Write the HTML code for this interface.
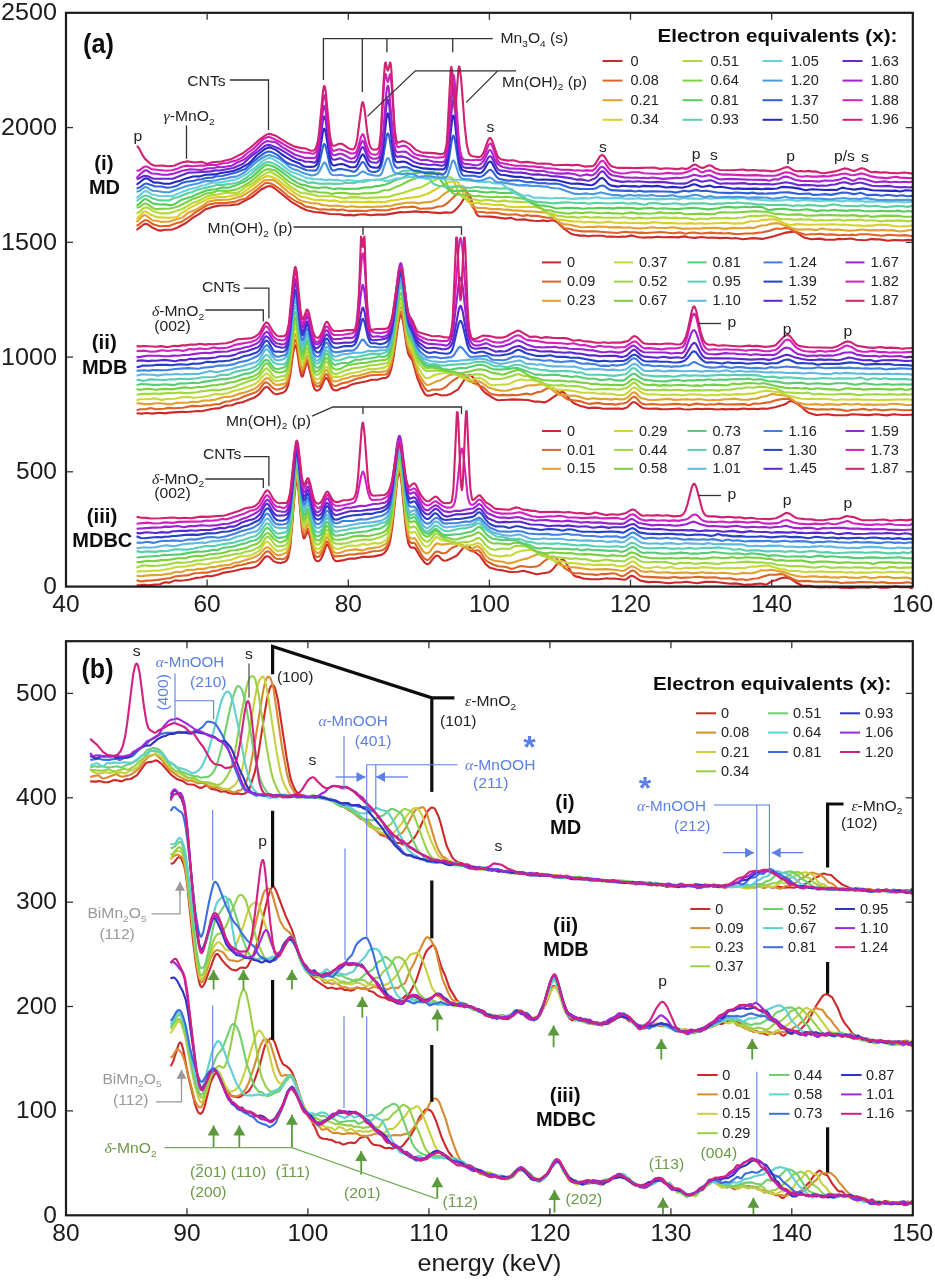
<!DOCTYPE html>
<html><head><meta charset="utf-8"><style>
html,body{margin:0;padding:0;background:#fff;}
svg{display:block;}
text{font-family:"Liberation Sans", sans-serif;}
</style></head><body>
<svg width="935" height="1280" viewBox="0 0 935 1280">
<defs><filter id="soft" x="0" y="0" width="100%" height="100%"><feGaussianBlur stdDeviation="0.45"/></filter></defs>
<rect width="935" height="1280" fill="#fff"/>
<g filter="url(#soft)">
<path d="M136.6 230.0l7 -5.5 2.1 -0.8 2.2 0.7 4.2 3.1 6.3 2.9 2.2 0.2 4.2 -0.8 5.6 0 2.9 -0.6 4.2 -1.7 8.5 -4.5 7 -5.3 6.4 -3.9 5.6 -4.3 7.8 -2.6 7 -1.4 10.6 -0.3 7.8 -1 14.1 -7.3 8.5 -7.1 6.3 -3.3 2.1 -0.4 2.9 0.7 2.1 1.2 18.3 14.7 7.8 4.5 6.3 3 7.8 1.8 7.8 0.6 7.7 1.4 9.9 0.3 4.9 0.8 5 -0.2 4.2 0.5 5.7 -0.9 5.6 -0.1 5.6 0.8 5.7 -0.6 9.2 0 14.8 -2.5 4.2 0.2 11.3 -0.9 6.4 0.7 4.9 -0.4 3.5 0.7 9.2 0.7 5.6 -0.7 5 0.4 2.8 -1 4.2 -4.1 2.9 -3.5 4.9 -8.1 1.4 -1.3 1.4 -0.5 0.7 0.1 1.4 2.2 3.6 11.1 2.1 5.3 1.4 2.2 1.4 1 12 0.4 14.8 2 5 -0.8 5.6 1.9 9.2 -0.3 4.2 1 4.3 0.4 5.6 0.2 3.5 -0.6 4.3 0.8 4.2 -0.9 2.1 0.2 2.1 0.8 2.1 1.4 6.4 6.3 7.1 4.8 2.1 0.7 6.3 1.1 4.3 -0.1 4.2 0.8 4.2 -0.6 9.9 0 4.9 1 3.6 -0.2 8.4 0.5 2.9 -0.4 3.5 0.2 6.3 -1.4 6.4 1.9 6.3 0.3 3.6 -0.4 4.2 0.2 5.7 -0.7 4.2 0.6 9.9 -0.2 5.6 0.3 6.4 -1 4.2 0.9 6.3 0.6 7.1 -0.9 5.7 0.8 5.6 -0.3 7.1 0.6 7 -0.3 4.9 0.7 3.6 -0.5 7 1.3 10.6 -1.2 9.2 0.8 11.3 -2.6 10.6 -3.4 9.1 -1.3 2.9 0.8 7.7 5.2 7.1 1.6 8.5 -0.6 5.6 1 9.2 0.1 4.2 -0.8 4.2 0.4 8.5 -0.8 4.9 1.3 7.8 0.4 2.8 -0.2 4.3 -1.1 3.5 0.5 4.9 0 8.5 1.3 5.6 -0.7 9.2 0.4 5 -0.5 4.9 0.1" stroke="#cc2a2a" stroke-width="2.1" fill="none" stroke-linejoin="round"/>
<path d="M136.6 225.8l2.1 -1.1 4.9 -3.8 2.1 -0.8 2.2 0.6 5.6 3.9 6.4 1.6 9.1 -0.3 7.8 -2.8 4.2 -1 9.9 -6.2 4.2 -3.3 10.6 -6.6 2.8 -1.4 6.4 -1.4 12 -0.3 7.8 -1 6.3 -2.4 4.9 -1.1 18.4 -14.6 1.4 -0.8 1.4 -0.2 3.5 0.7 3.6 1.7 6.3 4.3 7.1 6.3 8.4 5.7 5 1.9 4.2 3 7.1 1.2 7 1.9 4.3 -0.1 4.9 0.4 4.2 -0.4 5 0.7 4.9 -0.6 5.7 1.4 7.7 -0.3 9.9 0.4 7.8 -1.3 4.9 0.7 9.2 -0.1 4.2 -1.3 4.3 -0.5 4.9 -1.3 6.3 0.1 5 -0.7 2.8 0.4 4.2 1.8 12 -0.4 5.7 -1.7 4.9 -0.5 2.1 -0.9 3.6 -2.6 12 -11.5 2.1 -1.4 2.8 -0.7 0.7 0.3 1.4 2.2 3.5 10.6 2.2 4.9 2.1 2.9 2.8 1.8 4.9 0.2 4.3 0.8 5.6 -0.3 5.7 0.4 4.2 1 6.4 0.8 7.7 -0.5 6.4 1.7 4.9 -0.8 3.5 0.8 5.7 0 10.6 1.9 4.9 -0.3 2.1 0.7 2.8 1.9 5.7 7 1.4 1.1 4.9 0.5 5 1.6 8.4 1.1 11.3 -0.1 23.3 1.7 7.8 -1.2 4.2 0.5 5 -0.1 4.2 0.7 3.5 -0.3 4.3 0.4 14.8 -1 12 1.3 7.7 -0.9 5 1.4 4.2 -1 3.5 -0.3 7.8 1 9.9 -0.9 5.6 0.7 3.6 -0.2 4.2 0.4 4.2 -0.5 5 0.9 6.3 0.1 5.7 -0.5 7.7 -0.1 9.2 -1.1 7.8 -1.7 5.6 -2 5.6 0.2 5 -0.9 2.1 0.3 5.6 3 11.3 3.6 5 -0.6 4.9 0.1 5 -0.6 5.6 0.9 4.9 -0.2 9.2 0.9 4.3 -0.6 4.2 0.5 3.5 -0.6 3.5 0.7 4.3 -1 2.1 -0.1 6.3 0.1 13.5 1.4 7 -0.9 9.9 0.7 6.3 -0.4 7.8 1.1" stroke="#dd6428" stroke-width="2.1" fill="none" stroke-linejoin="round"/>
<path d="M136.6 222.0l5.6 -5.8 2.1 -1.1 2.1 0.7 6.4 4.7 4.2 0.3 4.3 1.1 8.4 -0.4 11.3 -3.4 2.1 -1 5 -4.3 8.4 -3.3 5.7 -3.5 5.6 -4.2 8.5 -1.7 13.4 -0.6 12 -3.2 11.3 -6.9 9.9 -8.2 2.8 -1.2 3.5 -0.3 3.6 0.4 2.1 0.8 5.6 4.2 9.2 8.1 4.2 2.4 5 4.1 2.8 1.2 9.2 2.2 7 0.4 5 1.8 2.8 0 4.2 0.7 6.4 -0.5 10.6 1.5 4.9 -0.8 7.8 1.1 5.6 -0.5 7.8 0.2 4.2 -0.5 4.2 0.2 5 -0.8 3.5 0.3 5.6 -1.6 10.6 -1.8 7.8 -0.3 4.2 0.9 4.3 -0.8 8.4 -0.7 7.1 -2.7 5.6 -4.8 6.4 -4.2 4.2 -3.6 2.8 -0.8 4.3 -0.1 1.4 0.5 1.4 2.1 6.3 15 2.2 2.4 3.5 1.8 2.1 0.5 6.4 0 7 1.1 8.5 -0.1 4.2 0.7 3.5 -0.1 5.7 1 6.3 -0.1 5.7 0.9 4.9 -0.2 16.3 1.4 2.1 0.7 3.5 1.8 5.6 6.1 2.9 2.1 2.8 0.8 6.3 0.6 11.3 2.5 3.6 0 4.2 -0.5 4.2 0.4 4.3 -0.5 7.7 0.1 5 0.7 9.1 -0.3 5 0.6 4.9 -0.5 5 1 6.3 0.2 4.2 -0.1 7.8 -1.1 4.2 0.6 9.9 0.2 5.7 -0.7 10.6 1.6 3.5 -0.4 4.2 0.2 3.5 -0.5 5 0.5 4.2 -0.6 13.4 -0.4 8.5 1.2 7.8 -1 9.1 0.4 7.1 -0.7 4.9 0.4 7.1 -2.5 4.9 -0.3 4.3 -1.3 6.3 -0.8 3.5 0.6 13.4 5.1 4.3 0.8 12.7 -0.3 5.6 0.8 6.4 -1.5 2.8 0.6 7.8 0.7 4.9 -0.4 10.6 1.2 6.3 -0.3 7.1 -0.9 7 0.9 5.7 -0.3 4.2 0.3 3.6 -0.5 4.9 0.6 4.2 -0.4 8.5 1.4 12.7 -1.7" stroke="#e0a030" stroke-width="2.1" fill="none" stroke-linejoin="round"/>
<path d="M136.6 218.9l5.6 -5.7 1.4 -1.1 1.4 -0.5 1.4 0.3 4.3 2.9 7.7 2.6 9.9 0.4 7.8 -0.6 2.1 -1.1 4.2 -3.6 4.3 -2.3 4.2 -3 19.1 -9.1 9.8 -1.2 5 0.1 12.7 -2.2 4.2 -1.4 11.3 -7.7 5.6 -5 7.1 -4.2 2.8 -0.6 2.1 0.6 7.1 3.3 17.6 13.5 5.7 3.2 14.1 3.6 5.6 -0.4 9.2 1.2 5 -0.5 5.6 1.5 4.9 -0.4 5 0.5 7 -0.2 5.7 0.4 6.3 -0.6 4.3 0.5 3.5 -0.2 7.1 0.4 6.3 -1.7 3.5 -0.3 13.4 -2.3 12 -1.4 8.5 -3.1 8.5 -4.5 3.5 -2.4 7.8 -4 4.9 -1.1 3.5 0 1.4 0.5 1.5 1.6 6.3 14.7 2.1 3.3 2.1 1.4 8.5 0 3.5 0.6 4.3 0.1 5.6 1.1 5.7 0.3 4.9 -0.3 4.2 1.5 8.5 0.9 13.4 -0.5 8.5 0.4 7.7 2.6 5.7 5.2 7 4.5 15.6 2 7.7 0.1 3.6 0.9 7.7 -0.6 5.7 0.8 5.6 -0.1 5.7 -1.1 5.6 1.3 7.8 0.2 3.5 -0.4 4.2 0.7 4.3 -0.5 12 0.7 6.3 -1 4.2 -0.2 5.7 0.9 11.3 0 4.2 0.4 7.1 0 5.6 -0.4 4.2 0.6 6.4 -0.4 4.2 0.4 20.5 -1 7.8 0.9 10.5 -0.5 5.7 -1.8 7.8 0 4.2 -1.2 10.6 -0.9 2.1 0.2 5.6 1.8 5.7 2.8 4.9 1 6.4 -0.9 11.3 0.7 25.4 -0.5 4.9 0.5 4.2 -0.3 12 1 4.3 -0.3 4.2 0.9 4.2 -0.6 5 0.1 4.2 -0.7 9.9 -0.1 10.6 1.7 11.3 -0.4 4.2 -0.9" stroke="#d8d02c" stroke-width="2.1" fill="none" stroke-linejoin="round"/>
<path d="M136.6 213.7l2.8 -1.8 4.2 -3.8 2.1 -0.9 2.2 0.6 6.3 3.8 4.9 1.5 2.2 0.3 7.7 -0.2 4.3 -1.1 3.5 -1.5 5.6 -1.6 9.2 -5.7 5.7 -1.8 9.1 -4.7 3.6 -1.4 6.3 -0.6 9.2 -2.1 6.3 0.6 5.7 -0.7 2.1 -1.1 6.3 -4.7 6.4 -3 7.8 -6.9 7 -4.2 2.8 -0.8 2.2 0.6 8.4 5.5 10.6 9.1 9.9 5.9 4.9 0.3 12.7 2.8 14.1 0.2 11.3 2 5.7 -0.9 6.3 -0.3 9.2 1 24 -1.2 4.2 -1.7 9.9 -2.4 12.7 -4.4 5.7 -1.2 8.4 -4.9 9.2 -3.9 6.3 -1.2 5 0.1 1.4 0.7 1.4 2.1 4.2 10.1 2.2 3.8 2.8 3.1 3.5 1.9 2.8 0.5 5 -0.3 6.3 1.6 7.1 -1.1 4.9 0.7 5 1.2 7 -1 4.3 0.8 24.7 1.1 2.1 0.7 2.1 1.4 7 6.8 2.9 2 4.9 0.4 4.9 1.9 3.6 0.2 7 1.3 5 -0.3 5.6 0.9 7.1 -1.1 5.6 1 6.4 -0.6 6.3 0.6 16.2 0 3.6 -0.5 9.9 1.4 5.6 -1 9.2 0.9 4.9 -0.8 3.5 0.2 8.5 -0.5 5 0.9 4.9 -0.7 4.9 0.7 5.7 -0.4 9.1 1.6 5.7 -1 7.1 0.5 4.2 -0.9 11.3 0.2 4.2 -0.6 7.1 0.8 3.5 -0.7 4.9 -0.3 5.7 -1.3 3.5 -0.3 7.1 0.2 7 -0.9 7.1 1.3 5.6 2.1 4.3 0.7 4.9 -0.2 7.1 0.6 5.6 -0.6 4.2 0.7 4.3 -0.6 7 1.6 5 -0.8 4.9 0.5 12.7 -0.9 4.9 1.1 4.3 -0.6 7.7 0.1 4.3 -0.7 4.9 1 11.3 0 4.9 0.9 5.7 -0.9 4.9 0.4 7.8 -0.5 9.9 1 3.5 -1.1" stroke="#b0d838" stroke-width="2.1" fill="none" stroke-linejoin="round"/>
<path d="M136.6 207.8l2.8 -0.7 4.2 -3.1 1.4 -0.5 2.2 0.6 5.6 3.8 2.8 1.2 14.1 -0.6 5 -1 4.9 -1.7 12.7 -6.5 6.4 -2.2 7 -3.5 7.1 -1 5.6 -2.1 7.1 0.4 4.9 -0.3 7.1 -1.4 12 -6.9 4.9 -3.8 7.8 -6.9 3.5 -1.9 2.8 -0.6 6.4 1.3 7 5.3 4.3 4 2.8 2 8.5 4.7 5.6 1.8 5.6 3 2.2 0.4 3.5 -0.4 4.2 1.1 8.5 0.4 4.9 1.2 5 -0.9 7 -0.2 5 0.8 9.1 0.4 5.7 -0.8 7 -0.1 7.1 -0.6 5.7 -2.2 4.2 0 1.4 -0.3 6.3 -2.9 4.3 -1.5 9.2 -4.9 9.1 -3.3 7.8 -1.5 4.2 -1.5 6.4 -1.5 2.1 -0.1 2.1 0.6 1.4 1.2 2.1 3.7 5.7 11.9 2.1 2.4 2.8 1.5 3.6 0.6 6.3 0.1 5.6 0.5 4.3 0.9 4.2 -0.5 4.2 1 4.3 0 3.5 0.5 5.7 -0.5 5.6 0.6 4.9 -0.5 16.3 1.8 6.3 1.5 7.1 6.4 7 3.3 2.2 0.4 4.2 0 4.9 1.8 13.4 1.6 6.4 -1.1 6.3 0.6 7.8 -0.9 12.7 1 6.4 -0.4 4.9 0.6 4.2 -0.2 5 0.6 9.1 -1.4 7.1 1.2 5.6 -0.3 4.3 0.5 7 -0.6 4.3 -0.8 7 0.8 4.3 -0.2 3.5 0.4 4.9 -0.7 6.4 1.5 15.5 -0.6 4.9 0.5 7.1 -0.1 1.4 -0.1 4.9 -1.6 15.6 0.2 20.4 -1.4 6.4 0.6 4.2 -0.1 9.2 2.3 4.2 0 7.8 0.9 13.4 -0.4 4.2 1 3.6 0.3 9.1 -0.3 4.3 -0.5 4.2 0.4 3.5 -0.2 18.4 0.5 4.9 -0.5 8.5 1.3 5.6 -0.9 5 1.4 12.7 -1.3 14.1 0.3 4.2 0.7 9.9 0.2" stroke="#80d040" stroke-width="2.1" fill="none" stroke-linejoin="round"/>
<path d="M136.6 205.6l2.8 -1.8 4.2 -4.1 1.4 -0.6 2.2 0.6 4.9 3.2 2.8 1 5 0.6 4.9 -0.3 4.2 0.9 2.9 0 3.5 -1.4 6.3 -4 10.6 -3.2 4.2 -2.1 10.6 -4.1 8.5 -1 6.4 -1.9 6.3 0.3 5.6 -1.6 9.2 -3.8 8.5 -4.9 11.3 -10.3 2.1 -1.5 2.1 -0.6 4.2 0.7 2.9 1.1 6.3 4.1 11.3 8.6 8.5 4.9 4.9 0.9 5.7 1.8 7 0.9 7.8 -0.8 7.7 1.9 5.7 -0.8 4.2 0.6 14.8 -0.3 7.8 -1.3 4.9 0.1 3.6 -1 4.9 -0.5 5.7 -1.2 5.6 -2.1 4.2 -2.3 5.7 -1.5 3.5 -1.6 3.5 -2.3 2.2 -0.8 12.7 -1.8 7.7 -0.5 2.8 0.2 1.5 0.3 1.4 1 9.1 12.8 2.9 2.8 2.8 1.6 2.1 0.4 5.7 -0.2 9.8 0.6 6.4 -0.6 6.3 1.2 6.4 0.6 5.6 -0.8 7.1 1.3 7.7 -0.2 3.6 0.3 4.9 -0.6 5.7 2.7 7.7 6.8 5 2.8 2.1 0.5 8.4 0.4 6.4 1.3 4.9 1.5 9.9 -0.8 11.3 0.4 5.7 0.6 4.9 -0.4 6.3 0 5 -0.6 6.3 0.6 3.6 -0.2 3.5 0.5 5.6 -1 4.3 0.4 4.2 -0.3 5.7 0.3 4.9 0.9 13.4 -1.1 4.9 0.9 6.4 -0.5 14.1 0.9 16.2 -1.3 15.6 1.6 10.5 -1.2 3.6 -0.9 7 -0.4 5.7 0.7 9.1 -0.9 5.7 0.6 8.5 -0.7 4.9 0.8 4.2 2.2 2.1 0.5 6.4 -1 7.8 -0.3 9.8 1.5 7.1 -0.3 6.4 -0.8 9.8 1.9 5 -0.8 6.3 0.5 6.4 -1.1 4.2 0.9 3.5 -0.2 3.6 0.5 4.2 -0.5 9.2 0 5.6 0.9 10.6 0 4.9 -0.6 6.4 0.6 3.5 -0.3 3.5 0.2 4.3 -0.6 5.6 1.2 5 -0.8 4.2 0.6" stroke="#58cc58" stroke-width="2.1" fill="none" stroke-linejoin="round"/>
<path d="M136.6 201.0l7 -5 2.1 -0.6 3.6 1.1 4.2 2.3 6.4 1.6 9.1 0.1 5 -2.5 4.2 -0.7 7.8 -3.6 5.6 -1.4 5.7 -2.4 4.9 -1.4 9.9 -2.1 4.9 -1.6 6.4 0.3 4.9 -1.1 4.2 -0.2 5 -1.2 2.8 -1.2 7.1 -4.4 14.8 -12.5 2.8 -1.7 2.8 -0.8 3.5 0.6 4.3 1.8 16.2 11.3 7.1 3.6 4.2 1.1 4.9 2.5 4.3 -0.5 7 1.4 9.9 -0.3 4.2 0.4 8.5 -0.2 4.2 -0.9 7.1 0.5 6.4 -1.8 5.6 0.1 6.4 -1.6 8.4 -0.4 5.7 -1.5 4.9 -2.2 4.9 -1.4 7.1 -3.5 8.5 -0.8 5.6 0.4 2.8 0.5 4.3 1.5 2.8 2.7 6.3 8 2.2 1.3 4.2 1.4 6.3 0.7 14.9 0 9.8 1.3 6.4 -1.2 4.9 0.8 5 0 4.2 0.8 4.2 -0.3 5 0.7 4.2 -0.5 2.1 0.1 4.3 0.7 2.1 0.7 9.9 8.2 3.5 1.9 9.2 1.7 18.3 1.8 10.6 -1 7.1 0.1 4.9 0.7 7.1 -0.5 5.6 1.1 6.4 -1 12.7 0.7 14.8 -0.8 4.9 1.1 7.1 -0.7 9.8 1.6 5 -1.4 6.3 -0.2 8.5 1.2 10.6 -1 9.2 1.3 6.3 -1.2 14.1 0 7.1 0.9 4.9 -0.7 7.1 0 4.9 -0.8 4.3 0.4 4.2 -0.7 4.2 0.2 3.6 0.8 4.2 -0.3 8.5 1.3 4.9 0 5.6 0.5 17 -0.3 7.7 1.3 5 -0.7 4.9 0.4 5.7 -0.8 15.5 1.3 9.2 -2 8.4 1.5 16.3 0.5 4.9 -0.9 5.6 1.2 8.5 -0.7 7.1 1.4 12.7 -1.1 6.3 0.1 4.3 0.7 5.6 -1.1" stroke="#58d0a0" stroke-width="2.1" fill="none" stroke-linejoin="round"/>
<path d="M136.6 198.1l7 -6.2 1.4 -0.8 2.2 0.3 4.2 2.8 7.7 1.8 3.6 0.3 4.9 -0.6 4.3 0.6 11.2 -4.7 7.1 -2.5 7.1 -1.6 3.5 -1.7 4.2 -0.6 5.7 -2.1 4.2 -0.6 4.9 0.1 16.3 -3.1 6.3 -3.1 5 -3.1 4.2 -3.3 3.5 -2 5 -5.1 2.1 -1.6 5.6 -3.1 2.1 -0.4 1.4 0.4 9.2 5.4 6.4 5.3 3.5 2.5 9.2 3.4 5.6 2.8 8.5 1.5 7.8 0.3 4.2 0.7 4.2 -0.6 3.5 0.6 3.6 -0.2 4.2 0.8 3.5 -0.1 3.6 -0.6 4.9 0.8 6.4 0.2 7 -1.1 3.5 0.3 8.5 -0.7 8.5 1.6 4.9 -1.1 4.3 -1.6 4.9 0.2 7.8 -1.8 5.6 0.2 3.5 0.8 3.6 -0.1 4.9 1.2 8.5 -1 10.5 1.4 17.7 0.7 4.9 0.7 4.3 -0.2 5.6 1.4 3.5 -0.5 3.6 0.5 3.5 -0.1 5.6 1.6 5 -0.1 2.1 0.5 2.8 1.7 9.9 7.6 3.5 1.6 6.4 1.1 4.2 -0.5 5.7 2.4 6.3 -0.1 10.6 0.9 4.9 -0.5 7.1 0 9.9 0.9 11.3 -0.8 4.9 0.4 7.8 -1.3 7.7 1.3 16.3 -0.6 4.9 0.8 4.2 -0.2 4.3 0.3 4.9 -0.7 5.6 1.2 5 -0.7 7.7 0.8 14.2 -0.8 6.3 0.9 6.4 -1.5 4.2 0.8 4.2 -0.4 8.5 0.6 4.2 -1 4.3 0.6 12 -0.7 13.4 0.8 7.7 -0.9 7.8 1.7 5.6 -0.3 4.3 0.8 14.1 0.6 7 -0.1 7.1 -1 9.2 1.5 6.3 -1.1 15.6 1.4 9.1 -0.7 8.5 0.2 4.9 0.6 6.4 -1 4.2 0.7 8.5 -0.1 4.2 0.9 3.5 -0.5 5.7 0.4 4.9 -0.5 5 0.4 3.5 0.7 4.2 -0.7 6.4 0 5.6 0.8 8.5 -1" stroke="#68d0d8" stroke-width="2.1" fill="none" stroke-linejoin="round"/>
<path d="M136.6 191.7l2.8 -0.7 4.9 -3.5 1.4 -0.4 1.5 0.4 3.5 2.4 2.1 0.8 4.2 0.3 7.1 1.3 5.6 -0.2 17.7 -6.4 11.3 -2.5 6.3 -2.2 5 0.1 6.3 -0.8 4.2 -1 5 -0.7 4.2 -1.2 6.4 -0.8 3.5 -1.5 5.6 -3.3 9.2 -8.2 4.2 -3.2 7.1 -4.4 3.5 -0.9 3.6 0.8 7.7 3.7 4.3 3.2 4.9 4.4 2.8 1.7 5.7 1.7 4.9 2.5 8.5 2.4 4.2 -0.9 2.1 -1.3 2.1 -3 2.9 -6.2 1.4 -1.6 0.7 0.2 0.7 0.8 4.2 9.3 1.4 1.6 1.4 0.6 3.6 0.2 4.9 -0.4 5.7 1.4 8.4 -0.5 2.1 -0.5 3.6 -3 2.1 -0.8 4.9 2.7 6.4 1.4 4.9 0.2 1.4 -1 1.4 -2.2 4.3 -12.8 1.4 -1.8 0.7 0.4 0.7 1.2 4.2 11.6 2.1 2.2 6.4 1 4.9 -0.9 2.2 0.1 4.9 1 4.2 2 2.1 0.4 9.9 -0.6 5.7 0.9 8.4 0.5 2.2 -0.7 1.4 -2 4.2 -13 0.7 -1.3 0.7 -0.4 1.4 1.9 3.6 11.1 1.4 3.2 1.4 1.7 2.1 0.9 6.3 0.2 4.3 1.4 4.2 0.1 4.2 -0.6 6.4 -2.5 1.4 -0.2 1.4 0.6 3.5 3.2 2.2 0.9 4.9 0.2 16.9 3 7.1 -0.3 6.3 1 4.3 -0.4 4.9 0.7 5 0.2 3.5 1.1 4.2 0.6 5 0.2 15.5 5.4 5.6 0.1 5.7 -0.6 3.5 0.6 4.2 0.1 7.1 -1.7 11.3 2.7 5.6 0 5 0.9 7 -1.1 4.3 0.9 3.5 -0.5 9.2 0.4 4.9 -0.7 4.2 0.7 7.1 0.4 4.2 -0.1 5 -0.9 5.6 1.6 7.1 -0.1 3.5 -0.2 4.2 -1.3 2.9 -0.3 3.5 0.6 5.6 1.8 5.7 -1.3 5.6 1.6 12 -0.8 4.2 0.4 7.1 -0.3 9.9 1 4.9 -0.4 13.4 0.3 5 1 7.7 -0.8 5 -1.2 4.2 1 7.1 0.6 9.8 -0.2 8.5 0.7 4.2 -0.2 10.6 0.7 2.9 0 4.2 -0.8 3.5 0 3.5 -0.5 5.7 0.8 6.3 -0.1 4.3 0.3 6.3 -0.9 12.7 2.2 5 -0.4 9.1 0.3 4.3 -0.5 4.2 0.4 7.1 -0.3 2.1 0.3 2.1 0.8" stroke="#4898e0" stroke-width="2.1" fill="none" stroke-linejoin="round"/>
<path d="M136.6 188.6l3.5 -1.4 4.2 -3.1 2.1 -0.6 9.2 3 5.7 0 5.6 1.2 5 -0.5 4.9 -1.4 4.9 -2.7 5 -1.4 7 -0.8 4.3 -1.3 3.5 -0.3 4.9 -1.4 5.7 -0.1 4.2 -1.6 5.7 -0.2 14.1 -3.5 9.1 -3.4 7.1 -6.6 5.6 -4.6 7.1 -5.2 3.5 -1.2 2.8 0.4 5.7 2.7 9.2 7.6 3.5 1.8 4.9 1.4 12 4.8 9.2 0.4 1.4 -1.3 1.4 -3.1 4.3 -19.3 0.7 -2.1 0.7 -0.8 0.7 0.6 0.7 1.8 4.2 19.3 1.4 3.3 1.4 1.4 1.5 0.1 4.2 -1.4 2.8 -0.1 7.1 1.3 4.2 1.3 2.1 0 1.4 -0.8 1.4 -1.6 4.3 -6.7 1.4 -0.5 1.4 1.3 3.5 6.2 1.4 1.6 2.9 0.9 3.5 -0.1 2.1 -0.9 1.4 -1.1 2.1 -4.2 1.4 -5.9 3.6 -22.7 0.7 -2.7 0.7 -1 0.7 0.9 0.7 2.5 4.2 25 0.7 2.4 1.4 2.7 2.2 1.1 4.9 -1.1 4.2 0.3 2.2 0.7 4.9 2.9 3.5 0.3 7.8 1.9 4.2 0 12.7 1.4 1.4 -0.2 1.4 -1 1.5 -2.4 1.4 -4.8 4.2 -26.8 0.7 -2.6 0.7 -0.9 0.7 1 0.7 2.7 3.6 23.3 1.4 6.5 2.1 5 1.4 1.3 1.4 0.3 9.2 -0.1 4.9 1.2 2.1 -0.1 2.9 -1.6 4.9 -4.9 2.1 -0.5 1.4 1 4.3 6 2.1 1.9 9.1 1.9 10.6 -0.4 8.5 2 5.6 -0.2 7.1 1.2 4.9 -0.2 4.3 0.8 7 -0.3 4.3 0.7 9.8 3.5 9.9 1.2 13.4 0.1 2.9 -0.7 4.2 -2.4 2.1 -0.5 2.1 0.6 4.3 3.2 2.1 0.9 14.1 0.8 4.9 -0.3 5.7 0.9 4.2 -0.7 4.9 0.8 9.9 -0.4 17 0.6 4.2 0.8 8.5 -1.8 4.9 0.6 7.8 -1.3 4.2 0.9 5.6 -0.2 10.6 1.7 14.1 0.6 4.3 -0.6 12 0.9 4.9 -0.8 5 1 4.2 -0.2 3.5 0.4 3.5 -0.5 5.7 0.1 5.6 -0.9 8.5 -0.1 10.6 1.6 9.9 -0.5 4.2 1.4 6.4 -0.2 4.9 -0.6 6.3 0.8 12 -2.4 4.3 0.3 6.3 1.3 2.1 -0.2 5 -1.2 6.3 2.4 9.2 -0.4 5.7 1.1 5.6 -1 9.2 1.2 5.6 -0.8 5 1.1 5.6 -0.4" stroke="#3060d8" stroke-width="2.1" fill="none" stroke-linejoin="round"/>
<path d="M136.6 184.8l7 -5.6 2.1 -0.9 2.2 0.5 5.6 3.6 5.6 0.4 5 1 5.6 0 6.4 -2 4.2 -1 5.7 -2.4 7 -1.9 6.4 -0.1 6.3 -1.6 9.2 -0.4 4.9 -1.2 13.4 -2.2 6.4 -2.4 8.5 -4.7 2.8 -2.4 5.6 -6 7.8 -6 4.2 -2.1 2.1 0.2 5.7 2.5 4.9 3.9 5.7 3.7 5.6 3.1 6.4 2.4 4.9 3.1 2.1 0.5 5.7 0.1 2.8 -0.4 2.1 -1.6 1.4 -3.2 0.7 -2.6 4.3 -26.9 0.7 -2.7 0.7 -0.9 0.7 1 0.7 2.7 4.2 26.4 1.4 4.5 1.4 2 1.5 0.4 4.9 -1.4 2.8 -0.2 2.1 0.5 6.4 2.8 4.2 -0.1 1.4 -0.7 1.4 -1.8 3.6 -8.3 1.4 -1.9 0.7 -0.1 1.4 1.9 3.5 7.6 2.1 2.6 2.2 0.9 4.2 0.4 1.4 -0.2 1.4 -1.2 0.7 -1.2 1.4 -4.8 1.4 -9 3.6 -32.7 0.7 -3.9 0.7 -1.4 0.7 1.2 0.7 3.7 4.2 35.7 0.7 3.4 1.4 3.7 0.8 0.7 1.4 0.5 4.9 -0.7 2.1 0.2 2.1 0.7 6.4 3.6 9.9 2.3 13.4 1 6.3 0 1.4 -0.4 1.4 -1.6 1.5 -4.5 0.7 -3.8 4.2 -38.5 0.7 -3.8 0.7 -1.3 0.7 1.4 0.7 4 3.6 34 1.4 8.9 0.7 2.7 1.4 3 1.4 1.1 4.2 1.1 11.3 1.4 2.1 -0.3 1.4 -0.9 1.5 -1.7 4.2 -7.2 1.4 -1.3 0.7 -0.2 0.7 0.2 1.4 1.6 3.6 7.1 1.4 2.1 1.4 1.3 2.1 1 3.5 0.2 10.6 1.9 5.6 -0.1 5 1 4.9 0 4.3 1.4 3.5 0.6 4.9 -0.3 12.7 0.6 15.6 3.7 7.7 -0.2 11.3 1.6 2.1 -0.2 1.4 -0.6 2.2 -1.6 4.2 -4.2 2.1 -0.7 2.1 1.4 3.6 4.3 1.4 1.1 2.1 0.9 6.3 1 5 -0.9 7.7 0.7 4.3 -0.3 4.2 0.7 4.9 -0.9 8.5 0.5 4.9 -0.5 9.2 1.6 5.7 -0.6 9.8 0.8 6.4 -1.5 4.2 -1.7 1.4 -0.2 1.5 0.2 5.6 2.3 2.1 0 6.4 -1.2 4.9 1.6 6.4 -0.4 12 2 4.9 -0.4 5.6 0.5 13.4 -0.3 5 0.6 4.2 -0.6 5.7 0.3 5.6 -0.4 3.5 -1.3 2.2 -0.3 9.8 0.7 7.8 1.3 4.9 1.3 6.4 -1 13.4 0.8 7.1 -0.3 4.2 0.3 5.6 -2.4 4.3 0.9 7.7 1.1 8.5 -1.2 9.9 1.8 18.3 0.7 4.3 -0.3 4.9 0.9 5.6 -1.2 7.1 0.5" stroke="#2828c0" stroke-width="2.1" fill="none" stroke-linejoin="round"/>
<path d="M136.6 179.2l2.8 -1 4.2 -2.2 2.1 -0.3 2.2 0.5 4.2 2.1 2.1 0.5 18.4 0 16.2 -6.2 6.3 -0.1 15.6 -1.1 4.9 -1 4.2 0.1 13.4 -2.5 9.9 -4.2 9.9 -9 5.6 -3.8 6.4 -5.1 2.8 -1.1 2.1 0.2 9.2 3.6 11.3 7.1 7.1 3.7 4.2 0.9 3.5 1.5 4.3 -0.1 4.9 0.9 1.4 -0.9 0.7 -1.1 1.4 -4.2 1.4 -7.8 3.6 -28.2 0.7 -3.1 0.7 -1 0.7 1.3 0.7 3.3 4.2 31.9 1.4 4.9 1.4 1.8 2.2 0.3 4.2 -1.4 1.4 0 7.1 3.1 4.9 0.8 2.1 -0.1 1.4 -1 1.4 -2.4 3.6 -9.7 1.4 -2 0.7 0.1 0.7 0.8 3.5 9.2 2.1 3.8 2.2 1.3 4.2 0.5 1.4 -0.2 2.1 -2 1.4 -3.7 0.7 -3.1 1.4 -10.1 3.6 -38.2 0.7 -4.4 0.7 -1.7 0.7 1.4 0.7 4.1 4.2 41.9 0.7 4.1 1.4 4.6 1.5 1.4 4.2 -0.5 4.2 0.9 3.6 1.6 5.6 3.4 4.2 1.3 11.3 1.4 4.3 -0.5 7 1.2 2.1 -0.3 1.4 -1.3 1.5 -3.7 1.4 -8.1 4.2 -45.9 0.7 -4.5 0.7 -1.6 0.7 1.7 0.7 4.7 3.6 40.9 1.4 10.9 0.7 3.4 1.4 3.6 1.4 1.4 2.8 1 7.1 0 5.6 0.9 2.1 -0.4 1.4 -1 1.5 -1.6 4.2 -7.8 1.4 -1.6 0.7 -0.2 0.7 0.2 1.4 1.8 5 10.2 1.4 1.5 1.4 0.7 4.2 0.2 8.5 1.6 8.5 0.2 5.6 0.8 4.9 1.2 7.1 -0.2 4.9 0.8 3.6 0.1 4.2 1 5.6 0.1 14.9 2 4.2 1.2 4.9 -0.2 6.4 1.4 2.1 -0.3 5.7 -2.3 1.4 -1.2 3.5 -4.6 2.1 -1.2 1.4 0.6 4.3 5.3 2.8 2.1 2.8 1.2 8.5 1.5 7 -0.7 4.3 0.5 4.9 -0.5 10.6 1.1 12.7 -0.4 12.7 1.5 10.6 0.2 2.1 -0.5 6.3 -3.1 2.2 -0.5 6.3 2.2 7.8 -1.4 2.1 0.1 5.6 2.6 2.9 0.7 5.6 -0.4 7.1 0.3 11.2 -0.5 5.7 1.1 4.2 -0.4 5 0.5 8.4 -0.2 5.7 0.4 12.7 -2.2 7 1.2 5.7 1.8 6.3 -0.4 8.5 0.3 4.2 0.7 5 -0.4 4.2 0.2 4.2 -0.9 4.3 -0.3 5.6 -1.8 2.8 -0.4 2.9 0.3 4.9 1.7 7.1 -1.5 2.8 -0.1 10.6 3.1 7.7 0.4 9.2 -0.3 4.9 0.9 7.1 0.6 4.2 -0.4 5 0.5 2.8 -0.7" stroke="#6a28d0" stroke-width="2.1" fill="none" stroke-linejoin="round"/>
<path d="M136.6 177.9l4.2 -4.4 3.5 -2.7 1.4 -0.5 1.5 0.3 2.8 2.1 2.1 0.8 4.9 0.3 5 1 6.3 -0.2 5.7 -1.1 8.4 -2.7 7.8 -1.6 11.3 0.8 6.3 -1.8 5 0.1 4.9 -1.3 4.3 0.2 9.8 -1.5 5 -2.9 7.7 -3.4 11.3 -9.1 6.4 -6.4 2.8 -2 2.1 -0.8 7.1 0.9 2.1 0.6 5.6 4.2 12.7 7.7 10.6 3.4 9.2 0.2 1.4 -0.9 0.7 -1.1 1.4 -4.5 1.4 -8.6 3.6 -32.2 0.7 -3.7 0.7 -1.2 0.7 1.3 0.7 3.7 4.2 35.5 1.4 5.8 1.4 2.5 0.7 0.4 1.5 0.1 4.2 -1.4 2.1 -0.1 2.1 0.8 6.4 3.7 2.1 0.4 2.1 -0.5 1.4 -1.2 1.4 -2 4.3 -11.6 1.4 -2.3 0.7 0 0.7 1 3.5 10.7 2.1 4 1.4 1.1 2.2 0.9 2.1 0.1 2.1 -0.4 1.4 -0.8 1.4 -2.6 1.4 -6.4 1.4 -12.1 3.6 -44.1 0.7 -5 0.7 -1.9 0.7 1.6 0.7 4.8 4.2 48 0.7 4.8 1.4 5.4 0.8 1.3 1.4 0.9 5.6 -0.8 2.8 0.4 6.4 4.6 8.5 3.6 5.6 -0.3 6.3 1.8 9.2 0.7 2.1 -0.8 1.4 -2.5 1.5 -6.3 0.7 -5.4 4.2 -53.1 0.7 -5.1 0.7 -1.6 0.7 2 0.7 5.4 3.6 45.6 1.4 12.3 0.7 4 1.4 4.5 1.4 1.9 1.4 0.7 4.9 0.3 5.7 1.2 2.8 -0.4 2.8 -1.1 2.9 -3.1 4.9 -10.1 1.4 -0.8 1.4 1.5 3.5 8.3 2.2 3.7 2.1 1.9 3.5 1.7 6.4 1.4 14.8 0.6 13.4 2.1 5.6 -0.4 5 1.6 4.2 0.3 3.5 0.8 7.1 0.2 4.9 -0.5 7.1 1.2 4.9 1.5 2.1 -0.2 4.3 -1.2 4.9 1 2.1 -0.4 2.9 -2.2 4.2 -5.3 2.1 -0.8 2.1 1.3 5 5.8 2.8 1.5 12 2.1 7.7 0.4 4.3 -0.3 4.2 0.5 3.5 -0.2 3.6 0.4 4.9 -0.7 10.6 1.4 13.4 -1 4.2 0.1 7.1 -1 6.3 -2.3 7.8 1.8 2.1 -0.2 4.3 -1.1 1.4 0 8.4 3.5 2.9 0.7 9.8 -0.5 19.8 0.9 14.1 0.1 4.9 0.9 4.3 -1.5 4.9 0.2 4.3 -2.4 2.8 -0.5 2.8 0.5 7.1 2.9 5.6 0.9 9.2 0.1 9.2 0.6 4.9 -1.1 7.8 0.2 5.6 -0.8 6.4 -2.1 2.1 0.4 6.3 2.6 2.1 -0.4 3.6 -1.8 4.9 0.1 12 3.6 9.2 -0.9 6.3 0.8 5 -0.5 4.2 0.5 4.9 -0.4 4.3 0.5 3.5 -0.9" stroke="#a820d0" stroke-width="2.1" fill="none" stroke-linejoin="round"/>
<path d="M136.6 170.6l2.8 -0.2 4.2 -3.3 2.1 -0.6 2.2 0.5 4.2 2.3 14.1 1.4 5.7 -0.5 6.3 -1.8 3.5 -1.7 5 -1.1 5.6 0.6 8.5 -0.7 3.5 0.1 5 -1 7 0.4 6.4 -1.7 4.9 -0.3 3.5 -1.4 4.3 -0.7 7 -3.5 5.7 -4.9 5.6 -3.9 9.2 -9.3 4.9 -2.3 1.4 0 2.1 0.8 7.8 3.7 10.6 6.3 8.5 3.4 6.3 1.5 3.5 0 4.3 1 2.1 -0.5 1.4 -1.2 0.7 -1.3 2.1 -9 4.3 -40.7 0.7 -4.1 0.7 -1.5 0.7 1.4 0.7 3.9 4.2 40 1.4 6.9 1.4 2.8 1.5 0.5 3.5 -1.4 2.1 -0.2 6.3 1.9 4.3 2.2 2.8 0.1 2.1 -0.7 1.4 -1.7 0.7 -1.6 3.6 -12.6 1.4 -2.7 0.7 0.1 0.7 1.1 3.5 11.7 2.1 4.9 1.4 1.6 1.5 0.7 2.8 0.4 2.1 -0.3 1.4 -1.6 0.7 -2.3 1.4 -10.7 3.6 -59.7 0.7 -5.5 0.7 -0.5 1.4 6.3 0.7 1.6 0.7 -1.4 1.4 -6.3 0.7 0.4 1.4 14.9 2.8 46.2 0.7 5.8 1.5 4.9 1.4 0.7 4.2 -1.5 2.8 0.2 2.8 1.9 5.7 5.7 2.8 1.4 12 2.1 4.2 0.2 2.9 0.5 7.7 -0.6 1.4 -1.3 0.7 -1.7 1.5 -6.9 0.7 -5.8 4.2 -58.5 0.7 -6 0.7 -2.3 0.7 1.9 0.7 5.8 3.6 52.1 1.4 13.9 0.7 4.3 1.4 4.8 1.4 1.8 1.4 0.5 7.1 0.5 4.9 -0.5 3.5 0.3 1.4 -0.5 1.4 -1.6 1.5 -2.6 4.2 -10.6 1.4 -1.3 0.7 0.3 1.4 2.3 5 13.6 1.4 2.1 1.4 1.1 15.5 3 8.5 0 4.9 0.7 4.3 -0.2 4.2 0.8 3.5 0 4.2 1 9.9 0.7 5.7 1 9.9 0.1 3.5 0.6 4.2 -0.3 4.2 0.5 3.6 -0.3 6.3 0.2 2.9 -1.9 4.9 -6.7 2.1 -1.3 0.7 0.1 1.4 1.2 4.3 6.3 2.1 2.1 2.8 1.5 7.1 1.6 4.9 -0.2 6.3 -1 7.1 0 4.9 0.9 11.3 0.6 6.4 0 6.3 -0.9 7.1 0.7 7 -0.2 7.1 -2.1 4.2 -2.3 1.4 -0.3 2.2 0.6 4.2 2.8 1.4 0.1 4.2 -1.5 3.6 -0.3 5.6 2.9 6.4 1.3 3.5 -0.2 19.8 1 10.5 -0.3 5.7 0.5 12.7 0.2 3.5 -0.8 6.4 -2.5 2.1 -0.2 4.2 0.7 7.8 3.2 3.5 0.6 5 -0.8 4.2 0.6 5.6 0 6.4 -0.5 4.9 0.4 5 -1.1 3.5 -0.1 4.2 -1.3 4.3 -0.5 5.6 1.5 2.8 0.2 8.5 -1.8 2.1 0.5 5.7 2.2 7 1.3 9.9 0.7 9.2 -1.3 4.2 0.8 12.7 0.6" stroke="#d020b8" stroke-width="2.1" fill="none" stroke-linejoin="round"/>
<path d="M136.6 146.3l0.7 0.1 1.4 1.4 4.2 7.9 2.1 3.2 6.4 5.6 3.5 1.2 8.5 -0.1 4.2 0.7 6.4 -0.5 7.7 -3.3 5.7 -1.1 7.7 1.1 7.1 -0.6 4.9 2.1 5 -1.8 9.1 -0.7 10.6 -2.6 10.6 -5.4 9.9 -7.4 7.1 -6.5 6.3 -4.5 2.8 -1.2 2.1 0.2 5.7 2 10.6 6.6 7.7 3.9 7.1 1.5 3.5 0.3 5.7 2.3 2.1 0.1 1.4 -0.7 1.4 -1.8 2.1 -7.3 1.4 -10.3 3.6 -38.6 0.7 -4.5 0.7 -1.7 0.7 1.4 0.7 4.3 4.2 43.9 1.4 7.1 1.4 2.9 1.5 0.4 4.9 -2.1 2.1 0 2.1 0.8 5 3.5 2.8 1.2 2.1 0.1 1.4 -1.3 1.4 -3.5 1.4 -6.9 4.3 -33 0.7 -2.3 0.7 0 1.4 6.4 2.8 24.1 2.1 11.5 1.4 3.4 1.5 1.4 1.4 0.4 3.5 -0.2 1.4 -1.5 0.7 -2.3 1.4 -11.3 2.9 -53.5 1.4 -17.6 0.7 -0.8 1.4 6.6 0.7 1.6 0.7 -1.5 1.4 -6.5 0.7 0.5 0.7 5.7 2.8 51.8 0.7 9.6 1.5 10 0.7 1.8 0.7 0.7 4.9 -1.6 3.5 1 3.6 2 6.3 5.8 6.4 2.7 12 0.5 5.6 1 3.5 -0.5 1.4 -1.6 1.5 -6.7 0.7 -7.3 3.5 -66.9 0.7 -4.2 0.7 3.3 2.1 33 0.7 6.5 0.7 -0.1 2.9 -40.2 0.7 -3.1 0.7 1.9 1.4 11.5 3.5 46.2 2.1 18.9 2.1 8.4 1.4 2.1 2.2 0.9 6.3 0.9 1.4 -0.3 1.4 -1 2.2 -3.7 4.2 -11.7 1.4 -2.2 0.7 -0.3 0.7 0.4 1.4 2.5 5 14.6 1.4 2.2 2.1 1.6 7 1.4 5.7 -0.3 7.8 2.1 6.3 -0.5 5.7 0.8 4.2 1 4.2 -0.2 7.8 0.3 4.9 1.5 13.4 -0.6 4.3 0.7 5.6 -0.7 7.1 1.9 7.7 -0.5 2.1 -1 5 -8.1 1.4 -1.6 1.4 -0.5 2.1 1.5 4.3 7.1 2.1 2.3 2.1 0.9 4.9 1.2 11.3 -0.2 5 0.4 19.7 -0.6 6.4 1.4 6.3 -0.6 11.3 0.8 4.2 -0.9 4.3 0.9 2.1 -0.8 4.2 -3 2.1 -0.7 1.5 0.2 3.5 2.3 2.1 0.8 2.1 -0.3 4.3 -2.1 2.1 -0.1 1.4 0.5 4.2 2.9 4.3 1.2 12.7 0.3 9.8 -0.8 5 0.9 6.3 -0.4 5.7 0.6 4.9 -0.1 7.8 0.9 7 -1.6 5 -2.2 2.8 -0.5 2.1 0.5 4.2 2.7 2.9 1 4.9 -0.2 3.5 0.4 3.6 -0.6 4.2 0.7 3.5 -0.2 5 1.6 2.8 0.3 12.7 -2.2 7.8 -2.7 2.8 0.3 6.3 2.2 1.4 -0.2 5 -2.1 2.1 -0.3 2.1 0.4 4.9 2.6 2.9 0.9 3.5 -0.3 4.9 0.7 5 -0.4 4.2 0.7 8.5 0.4 6.3 -0.8 8.5 1.1" stroke="#d02070" stroke-width="2.1" fill="none" stroke-linejoin="round"/>
<path d="M136.6 413.3l4.9 0.3 5.7 -0.6 4.9 0.6 7.8 -0.8 4.9 0.6 4.9 -0.8 12 -0.7 5.7 0.1 9.9 -1 4.2 0.3 11.3 -2.6 7 -0.6 6.4 -2.5 5.6 -0.4 5.7 -2.1 4.9 -0.8 12 -4.7 4.2 -2.9 5.7 -6.7 2.1 -1.1 2.1 0.9 4.3 4.8 2.1 1.4 2.1 0.2 5.6 -1.4 2.2 -1.2 1.4 -1.4 2.1 -5.2 2.1 -11.4 2.8 -20.9 1.4 -6.4 0.7 -0.9 0.7 0.9 0.8 2.6 3.5 23 1.4 4.5 0.7 0.2 0.7 -1.2 2.8 -10.2 0.7 -1.5 0.7 -0.5 0.7 0.8 0.7 1.9 4.3 19.2 1.4 3.6 0.7 1 1.4 0.9 2.1 -0.3 1.4 -1.3 1.5 -2.4 2.8 -6.6 1.4 -1.9 0.7 -0.2 1.4 1.3 4.2 9 1.4 1.6 2.2 0.7 2.1 -0.4 3.5 -1.8 4.9 -0.9 5 -2.7 2.1 -0.7 13.4 -2.7 5 -1.6 6.3 -0.1 4.2 -1.3 4.3 -0.6 1.4 -1 1.4 -2 2.1 -5.7 2.1 -10.9 5 -35.4 1.4 -6 0.7 -1.4 0.7 -0.1 0.7 1.3 1.4 6.5 3.5 24.2 1.4 6.4 0.8 1.8 3.5 5.4 4.9 17.4 3.6 9 3.5 6.4 1.4 1.4 1.4 0.6 3.5 -0.2 5 -1.6 6.3 1.7 5 -0.4 2.8 -0.8 7 -4.1 1.5 -1.2 7.7 -12 2.1 -1.8 1.4 -0.3 1.5 0.5 2.1 2.1 9.1 12.2 2.9 3.2 7.7 5 3.6 1.9 2.1 0.5 14.1 -0.9 15.5 0.6 5.7 1.6 4.2 -0.1 6.3 0.9 2.9 -1.1 12.7 -8.6 2.1 -0.8 1.4 0.4 1.4 1.2 5.7 6.8 2.8 2.7 6.3 2.8 8.5 2.3 4.9 -0.5 5.7 0.3 4.2 0.8 14.8 -0.2 4.3 0.4 4.9 -1.5 4.9 -4.7 2.2 -0.6 2.1 0.9 5.6 4.6 2.1 0.7 4.3 0.5 8.4 -0.2 4.3 0.5 6.3 0.1 12 -0.7 4.3 0.8 6.3 0.2 7.1 -0.8 4.9 0.4 6.4 -0.3 9.8 0.7 4.3 -0.5 3.5 0.4 7.1 -0.4 4.2 0.4 6.3 -0.9 5.7 0.6 4.2 -0.4 4.3 0.4 4.9 -0.6 4.9 0.3 8.5 -1.8 7.8 -2.3 2.1 -0.9 3.5 -2.4 1.4 -0.4 2.1 0.6 5.7 2.6 2.1 1.6 4.9 4.9 2.9 2 7.7 2.3 12 -0.7 5.7 0.9 13.4 -0.1 4.9 -0.8 16.9 0.8 7.1 -0.8 10.6 1.1 7 -1.1 8.5 0.7 10.6 -0.3" stroke="#cc2a2a" stroke-width="2.1" fill="none" stroke-linejoin="round"/>
<path d="M136.6 410.3l3.5 -1.1 5.6 0 5 -1.2 4.9 1.2 8.5 -0.5 3.5 -0.8 6.4 0.4 9.1 -0.5 9.2 -1.9 8.5 0.4 4.9 -0.9 5 -0.2 4.2 -1 4.2 0 5.7 -2.4 4.9 -0.6 4.2 -1.5 4.3 -0.6 6.3 -2.9 11.3 -3.9 3.6 -2.9 4.2 -5.7 2.1 -1.4 2.1 0.7 5 4.8 2.1 1.4 2.8 0.4 4.2 -1.1 2.9 -1.7 1.4 -1.4 2.1 -4.5 2.1 -10.8 3.5 -26.1 0.7 -2.9 0.7 -1.2 0.7 0.5 0.8 2.4 3.5 23.2 1.4 5.5 0.7 0.6 0.7 -0.8 2.8 -9.2 0.7 -1.6 0.7 -0.5 0.7 0.8 0.7 1.9 4.3 19.1 1.4 2.9 2.1 1.5 2.1 0.2 1.4 -0.9 1.5 -2.1 3.5 -7.9 1.4 -1.4 1.4 1.1 4.2 9.2 1.4 1.3 1.5 0.3 2.1 -0.5 4.9 -2.2 5 -0.9 9.1 -3.3 14.8 -3.8 14.9 -0.8 1.4 -0.8 1.4 -1.7 1.4 -2.9 1.4 -4.6 2.1 -10.9 5 -34.1 1.4 -6.1 0.7 -1.4 0.7 -0.2 0.7 1.3 1.4 6.4 3.5 24.3 1.4 6.6 1.5 3.4 2.1 2.5 1.4 3 4.2 14.9 2.1 5.4 5 8.2 2.1 2.5 1.4 0.8 1.4 -0.2 3.5 -1.4 7.1 0.1 2.8 -0.9 2.8 -1.7 6.4 -5.7 9.2 -6.1 2.1 -0.8 2.1 1.1 7.1 7 9.8 4.2 2.2 1.5 4.2 4.3 1.4 1 2.1 0.7 7.1 1.2 3.5 -0.5 4.2 0.5 5 -0.5 4.9 0.3 9.2 -1.6 4.9 0.9 5.7 -2.1 4.9 -0.9 5.7 -3.3 3.5 -0.3 2.8 0.6 2.1 1.2 9.9 8.5 2.1 1.3 13.4 1.9 4.3 1.5 4.2 1 8.5 -1 5.6 1.1 8.5 0.1 3.5 0.5 4.2 -0.9 4.3 -0.4 2.8 -1.1 4.9 -4.5 2.2 -0.9 2.1 1 4.2 4.8 2.1 1.3 3.6 0.6 5.6 -0.5 9.9 0.8 15.5 -0.9 4.9 0.6 3.6 -0.1 3.5 0.7 7.1 -1.5 9.8 1.1 4.3 -0.4 4.2 0.2 4.2 -0.9 6.4 0.9 19 -0.4 5 1.1 4.9 -1.7 5 0.2 11.3 -1.6 6.3 -2 7.1 -1.4 5.6 0.3 2.1 0.6 2.1 1.2 5.7 4.7 2.8 1.5 7.1 1.7 8.4 0.9 4.3 -0.3 7 0.2 4.3 -0.5 3.5 0.6 3.5 0 6.4 1.3 2.1 -0.2 3.5 -1 5 0.1 6.3 -0.9 6.4 1.3 4.9 -1 7.8 1.2 8.4 -0.9 4.3 0 8.4 0.7 9.2 -0.2" stroke="#dd6428" stroke-width="2.1" fill="none" stroke-linejoin="round"/>
<path d="M136.6 403.5l2.8 -0.2 4.9 0.8 6.4 0 4.9 -0.8 5 -0.1 9.8 1.2 5.7 -1.5 12 -0.4 4.9 -0.8 5 0.3 4.9 -1.4 7.1 -0.2 4.9 -0.7 9.2 -2.7 4.9 -0.1 4.9 -1.1 5.7 -2.2 4.9 -1 9.9 -3.7 2.8 -2 7.8 -7.9 2.1 -1.1 2.1 0.9 3.6 4.1 2.8 1.9 2.8 0.1 5.7 -1 1.4 -0.9 1.4 -2 2.1 -7.2 4.2 -31.4 1.4 -7.2 0.7 -1.1 0.7 0.9 0.8 2.8 3.5 25.3 1.4 5.7 0.7 0.6 0.7 -0.9 3.5 -12 0.7 -0.6 0.7 0.7 1.5 4.7 3.5 16.2 1.4 3.6 2.1 2.3 2.1 0.1 2.1 -2 4.3 -10.3 1.4 -1.4 1.4 1.1 4.2 8.8 1.4 1.3 1.5 0.4 2.8 -0.4 4.9 -1.9 5.7 -1.3 4.2 -1.7 5.6 -0.3 14.2 -4 6.3 0.3 7.1 -0.9 1.4 -0.7 1.4 -1.5 1.4 -2.8 1.4 -4.8 2.1 -11.1 5 -35.2 1.4 -6.3 0.7 -1.5 0.7 -0.2 0.7 1.3 1.4 6.5 3.5 25.1 1.4 6.5 0.8 1.9 3.5 5.8 3.5 12.6 2.1 5.9 5.7 9.3 2.1 2.3 1.4 0.7 2.1 -0.2 6.4 -3.2 4.9 -1.4 8.5 -5 7.7 -1.6 2.9 1 7 5.4 2.8 1.7 2.2 0.3 7.7 -0.6 2.1 1 6.4 4.8 7.8 2.6 4.9 0.8 5.6 0.1 2.9 -0.4 4.9 -1.7 5.6 -0.5 7.8 -2.6 7.8 -0.4 4.9 -0.8 3.5 0.3 2.2 0.6 3.5 2.1 5.6 4.8 5 2.9 1.4 0.3 3.5 -0.5 4.2 0.9 4.3 -0.2 4.9 0.9 9.2 2.8 5.6 -1 7.8 0.9 4.9 -0.3 5 0.8 4.9 -0.9 4.2 0.7 4.3 -0.3 2.8 -1.1 4.9 -4.7 2.2 -1 2.1 0.9 2.8 3.2 2.1 1.6 7.1 1.8 3.5 0.4 16.9 -1.3 6.4 1 12 -0.6 5.6 0.5 7.1 -0.8 7.8 1.2 12.7 -0.3 4.9 -0.6 4.2 0 4.3 -0.7 7.7 1.2 7.1 -0.2 4.2 -0.8 4.2 0 5 -2.1 4.9 -0.6 4.3 -1.8 1.4 -0.3 6.3 0.9 4.3 0.2 2.8 0.6 4.2 1.8 5.7 4.5 8.4 2.1 3.6 0.4 9.1 -0.4 5.7 0.8 4.9 -0.8 12 0.8 5.7 -1.1 5.6 1 7.1 -1.1 4.2 1 6.3 -0.3 5.7 0.5 4.9 -0.4 7.1 0.3 5.6 -1 6.4 0.2 10.6 1.3 4.2 -0.8" stroke="#e0a030" stroke-width="2.1" fill="none" stroke-linejoin="round"/>
<path d="M136.6 400.3l3.5 -1.1 9.9 -0.2 4.2 -0.6 7.8 1.5 4.9 -0.9 7.8 -0.3 7 -1.5 7.1 -0.1 4.9 0.7 8.5 -0.8 9.2 -1.7 4.2 -1.3 5.6 0.4 6.4 -1.1 4.9 -2 9.9 -2.6 12 -4.4 4.2 -3.2 5.7 -6.3 2.1 -1.3 2.1 0.9 5 5.5 2.1 1.2 2.1 -0.1 6.4 -1.4 2.1 -1.9 2.1 -5.5 2.1 -12.4 3.5 -28.2 0.7 -2.8 0.7 -0.9 0.7 1.1 0.8 3 3.5 25.8 1.4 5.8 0.7 0.6 0.7 -0.8 2.8 -9.4 0.7 -1.6 0.7 -0.4 0.7 0.8 0.7 2.1 4.3 19.4 1.4 3.4 1.4 1.5 2.1 0.1 2.1 -1.6 1.5 -2.1 3.5 -8 1.4 -1.1 1.4 1.3 3.5 7.4 1.4 1.5 1.5 0.4 7 -0.5 7.1 -2.8 11.3 -2 4.2 -1.6 4.9 -1.1 7.1 0 9.2 -1.7 2.1 -1.2 1.4 -1.7 1.4 -2.7 1.4 -4.6 2.1 -11 5 -35.2 1.4 -6.2 0.7 -1.5 0.7 -0.4 0.7 1.1 1.4 6.3 3.5 25.5 2.2 9.2 3.5 5.7 4.9 14.4 2.1 4.6 4.3 6.6 1.4 1.3 1.4 0.7 2.8 -0.5 5.7 -3 9.1 -1.8 7.8 -0.4 2.8 0.8 6.4 4.2 3.5 0.7 4.2 1.4 3.6 -0.1 4.9 -1.9 2.8 0.2 3.6 2 5.6 4.4 2.8 0.9 15.5 -1 2.2 -0.6 5.6 -2.9 4.9 -1.1 2.2 0 4.2 0.9 5.6 -0.6 5.7 1.2 2.1 1 4.2 3.1 3.6 1.8 7.7 2.5 13.4 0.9 6.4 0.9 6.3 1.5 8.5 0 9.2 0.9 3.5 -0.3 3.5 0.4 4.3 -0.1 7 1.4 5 -0.1 2.1 -0.5 2.8 -1.8 4.2 -4.2 2.2 -0.9 2.1 0.7 5.6 4.5 5.7 1.8 4.9 -0.4 9.9 0.8 14.1 -0.5 5.6 0.7 8.5 -0.9 10.6 0.4 4.9 0.8 5.7 -0.7 5.6 0.6 5.7 -1.1 5.6 0.6 7.8 -0.8 4.9 0.3 12.7 -1 5 -1.5 7.7 -1.3 5 0.9 7 0.5 10.6 3.9 12 2.9 6.4 0.2 4.2 -0.3 4.9 0.5 5.7 -0.5 14.1 1.3 4.9 -0.7 6.4 0.4 9.2 -0.4 4.9 0.5 11.3 0 4.9 0.3 28.2 -0.9 3.6 0.3 2.8 0.8" stroke="#c8d83a" stroke-width="2.1" fill="none" stroke-linejoin="round"/>
<path d="M136.6 394.8l6.3 -1.1 6.4 0.2 5.6 -0.4 4.2 0.4 8.5 -0.8 5.7 0.1 6.3 -0.7 5.7 0.6 4.9 -0.2 6.3 -0.6 3.6 -0.9 3.5 -0.2 8.5 -1.3 7 0.2 9.2 -1.7 6.4 -1.7 4.9 -2.2 16.9 -6 2.9 -2.4 4.9 -6.3 2.1 -1.4 0.7 0.1 1.4 1 4.3 5.8 2.1 2 2.1 0.3 4.2 -1.3 3.6 -0.4 1.4 -1.4 0.7 -1.3 2.1 -8.1 4.2 -33.7 1.4 -7.9 0.7 -1.2 0.7 0.9 0.8 3 3.5 26.5 1.4 6 0.7 0.8 0.7 -0.7 2.8 -9.2 0.7 -1.5 0.7 -0.3 1.4 3.1 4.3 19.5 1.4 3.1 1.4 1.2 2.1 0.1 2.1 -1.4 1.5 -2.3 3.5 -8.2 1.4 -1.3 1.4 1.1 4.2 9.3 1.4 1.6 1.5 0.5 2.1 -0.3 7.7 -3 8.5 -2.5 7.8 -0.9 9.1 -2.2 6.4 -0.2 5.6 -1.3 4.3 -0.4 1.4 -0.9 1.4 -2.1 2.1 -6.5 2.1 -11.2 5 -36.2 1.4 -6.4 0.7 -1.6 0.7 -0.3 1.4 4 4.2 30.1 2.2 9.2 3.5 5.1 4.2 12 2.1 4.4 5 6.2 2.1 1.6 1.4 0.5 7.8 -0.8 4.9 0.6 4.9 -0.3 11.3 4.1 7.1 1.1 4.9 -0.2 6.4 -1.3 5.6 -0.2 3.6 1.1 6.3 3.3 5.7 0.7 6.3 -0.5 8.5 -2.2 5.6 -2.1 2.8 -0.2 5 1.6 4.9 0.4 6.4 4.3 5.6 1.3 5 2.5 7.7 1.1 8.5 -0.4 6.3 1.1 5.7 -0.2 4.2 0.2 13.4 3.3 16.3 -0.6 11.2 0.9 7.8 -2.1 2.1 -1.4 3.6 -3.2 1.4 -0.6 1.4 0.5 3.5 3.8 2.1 1.6 2.8 1.2 2.9 0.4 11.3 0.1 7 -0.5 5 0.7 9.8 -0.5 5.7 1 9.1 -0.7 7.8 0.3 8.5 -0.4 7 0.6 5.7 -0.9 7.7 -0.1 5 -1.1 5.6 0 5 -1.2 5.6 0.4 5.7 -0.8 4.9 -0.1 12.7 1.9 8.5 3.6 18.3 1 5 -0.7 6.3 1.9 5.7 -0.8 3.5 0.5 10.6 0.3 11.3 -0.8 5.6 0.2 8.5 1.3 7.7 -0.9 5 0.2 3.5 -0.4 9.2 0.7 4.9 -0.7 9.9 0.7 4.9 -0.7 5 0.6 3.5 -0.7" stroke="#a0d840" stroke-width="2.1" fill="none" stroke-linejoin="round"/>
<path d="M136.6 388.9l2.8 0.9 9.2 -1 7 0.9 8.5 -0.8 7 0.5 13.5 -2 7 0.6 6.4 -1 4.9 0 9.2 -1.8 4.2 0 4.2 -1 3.6 -0.1 4.2 -1.3 7.1 -1.1 7 -2.6 5.7 -1 5.6 -1.9 3.5 -1.9 2.2 -1.7 4.9 -7.8 2.1 -1.8 1.4 0.6 4.3 5.7 2.8 2.2 4.9 1.2 4.3 -1.2 1.4 -0.9 1.4 -1.9 2.1 -7.6 4.2 -34.6 1.4 -8 0.7 -1.2 0.7 1 0.8 3 3.5 27.5 1.4 6.3 0.7 0.8 0.7 -0.7 2.8 -9.9 0.7 -1.7 0.7 -0.4 0.7 0.9 0.7 2.1 4.3 20.9 1.4 3.4 1.4 1.3 2.1 -0.4 2.1 -2.1 5 -10 1.4 -1.3 1.4 0.9 3.5 7 1.4 1.9 2.2 1.4 2.1 0.3 3.5 -0.6 5.6 -3.2 2.2 -0.7 13.4 -2 4.2 -0.1 3.5 -1 7.8 -1.2 8.5 -0.8 1.4 -0.8 1.4 -1.6 1.4 -3 1.4 -4.7 2.1 -11.3 5 -37.1 1.4 -6.7 0.7 -1.6 0.7 -0.3 1.4 4.1 4.2 30.8 2.2 9.3 3.5 5.8 4.2 11.4 2.8 5.7 4.3 5.7 2.1 2 1.4 0.5 3.5 -0.6 2.1 0.1 5 0.8 8.5 2.6 8.4 0.9 5 1.3 7.7 -1.2 9.9 -2.5 3.5 -0.1 5 0.9 6.3 2.6 5.7 0.7 4.2 1.1 2.1 -0.4 12.7 -4.3 2.1 -0.2 2.2 0.9 9.8 6.2 5.7 1.2 5.6 1.9 11.3 0.8 6.4 -0.3 8.4 1 5.7 -0.1 7.7 1.3 5 0.2 4.9 1.1 4.3 -0.2 4.9 0.9 5.6 -0.2 4.3 0.6 4.2 -0.3 8.5 0.3 3.5 -1.7 4.2 -3.6 2.2 -0.7 3.5 1.1 4.9 3.2 2.8 1.2 4.3 0.4 4.9 -0.4 5.7 1 4.9 -0.5 4.9 0.4 12.7 -0.8 4.3 0.6 6.3 0.4 4.3 -0.3 3.5 0.5 4.9 -1.1 3.6 0.5 4.2 -0.7 12.7 0.8 2.8 -0.4 4.3 -1.4 6.3 0.6 4.9 -0.8 7.1 -0.4 8.5 0.8 3.5 -0.8 14.8 3.6 6.4 1 7 0.7 5 -0.5 4.9 0.7 4.2 -0.4 5.7 1.1 6.3 -0.9 11.3 1.1 5 -0.1 4.9 0.9 6.4 -1.7 2.8 -0.2 6.3 0.7 4.3 -0.2 4.9 0.8 14.1 -0.9 13.4 0.9 9.9 -0.7 5.6 1.1 6.4 -1.3" stroke="#78d040" stroke-width="2.1" fill="none" stroke-linejoin="round"/>
<path d="M136.6 385.0l5.6 -1 11.3 0.9 7.1 -0.1 4.2 -0.6 9.2 0.9 6.3 -1.8 5.7 0.2 7 -0.7 5 0.4 4.2 -1.1 18.3 -2.9 5 -0.1 4.9 -0.8 5 -1.2 9.1 -3.2 5.7 -0.8 2.1 -0.8 6.3 -4 5.7 -7.6 2.1 -1 2.1 1.1 5 6.5 2.1 1.5 2.8 0.2 5.7 -1.5 2.1 -1.8 2.1 -6.1 2.1 -13.7 2.8 -25.3 1.4 -7.7 0.7 -1.1 0.7 1.2 0.8 3.1 3.5 28.1 1.4 6.8 0.7 1.1 0.7 -0.4 3.5 -10.9 0.7 -0.5 0.7 0.7 1.5 4.8 3.5 16.3 1.4 3.5 2.1 2.1 2.1 -0.1 1.4 -1.3 1.5 -2.4 3.5 -8.8 1.4 -1.6 1.4 0.9 4.2 8.4 1.4 1.5 1.5 0.6 5.6 -1.7 8.5 -0.4 7 -3 4.3 0 4.2 -1.1 6.3 -0.5 5 -1 2.8 -1 4.2 0.7 2.2 -0.3 2.1 -1.3 1.4 -1.9 1.4 -3.2 1.4 -4.9 2.1 -11.7 5 -38.5 1.4 -6.8 0.7 -1.6 0.7 -0.2 0.7 1.5 1.4 7.5 2.8 23.5 2.1 12.6 1.5 3.8 2.1 3.4 1.4 3.1 4.2 12 1.4 2.6 4.3 5.8 2.8 2.9 2.1 0.7 9.2 0.4 5.6 2.7 7.1 0.7 10.6 -1.8 4.9 0.4 10.6 -3.1 4.2 -0.4 5.7 1 4.9 2.7 2.1 0.6 7.1 0.5 9.2 -0.7 4.9 -0.9 3.5 0.1 8.5 2.8 9.2 3.7 4.2 -0.1 4.2 0.8 4.3 -0.4 10.6 0 4.2 1.1 4.2 0.1 4.3 0.9 4.9 -0.8 7.8 1.8 4.9 0.7 6.4 0.1 5.6 1.4 9.2 -1.2 5.6 1.4 7.1 0.2 2.1 -0.9 7 -5.5 1.5 -0.6 2.1 0.6 5.6 4.1 2.8 1.3 11.3 1.4 9.2 0.4 2.1 0 5 -1.1 7 -0.3 5 1 5.6 -0.8 3.5 0.4 6.4 -0.7 4.9 0.3 5 -0.9 5.6 0.9 4.9 -0.7 4.3 0.4 12.7 -0.9 7.7 0.3 4.3 -0.7 4.9 1.1 7.1 -0.4 3.5 0.6 5.6 1.6 5.7 -0.3 9.2 1.9 4.9 0.3 4.2 -0.5 8.5 0 5.7 1.1 9.8 -0.7 11.3 1 6.4 -1.1 11.3 0 9.1 1.6 8.5 -1.6 12 1.6 11.3 -0.8 4.9 0.8 9.9 -0.6 5 0.4 5.6 -0.2" stroke="#58cc70" stroke-width="2.1" fill="none" stroke-linejoin="round"/>
<path d="M136.6 379.8l2.1 0.1 4.9 1 5.7 -1.5 14.8 0.6 7 -0.8 4.3 0.2 3.5 -0.6 9.2 0.3 9.2 -0.9 4.9 -1 12 -0.2 6.3 -2.1 7.1 0 8.5 -3.3 7 -1.5 4.3 -0.5 7 -2.3 5 -3.9 4.9 -7.1 2.1 -1.4 2.1 1 4.3 5.7 2.1 1.7 2.8 0.7 4.9 0.3 1.5 -0.2 2.1 -1.8 1.4 -3.1 0.7 -2.7 2.1 -14 3.5 -31.9 0.7 -3.4 0.7 -1.2 0.7 1.1 0.8 3.2 3.5 29.1 1.4 7 0.7 1.2 0.7 -0.3 3.5 -10.3 0.7 -0.5 0.7 0.7 1.5 5 3.5 16.6 1.4 3.2 1.4 1.4 2.1 0.2 2.1 -1.7 2.2 -3.5 2.8 -6.4 1.4 -1.7 1.4 0.6 4.9 8 1.5 1.1 2.1 0.5 2.8 -0.3 10.6 -3.2 5.6 0.3 16.3 -3.4 8.4 0 4.3 -1 2.8 -1.4 1.4 -1.6 1.4 -2.9 1.4 -4.8 2.1 -11.6 5 -37.7 1.4 -6.4 0.7 -1.6 0.7 -0.2 0.7 1.5 1.4 7.1 3.5 28 2.2 10.3 3.5 6.3 4.2 11.7 2.8 5.9 5 6.2 2.1 1.6 2.1 0.7 2.1 0.3 4.3 -0.3 4.9 1.5 4.2 0.1 5 -0.7 20.4 -1.4 5.7 -1.6 7.7 -0.1 3.6 0.7 5.6 2.8 3.6 1 4.9 -0.1 6.3 1 2.9 -0.6 4.9 -1.8 2.8 -0.1 4.3 0.8 7.7 3 5 0.3 4.9 1 5.6 0.3 6.4 1.3 14.8 -0.5 6.4 0.6 4.2 1.1 4.2 -0.2 4.3 1.8 2.1 0.5 13.4 0 12.7 1.2 12 -1.7 2.1 -1.3 3.5 -3.9 2.2 -1 2.1 0.9 4.9 4.4 2.8 1.7 12 1.4 12 -0.3 7.1 0.6 9.2 -1.6 6.3 0.8 4.9 -0.7 4.3 0.6 3.5 -0.2 4.2 0.3 15.6 -1.2 5.6 0.7 6.4 -0.6 5.6 0.3 4.2 -0.2 14.2 0.5 4.9 1.4 2.8 0.3 7.1 -0.5 6.3 1.3 8.5 -0.7 16.9 1.4 11.3 0.2 7.1 -0.8 9.9 0.8 5.6 -0.6 4.9 0.4 4.3 -0.4 4.2 0.6 8.5 -1.2 6.3 2.1 7.1 -1.4 6.3 0.8 5 -0.8 4.2 0.8 16.2 0 5 0.4 2.1 0.6" stroke="#58d0b0" stroke-width="2.1" fill="none" stroke-linejoin="round"/>
<path d="M136.6 375.7l5.6 -1.5 5.7 0.6 4.9 0 4.9 0.8 7.8 -1.3 5.6 0.2 6.4 -0.5 3.5 0.5 5 -0.5 3.5 0.3 4.2 -0.6 4.3 0.4 12.7 -3 4.2 0.9 2.8 0 14.1 -3 4.3 -1.6 4.2 -0.6 15.5 -4.5 3.6 -2.8 4.9 -8.5 1.4 -1.4 0.7 -0.2 0.7 0.1 1.4 1.3 4.3 6.5 2.8 2.7 2.8 0.5 4.9 -1.3 1.5 -0.9 1.4 -1.6 2.1 -5.9 2.1 -13.9 3.5 -32.3 0.7 -3.3 0.7 -1 0.7 1.3 0.8 3.6 3.5 31.1 1.4 7.1 0.7 1.2 0.7 -0.4 3.5 -10.4 0.7 -0.5 0.7 0.7 1.5 4.6 3.5 15.8 1.4 3.8 0.7 1.2 1.4 1.3 1.4 -0.1 2.1 -1.9 5 -10 1.4 -1.7 0.7 -0.1 1.4 1.2 3.5 6.5 1.4 1.4 1.5 0.6 2.1 -0.3 5.6 -2.1 5.7 -0.3 6.3 -1.2 7.8 0 5.6 -1.8 6.4 0.2 7 -0.9 4.3 -0.1 2.1 -1.6 1.4 -2.4 1.4 -4 1.4 -6 2.1 -13.3 4.3 -33.7 1.4 -6.6 0.7 -1.4 0.7 0.1 1.4 5.2 4.2 34 2.2 10.6 3.5 6.9 4.2 11.3 3.5 5.6 2.2 2.3 3.5 2.2 2.1 1 3.5 1 12 0.9 5.7 -1.2 7.7 0 5 -0.7 3.5 -0.1 2.8 -0.6 4.3 0 6.3 -1.2 7.8 1.2 6.3 2.7 7.1 1.6 2.1 -0.1 16.9 -3.3 2.2 0.4 4.2 2.5 2.1 0.6 4.2 -0.1 5 0.9 4.2 -0.5 5 1.3 7 0.8 6.4 -0.1 9.8 0.5 5 -0.2 11.3 3 5.6 -0.7 10.6 0.3 5.6 0.9 6.4 -0.5 5.6 0.9 7.1 -1.3 5.6 -4.5 2.2 -0.8 1.4 0.2 1.4 0.7 5.6 5 2.1 0.9 2.2 0.3 5.6 -0.1 5.7 -0.5 6.3 1.1 5.7 -0.9 14.1 0.7 10.5 -0.5 7.1 0.8 5.7 -0.9 11.2 0.8 7.1 -1.2 7.1 1.4 6.3 -0.9 7.1 1 7 -0.6 13.4 1.3 4.3 -0.4 4.9 0.4 4.9 -0.3 6.4 0.8 9.9 -0.1 6.3 0.6 7.8 -0.7 12.7 1.2 7.7 -0.3 3.6 -0.8 4.9 0.6 5.7 -0.6 12.7 0.9 4.9 -0.2 5.6 0.6 4.3 -0.4 11.3 0.2 3.5 -0.4 4.2 0.6 4.3 -0.4 7 0.5 4.3 -0.3 4.9 0.9" stroke="#60b8e0" stroke-width="2.1" fill="none" stroke-linejoin="round"/>
<path d="M136.6 370.7l7.7 -0.4 4.3 0.4 3.5 -0.6 14.1 0.2 9.2 -1.3 12.7 -0.9 10.6 0.6 4.2 -0.9 11.3 -1.2 4.2 -1 7.8 -0.1 7 -1.1 5.7 -2.2 8.5 -1.6 10.5 -4.8 2.2 -2 4.2 -6.9 2.1 -1.7 0.7 0 1.4 1.1 5 8.2 2.1 1.9 2.8 0.3 6.4 -1.6 1.4 -1.1 0.7 -1.2 2.1 -8.6 4.2 -39.5 1.4 -8.9 0.7 -1.2 0.7 1.2 0.8 3.5 3.5 31.8 1.4 7.8 0.7 1.4 0.7 -0.3 2.8 -9.1 0.7 -1.5 0.7 -0.4 0.7 0.8 0.7 2.1 4.3 19.1 1.4 3.5 2.1 2.2 2.1 -0.2 1.4 -1.5 5 -11.2 1.4 -1.3 1.4 1 4.2 7.3 1.4 1 2.9 0.6 10.6 -1.8 5.6 0 1.4 -0.4 3.5 -3.2 3.6 -6 1.4 -1.4 1.4 0.5 3.5 4.8 2.8 1.8 10.6 0.8 5.7 -0.5 1.4 -1.3 1.4 -2.7 2.8 -10.5 2.1 -13.4 4.3 -33.4 1.4 -6.8 0.7 -1.7 0.7 -0.3 0.7 1.5 1.4 7.5 3.5 29.7 2.2 11.1 3.5 7.9 3.5 10.3 1.4 3 2.1 2.9 2.2 2.2 4.2 3.5 2.1 0.9 7.8 -0.4 4.9 1.3 10.6 -1.2 1.4 -0.9 1.4 -1.5 4.3 -6.6 1.4 -1.2 0.7 -0.1 2.1 1.5 5.6 7.1 1.4 1.1 1.5 0.5 14.8 -1.2 2.1 0.7 3.5 2.6 1.4 0.6 9.9 0.6 4.2 -0.8 5.7 -2.6 5.6 -0.7 5 0.9 6.3 2.2 9.2 0.5 4.9 0.9 6.4 -0.4 4.2 1.3 3.5 0 2.9 0.4 12.7 -1.1 7 2.5 2.9 0.3 4.2 -0.3 3.5 0.6 3.5 0.1 6.4 1.8 3.5 -0.3 4.3 0.3 3.5 -0.9 4.2 0.6 6.4 -0.8 4.2 -1.5 4.2 -3.9 1.5 -0.8 1.4 -0.3 2.1 0.8 4.9 4.9 2.1 1.2 5 -0.1 6.3 1.2 5.7 -0.6 4.2 0.7 3.5 -0.1 3.6 0.6 4.2 -0.7 4.2 0.3 4.3 -1 4.2 -0.2 4.2 -2.8 1.4 -0.4 1.5 0.3 3.5 2 5.6 2.4 6.4 0.8 5.6 -0.1 5.7 -1.1 9.1 1.6 4.3 -0.9 4.9 0 9.9 1.1 4.9 -0.3 9.9 0.6 5.7 -1.4 4.9 0.6 10.6 -1.2 4.2 0.5 5 0.1 7 1.2 9.9 -0.1 6.3 -0.9 6.4 1 15.5 -0.7 3.6 0.5 5.6 -0.5 4.2 0.7 3.6 -0.3 4.2 0.5 4.9 -0.1 4.3 0.4 8.4 -0.6 6.4 1.3 4.9 -0.6 4.3 0 4.2 -0.6 13.4 0.7" stroke="#4080e0" stroke-width="2.1" fill="none" stroke-linejoin="round"/>
<path d="M136.6 367.1l2.1 -0.2 4.2 -1.3 9.9 -0.2 4.9 -0.6 9.2 0.1 4.2 0.4 8.5 -1.1 7.8 0.5 5.6 -1.1 4.3 0.2 3.5 -0.4 6.3 -1.6 6.4 0.3 5.6 -0.9 3.6 0 7 -0.7 4.2 -1.3 4.3 -0.7 5.6 -2.4 5 -0.9 7.7 -2.6 2.9 -2.3 4.9 -8 1.4 -1.5 0.7 -0.2 0.7 0.2 1.4 1.3 4.3 7.5 1.4 1.7 1.4 0.5 2.8 -0.2 2.8 0.4 2.9 -0.5 2.1 -1.7 1.4 -3.4 0.7 -2.9 2.1 -15.2 2.8 -28.5 1.4 -8.7 0.7 -1.2 0.7 1.3 0.8 3.6 3.5 31.7 1.4 7.5 0.7 1.2 0.7 -0.3 3.5 -10.1 0.7 -0.5 0.7 0.9 5 21.3 1.4 3.4 2.1 2.2 2.1 0.3 1.4 -1.1 1.5 -2.4 3.5 -8.7 1.4 -1.7 0.7 0.1 0.7 0.6 4.2 7.1 2.2 1.4 3.5 0 7 -1.6 7.1 0 2.1 -0.8 1.4 -1.5 1.4 -2.8 1.4 -4.6 3.6 -15.8 0.7 -1.5 0.7 -0.2 1.4 3.2 3.5 15.5 2.1 4.7 1.5 1 4.2 0 4.2 1 3.6 -0.8 2.8 -1.2 2.1 -2.2 1.4 -2.9 1.4 -4.8 2.1 -11.7 5 -39.3 1.4 -6.8 0.7 -1.5 0.7 -0.1 1.4 5.1 4.2 35.6 2.2 11.2 3.5 7 3.5 9.4 2.1 3.7 2.1 2.3 4.3 3.4 2.1 1.4 2.1 0.7 1.4 0.1 4.3 -1 4.9 1.1 7.1 0.7 2.8 -0.4 1.4 -0.9 1.4 -2.1 1.4 -4 5 -21.9 1.4 -3.2 0.7 -0.4 0.7 0.5 1.4 3.4 4.9 21 1.4 3.5 1.4 2 2.2 1.4 2.1 0.5 6.3 -1.3 2.1 -0.1 9.9 3.6 7.1 0.2 7.7 -1.3 4.3 -1.2 4.2 -2.7 2.1 -0.6 2.1 0.6 5.7 3 10.6 2.6 7 0.2 6.4 -0.9 7 1.7 8.5 0 5 0.9 7.7 -0.1 19.8 3.7 6.3 -0.6 6.4 0.7 6.3 -0.5 6.4 0 3.5 -1.5 4.9 -4.1 2.9 -0.8 2.1 1 5.6 4.7 2.9 0.9 2.8 0.3 7.7 -0.3 4.3 0.6 7.7 0 3.6 0.5 5.6 0.2 4.2 -0.6 3.6 -1.3 2.1 -2 4.9 -6.2 2.1 -1.2 2.2 1.3 3.5 4.8 2.8 3 2.8 1.9 2.2 0.4 4.2 -0.3 10.6 1.2 5.6 -1.3 5 0.9 7.7 -0.4 6.4 1.1 12 -1.1 7.7 1.2 4.3 -0.6 6.3 -0.1 6.4 -2.9 3.5 -0.8 2.1 0.3 7.8 3.5 4.9 -0.3 6.4 0.5 4.2 -0.1 4.9 1.4 6.4 -1.1 14.8 0.2 11.3 -1.5 7.8 0.6 7 1.6 12 -0.7 5 0.3 7 -0.3 4.9 0.8 13.5 0.4 5.6 0.7" stroke="#2840c8" stroke-width="2.1" fill="none" stroke-linejoin="round"/>
<path d="M136.6 360.9l4.9 -0.5 7.1 0.7 3.5 -0.5 3.5 0.2 9.2 -0.9 10.6 1.3 4.9 -1.2 5.7 0.1 4.2 -1.3 4.2 0.3 5.7 -0.8 7.7 0.1 7.8 -0.9 4.2 -1.2 8.5 0 6.4 -1.4 4.9 -2.3 7.1 -1.3 11.2 -4 2.2 -2.1 4.2 -7.3 1.4 -1.4 0.7 -0.1 2.1 1.2 4.3 6 2.8 2.7 6.3 1.5 2.9 -0.3 1.4 -1.4 0.7 -1.5 2.1 -9.3 4.2 -41.3 1.4 -9.3 0.7 -1.2 0.7 1.2 0.8 3.7 3.5 33.3 1.4 8.3 0.7 1.6 0.7 0 3.5 -9.6 0.7 -0.5 0.7 0.8 1.5 4.9 2.8 14.1 1.4 4.4 1.4 2.1 0.7 0.4 1.4 0 2.1 -1.5 2.2 -3.1 3.5 -7.5 1.4 -1.5 0.7 0 1.4 1.2 4.2 6.5 2.2 1 3.5 0.1 7 -0.9 4.3 0.3 3.5 -0.9 1.4 -0.9 1.4 -2.4 1.4 -4.8 3.6 -20.8 1.4 -5 0.7 -0.3 1.4 4.2 3.5 20.3 1.4 4.8 1.4 2.3 1.5 0.9 1.4 0.1 7.7 -0.8 5 -1.1 1.4 -0.9 1.4 -2.2 1.4 -4 1.4 -6.3 2.1 -14.1 4.3 -34.3 1.4 -6.7 0.7 -1.4 0.7 0 1.4 5.3 4.2 36.6 2.2 11.6 0.7 2 2.8 5.2 4.9 11.7 2.1 2.3 5.7 4.1 2.1 0.9 6.4 -0.5 8.4 1.4 2.8 0.2 3.6 -1 2.1 -2 1.4 -2.7 1.4 -4.7 5 -27.5 1.4 -4.8 0.7 -0.7 0.7 0.5 1.4 4.6 4.9 27.6 1.4 4.8 1.4 2.8 2.2 1.9 2.8 0.7 9.9 -0.9 2.1 0.2 8.5 3.6 4.2 -0.6 3.5 0.4 2.1 -0.2 2.1 -0.8 5 -2.9 5.6 -1.5 1.4 -0.1 7.1 3.5 7.1 0.5 6.3 1.5 11.3 -0.1 4.2 0.9 3.6 -0.1 4.9 0.6 5.6 -0.5 5.7 1.1 5.6 0.4 7.8 1.6 5.6 0 5.7 0.9 7.8 -0.5 7.7 0.1 5.7 1.2 2.8 -0.6 2.8 -1.1 4.9 -4.7 2.2 -1 1.4 0.6 4.9 4.7 3.5 1.6 13.4 1.2 6.4 -1 6.4 1.1 7.7 -0.6 4.2 0.7 1.5 -0.4 1.4 -1.2 7 -11.9 2.1 -1.6 0.7 0.1 1.5 1.3 4.2 8.3 2.1 3.3 2.1 1.7 3.6 0.8 20.4 -0.1 22.6 1.3 12 -0.6 6.3 1.1 7.8 -2.1 7.1 -2.8 2.8 -0.4 2.1 0.4 4.2 1.7 8.5 2.1 6.4 1 6.3 0 5 -0.6 4.9 0.5 5.6 -0.4 6.4 0.7 4.2 -0.5 6.4 -1.8 2.8 -0.4 6.3 1.6 7.1 1.2 7.1 -0.2 4.9 1.3 7.1 -1.2 13.4 -0.2 9.1 1 7.8 -0.2" stroke="#5a28d0" stroke-width="2.1" fill="none" stroke-linejoin="round"/>
<path d="M136.6 357.1l2.1 0 8.5 -1.4 12.7 0.1 3.5 0.5 6.3 -0.2 3.6 -0.5 4.9 0.2 5.6 -0.8 5 0 4.2 -0.9 11.3 -1.4 5 0.4 7.7 -1.2 10.6 -0.4 4.9 -1.4 8.5 -1.5 4.2 -1.3 4.3 -0.8 6.3 -2.4 2.1 -1.4 2.2 -2.1 4.2 -7 2.1 -1.9 0.7 0.1 1.4 1.1 4.3 7 2.8 3 6.3 1.6 2.9 -0.5 1.4 -1.5 0.7 -1.5 2.1 -9.3 4.9 -47.4 0.7 -3.9 0.7 -1.5 0.7 1.2 0.8 3.6 3.5 33.7 1.4 8.3 0.7 1.6 0.7 -0.1 3.5 -10.1 0.7 -0.5 0.7 0.8 1.5 5.1 3.5 17 1.4 3.4 1.4 1.4 2.1 -0.1 2.1 -1.9 1.5 -2.4 3.5 -8.3 1.4 -1.5 1.4 0.9 3.5 6.4 1.4 1.4 1.5 0.5 6.3 -0.4 4.2 -1 6.4 0 2.1 -0.5 1.4 -1.2 1.4 -3.4 1.4 -7.3 3.6 -32.4 1.4 -7.8 0.7 -0.3 1.4 6.7 3.5 32.3 2.1 9.9 1.5 2.3 1.4 0.6 4.9 -0.5 4.2 0.7 2.9 -0.8 2.1 -1 1.4 -1.8 1.4 -3.4 1.4 -5.4 2.1 -12.3 5 -40.7 1.4 -6.8 0.7 -1.4 0.7 0 1.4 5.6 4.2 37.4 1.4 9 1.5 5.2 2.8 5.7 3.5 9 1.4 2.3 1.4 1.4 5.7 3.5 2.8 1.1 14.1 1.2 5 0.8 2.1 -1 1.4 -2 2.1 -6.4 1.4 -7.8 5 -42.6 1.4 -7.1 0.7 -1 0.7 0.9 1.4 7 4.2 37.7 2.1 12.8 1.4 4.6 1.5 2.5 1.4 1.4 2.1 0.9 3.5 -0.1 7.1 -2.1 2.1 0.5 3.5 1.9 3.5 0.9 2.2 0.2 4.9 -0.4 8.5 -2.7 4.9 -2.9 2.1 -0.5 5 1.8 4.9 2.7 7.8 2.4 3.5 -0.2 4.2 0.5 4.3 -0.4 3.5 0.2 3.5 -0.5 5 0.9 5.6 0.1 4.2 0.9 13.4 0.6 5.7 1 4.9 0.1 8.5 1.8 3.5 0.1 5 -0.8 8.4 1.1 3.6 -0.5 2.8 -1 7 -5.2 1.5 -0.4 2.1 1.1 5.6 4.5 2.8 1.1 21.9 0.3 5.7 1 5.6 -0.7 4.2 0.4 2.2 -1 2.1 -3.1 5.6 -15.7 1.4 -2.6 1.4 -0.7 0.7 0.4 1.5 2.3 4.2 12.3 2.1 4.6 2.8 3 1.4 0.8 2.2 0.5 7 0.4 9.9 -1.3 4.2 0.4 4.3 0 4.2 0.8 7.8 0 4.2 0.7 4.9 -0.7 8.5 0.8 3.5 -0.4 6.4 0.4 2.8 -1.1 7.1 -5.6 2.8 -1 3.5 1 5 4 2.8 1.6 9.9 2.1 4.9 -0.6 4.2 0.4 3.6 -0.6 4.2 0.6 3.5 -0.5 4.3 0.4 7 -1.6 4.2 -1.5 7.1 -0.5 2.1 0.5 4.3 2.2 7.7 1 6.4 0.1 3.5 -0.3 4.9 1 4.3 -0.9 6.3 0.7 10.6 -0.5 4.9 1.4 3.6 -0.5 3.5 0" stroke="#9a20d0" stroke-width="2.1" fill="none" stroke-linejoin="round"/>
<path d="M136.6 350.8l2.1 0.3 4.9 -0.5 7.8 1.2 4.9 -0.4 5.7 -1.2 5.6 0.8 9.2 -1 6.3 0.9 6.4 -1.8 4.9 0.3 4.3 -1 4.9 0.6 4.9 -0.3 5 -1.3 4.9 1 8.5 -0.7 3.5 -0.9 4.3 -1.9 16.2 -2.9 4.2 -1.5 2.1 -1.4 2.2 -2.1 4.9 -9.1 1.4 -1.5 0.7 -0.1 1.4 1 5 8.6 2.1 2.4 2.1 1.1 3.5 0.8 2.1 0.2 1.5 -0.3 1.4 -1.1 1.4 -2.5 2.1 -9.5 4.2 -43.4 1.4 -10.1 0.7 -1.4 0.7 1.3 0.8 4 3.5 35.9 1.4 8.7 0.7 1.7 0.7 0 3.5 -9.9 0.7 -0.4 0.7 0.9 1.5 5.1 2.8 14.2 1.4 4.7 1.4 2.7 0.7 0.7 1.4 0.5 2.1 -1.5 2.2 -3.8 3.5 -9.1 1.4 -1.6 1.4 0.7 4.2 6.9 2.2 1.2 9.1 -0.3 9.2 -1.4 1.4 -1.2 0.7 -1.4 1.4 -5.4 0.7 -4.6 1.4 -14.3 3.6 -48.2 0.7 -4.4 0.7 -0.5 1.4 10.3 2.8 40.9 1.4 15.1 1.4 8.2 1.5 3.4 2.1 1.3 7 0.6 6.4 -1.4 2.1 -2.4 2.1 -6.4 1.4 -7.2 6.4 -44.9 1.4 -4 0.7 0 0.7 1.8 1.4 8 2.8 23.9 2.1 13.3 1.5 4.5 2.8 5.2 4.2 10.2 2.1 1.9 5 2.6 4.2 1.6 7.8 0.5 4.9 0.8 6.4 -0.2 1.4 -1 1.4 -2.8 1.4 -5.4 1.4 -9.3 2.1 -22.8 3.6 -49 1.4 -11.1 0.7 -1.5 0.7 1.3 1.4 10.8 4.2 58 2.1 19.4 2.2 9.4 1.4 2.8 2.1 1.4 5.6 0.3 5 -2.1 1.4 -0.1 6.3 2.7 3.6 0.6 4.9 0.1 7.1 -2.7 6.3 -3.8 3.5 -0.8 2.1 0.6 4.3 3 2.8 1.2 11.3 1.2 7.1 1.3 15.5 0.6 6.3 0.8 5.7 -0.8 7 2 4.3 -0.3 7.7 2.1 2.1 0 5 -1.3 4.9 1 5 -0.2 4.9 1.1 5.6 -0.4 3.6 0.1 2.1 -0.6 7.1 -4.8 2.1 -0.6 2.1 1.1 4.9 4.7 2.8 1.3 5 -0.3 12 1.3 7.7 -1.1 6.4 0.2 6.3 -1.2 1.5 -1.2 1.4 -2.2 2.1 -6.2 4.9 -20.6 1.4 -3 0.7 -0.5 0.7 0.4 1.5 3 4.2 18.4 2.1 7.2 1.4 3.1 1.4 2 1.4 1.2 2.2 0.9 5.6 -0.5 5.7 0.4 4.9 -0.5 7 0.5 5 -0.2 8.5 1.3 7 -1.1 5.7 0.4 6.3 1.1 4.2 0.1 6.4 -1.3 1.4 -0.6 2.1 -1.8 5.7 -6.6 1.4 -1 2.1 -0.4 1.4 0.4 1.4 1.1 4.3 5.3 2.1 1.8 4.9 2.2 3.5 0.8 8.5 0.7 5.7 -1.1 5.6 0.9 4.9 -0.7 4.3 0.1 4.2 -1.5 6.4 -3.6 2.1 -0.5 4.2 1.4 5.7 3.7 5.6 1.1 4.9 -0.1 5.7 -0.6 6.3 1.1 5.7 -0.1 4.2 0.8 3.5 -0.4 7.1 0.1 12.7 -0.6" stroke="#d020c0" stroke-width="2.1" fill="none" stroke-linejoin="round"/>
<path d="M136.6 346.1l3.5 0.3 4.2 -0.4 12 0.7 5 -0.6 4.2 0.8 2.8 0.1 5.7 -1.3 4.2 0.4 4.2 -0.7 3.6 0 4.2 -0.9 5.6 0.1 4.3 -0.8 4.9 0.8 3.5 -0.5 4.3 0.1 13.4 -0.9 5.6 -1.5 5.7 -2.5 12.7 -0.9 4.9 -1.7 3.5 -2.7 2.2 -3.2 3.5 -6.6 2.1 -1.8 0.7 0.1 1.4 1.2 4.3 7.5 3.5 3.9 1.4 0.8 2.1 0.5 3.5 -0.1 1.5 -0.5 1.4 -1.6 0.7 -1.6 2.1 -10 4.2 -44.1 1.4 -10.2 0.7 -1.4 0.7 1.4 0.8 3.9 3.5 36.2 1.4 9 0.7 1.8 0.7 0.1 3.5 -9.4 0.7 -0.4 0.7 0.9 1.5 5 3.5 16.5 2.1 4.7 0.7 0.7 1.4 0.6 1.4 -0.5 1.4 -1.4 2.2 -4.3 2.8 -7.9 1.4 -1.9 0.7 0 0.7 0.5 4.2 7.3 2.2 1.3 7.7 -0.1 5 -0.9 9.1 0.1 0.7 -0.7 0.7 -3 0.7 -8.2 2.9 -81.7 0.7 2.4 0.7 7.8 0.7 0 0.7 -7.7 0.7 -2.4 2.8 81.9 0.7 8.2 0.7 2.9 0.7 0.7 7.1 -1.3 9.2 -0.1 2.1 -1 1.4 -1.9 2.1 -5.8 1.4 -6.2 5.7 -38.1 1.4 -5.6 0.7 -1.1 0.7 0.2 1.4 4.9 4.2 31 1.4 7.1 1.5 3.8 2.8 4.5 4.2 9.8 2.1 1.7 12.7 3.8 2.9 0.3 4.2 -0.3 4.9 1.1 5 0.4 1.4 -0.4 0.7 -1.1 0.7 -2.5 1.4 -14.4 3.5 -81.5 0.7 -0.1 0.7 10.2 2.2 47.7 0.7 4.9 0.7 -5 2.8 -57.8 0.7 0.3 0.7 10.6 2.1 56.7 1.4 23.2 1.4 8 1.5 2 1.4 0.7 2.8 -0.2 5.6 -2.7 2.2 -0.6 5.6 0.6 6.4 1.5 7 0 3.5 -1.1 4.3 -2.5 6.3 -3.1 1.4 -0.3 2.1 0.7 8.5 5.1 1.4 0.5 5.7 -0.3 4.9 1.4 5 -0.9 8.4 0.9 10.6 0.1 2.8 0.5 5.7 2.2 5.6 -0.8 4.3 1.1 7 0.5 5.7 1.2 4.9 0 3.5 -0.5 3.6 0.7 4.2 -0.5 8.5 0.1 7 -1.5 1.4 -0.8 3.6 -3.5 2.1 -0.7 2.1 1 5.6 5.5 2.1 0.9 5 0.5 4.2 -0.2 5.7 0.5 7 -0.8 5.7 0.2 4.2 0.8 3.5 -0.3 1.4 -0.5 1.5 -1.2 2.8 -5 2.1 -7.1 4.2 -19.9 1.4 -3.7 0.7 -0.4 0.7 0.5 1.5 3.7 4.2 20.1 2.1 7.3 1.4 3 1.4 1.9 1.4 1 2.2 0.8 4.2 -0.1 4.9 1.1 5 -0.5 16.9 1.3 9.2 -0.9 3.5 0.5 4.2 -0.2 8.5 1 2.1 -0.1 6.4 -0.9 2.1 -0.9 6.4 -6.8 2.8 -2.4 2.1 -0.9 1.4 0.2 1.4 1.1 5 6.5 2.8 2.5 3.5 1.2 7.1 0.8 24 0.6 4.9 -1.5 7.8 -4.3 2.8 -0.6 2.8 0.7 6.4 3.7 9.8 1.6 7.1 0.5 4.2 -0.7 2.8 -0.1 5 0.8 4.9 -0.3 7.8 0.5 3.5 0.8 3.5 -0.7 4.3 0 2.8 -0.5" stroke="#d02070" stroke-width="2.1" fill="none" stroke-linejoin="round"/>
<path d="M136.6 585.3l2.8 0.1 4.9 -0.5 4.3 0.5 6.3 -0.9 5 -0.2 4.9 -2 4.2 0.3 1.4 -0.2 4.3 -2 4.9 0.3 5 -0.5 5.6 -0.7 5.6 -1.6 5 -0.4 6.3 -1.5 4.3 0.2 7 -1.6 4.3 -1.7 11.2 -1.9 9.9 -2.4 7.1 -0.6 4.2 -1.1 2.1 -1 2.2 -1.9 4.9 -6.2 1.4 -1.1 1.4 -0.5 2.1 0.6 4.3 4.3 3.5 1.5 4.2 0.4 4.3 -1.5 1.4 -1.4 1.4 -3 2.1 -11.1 4.2 -51.9 1.4 -11.8 0.8 -1.6 0.7 1.6 0.7 4.6 3.5 40.6 1.4 9.3 0.7 1.6 0.7 -0.1 2.8 -6.8 0.7 -0.2 0.7 1 1.5 5.6 2.8 15.4 1.4 4.8 1.4 2.4 2.1 0.8 1.4 -0.5 1.4 -1.3 2.2 -4.3 2.8 -8.6 1.4 -2 0.7 0.2 0.7 1 4.9 13.1 1.5 1.7 1.4 0.7 6.3 -0.9 7.1 -1.9 4.9 0.1 9.2 -1.8 4.9 0.1 5 -0.5 7.7 -1.5 2.9 -1.8 2.8 -3.8 2.1 -4.9 1.4 -5.9 2.1 -14.6 4.3 -41.7 1.4 -8.6 0.7 -1.5 0.7 0.4 1.4 7.1 4.2 44 1.4 11.5 1.4 7.5 0.8 2.3 1.4 2.3 0.7 0.4 2.8 0 1.4 0.9 5.7 9.4 3.5 4.5 2.1 1.6 1.4 0.1 1.4 -0.7 5 -6.3 2.1 -1.5 2.1 0.5 3.5 3.6 2.1 1 2.2 -0.2 3.5 -1.4 7 -3.6 6.4 -7.7 2.1 -1.7 2.1 -0.5 1.4 0.7 5 5.1 5.6 4.1 6.4 8.9 3.5 3.2 7.8 2.1 5.6 0.7 7.1 1.6 8.4 -0.3 5 -1 13.4 3.6 11.3 -1.8 2.1 -0.9 2.8 -2.4 6.4 -7.9 2.1 -1.4 1.4 -0.2 1.4 0.7 1.4 1.7 5 9 3.5 4.5 1.4 0.8 3.5 0.7 4.3 1.5 3.5 0.1 3.5 0.6 9.2 -0.1 7.7 -0.9 2.9 0.5 4.2 -0.3 9.9 1.2 2.1 -0.5 4.2 -3.1 1.4 -0.3 2.2 0.8 6.3 4 7.8 1.5 7.7 -0.4 12.7 1.6 6.4 -0.8 5.6 0 5.7 -0.7 10.6 1.4 8.4 -1.3 7.8 -0.1 17.6 1.9 5 -0.3 8.4 1.3 8.5 -0.3 7.8 -0.9 4.9 1 1.4 -0.1 5.7 -3.4 3.5 -0.8 4.9 -1.9 5 -0.9 4.9 1.4 5.7 3.9 5.6 2.8 2.1 0.4 5.7 -0.2 4.9 1.2 6.4 0.5 4.2 -0.5 4.2 0.6 5 -0.6 7 0.9 5 -0.2 4.2 0.3 9.9 -0.8 7.7 0.5 6.4 -1 6.3 1.2 5.7 0 9.2 -1.4 4.2 0.9 8.5 -0.1 4.2 1.2" stroke="#cc2a2a" stroke-width="2.1" fill="none" stroke-linejoin="round"/>
<path d="M136.6 580.0l2.8 1.2 2.1 0.2 4.9 -0.8 4.3 0 7 -0.7 12.7 -1.9 5.7 -1.8 12.7 -1.1 5.6 -1.9 5 -0.2 3.5 -0.5 4.9 0.1 4.3 -1.4 4.9 -0.6 9.2 -2.6 5.6 -0.5 5 -1.9 4.9 -0.6 5.7 -1.6 9.1 -1.9 2.9 -2.1 5.6 -6.7 2.1 -1.4 2.1 0.4 5 5.6 2.1 1.4 6.3 0.5 2.9 -1 2.1 -2.8 2.1 -8.5 2.1 -19.4 3.5 -43.6 0.7 -4.5 0.8 -1.5 0.7 1.6 0.7 4.5 3.5 40.1 1.4 9.5 0.7 1.8 0.7 -0.1 2.8 -6.5 0.7 -0.2 0.7 0.9 1.5 5.4 2.8 14.7 1.4 4.6 1.4 2.3 0.7 0.5 1.4 0 1.4 -0.7 1.4 -1.4 1.5 -2.5 3.5 -9.6 0.7 -1.1 0.7 -0.3 1.4 1.6 4.2 11.5 0.7 1 1.5 0.9 8.4 -0.6 5.7 -1.3 4.9 0 3.5 -0.7 6.4 -0.4 9.2 -2.2 5.6 -0.2 3.5 -0.7 2.9 -1.8 2.1 -2.6 1.4 -3.1 1.4 -5.1 2.8 -18.4 4.3 -40.2 1.4 -8 0.7 -1.6 0.7 0.1 1.4 6.4 4.9 49.4 2.1 12.6 0.8 2.3 1.4 2.3 0.7 0.3 2.8 0 1.4 1 7.1 12.3 2.1 2.3 2.1 1.3 1.4 0.1 1.4 -0.8 5 -6.2 1.4 -1.1 2.1 -0.2 4.2 1.6 2.8 0.1 1.5 -0.7 4.9 -4.3 7.1 -3.2 2.1 -0.5 2.1 0.6 6.3 4.8 2.9 1.4 2.1 -0.1 2.8 -1.1 2.1 0.3 2.1 2.2 3.6 6 1.4 1.7 1.4 1.1 7 3.5 4.3 1.3 7.7 0.7 5 1.9 2.1 -0.3 4.9 -2 2.9 -0.6 9.1 1.3 7.1 -1 2.1 -1 4.2 -3.8 5.7 -3.9 2.8 -1 2.1 0.3 2.1 1.5 7.8 9.4 7.1 4.6 2.8 0.8 5.6 0 4.3 0.8 8.4 0.4 4.3 0.7 4.9 -1.1 3.5 0.1 7.8 -0.8 2.8 0.5 5 2.1 2.1 0.2 2.1 -0.9 5.6 -3.9 2.2 -0.7 2.1 0.6 4.9 4.6 2.8 0.8 25.4 1.3 6.4 -0.9 6.3 0.9 12 -0.6 5.7 -0.6 7.7 0.9 9.2 -0.4 5.7 1.3 9.8 -0.1 5.7 1.2 5.6 -0.3 5 0.8 6.3 -1.4 5 -0.4 4.9 -1.8 6.3 -1.7 7.1 0 4.2 -0.9 2.9 0.7 12 5.7 2.8 0.8 9.2 -0.2 7 0.9 13.4 -0.2 5 0.7 3.5 -0.3 4.9 1.2 5 -0.7 7.7 0.1 5.7 -0.6 12 0.2 4.9 0.5 5.7 -0.6 6.3 1 13.4 -0.2 5.7 -0.6 4.9 0.8" stroke="#dd6428" stroke-width="2.1" fill="none" stroke-linejoin="round"/>
<path d="M136.6 575.8l3.5 0.5 11.3 -1.2 9.9 -0.1 5.6 -1.1 4.2 -0.3 5 -1.8 4.9 0.4 5 -1.9 9.1 -0.7 4.3 -0.7 4.2 0 7.1 -1.9 4.2 0.1 4.2 -1.2 10.6 -1.1 5 -2 4.2 -0.6 14.8 -4.7 5.7 -3.1 5.6 -6.2 2.1 -1.1 2.1 0.9 5.7 5.8 2.8 1.6 2.8 -0.3 5.7 -2.4 1.4 -1.7 0.7 -1.6 2.1 -11.1 4.2 -50.5 1.4 -11.6 0.8 -1.5 0.7 1.6 0.7 4.5 3.5 39.8 1.4 9 0.7 1.6 0.7 -0.2 2.8 -6.7 0.7 -0.3 0.7 0.9 1.5 5.2 3.5 17.4 1.4 3.5 1.4 1.7 2.1 0.4 2.1 -1.8 1.5 -2.6 3.5 -9.8 1.4 -1.7 0.7 0.3 0.7 1.1 4.2 11.6 1.5 2.1 2.1 1 4.2 -0.5 4.9 -2.1 9.9 -1.3 7.1 1 4.2 -1.5 11.3 -1.6 2.8 -0.8 4.3 -2.1 2.1 -2 1.4 -2.9 1.4 -4.9 2.8 -18.2 4.3 -39.1 1.4 -8.1 0.7 -1.7 0.7 0.1 1.4 6.1 4.9 47.9 2.1 12.2 0.8 2.2 1.4 2.2 1.4 0.3 2.1 -0.4 1.4 0.6 7.1 11.7 2.1 2.1 2.1 0.9 1.4 -0.2 1.4 -1 5 -6.8 2.1 -1.8 1.4 -0.1 2.8 1 1.4 0.1 8.5 -1.1 4.2 -0.1 2.8 0.6 6.4 3.4 4.9 1.6 2.9 -0.1 4.2 -2.4 2.1 -0.1 2.8 2.1 5.7 7.8 2.8 2.4 4.9 2 8.5 1.1 5.7 1.6 6.3 -1.3 9.2 -3 3.5 -0.7 9.9 -4.2 5.6 -0.6 2.1 0.4 2.9 1.5 2.8 2 6.3 5.7 3.6 1.9 9.9 2.2 4.9 0.1 14.8 2.1 16.2 -0.4 9.9 0.9 6.4 1 2.1 -0.7 4.9 -3.4 2.1 -0.7 2.2 0.7 7 4.3 5 0.7 5.6 -0.7 4.2 1.2 2.9 0.4 8.4 -0.5 5.7 0.8 7.7 -0.6 6.4 0.1 6.3 0.8 8.5 -1.2 4.9 0.7 4.3 -0.2 3.5 0.6 9.2 -0.5 11.3 1.2 3.5 -0.2 4.2 -0.9 5 0.4 3.5 -0.1 4.9 -0.8 5 -2.1 4.9 0.2 5 -0.8 12.7 2.3 7 2.5 5.7 1.5 8.4 1 5.7 -0.6 5.6 0 4.3 0.6 5.6 -0.4 4.2 0.9 3.6 -0.3 4.2 0.4 6.4 -0.8 3.5 0.6 9.9 0.6 7 -1.3 5.7 1.4 5.6 -0.4 3.5 -0.9 4.3 0.3 3.5 -0.4 6.3 1.4 12.7 -0.6 3.6 0.8 2.8 1.3" stroke="#e0a030" stroke-width="2.1" fill="none" stroke-linejoin="round"/>
<path d="M136.6 572.0l3.5 -1 4.9 0.3 7.8 -0.8 5.6 0.2 11.3 -2 7.8 -1.9 7.1 0 3.5 -0.9 4.2 -0.5 5.7 -1.7 4.9 0.5 4.9 0 5.7 -2 4.2 -0.2 13.4 -2.3 9.9 -3.4 7.1 -0.1 5.6 -2.2 4.9 -2.8 2.2 -2.4 4.2 -6.2 1.4 -1 0.7 0 1.4 0.8 5.7 6.4 2.8 2.1 2.8 0 6.4 -2.1 1.4 -1.8 0.7 -1.8 2.1 -11.1 4.2 -48.7 1.4 -11.2 0.8 -1.7 0.7 1.4 0.7 4.1 3.5 38.6 1.4 9 0.7 1.5 0.7 -0.2 2.8 -6.9 0.7 -0.2 0.7 1.1 5 22.7 1.4 3.5 1.4 1.6 2.1 0.4 2.1 -1.8 1.5 -2.9 2.8 -7.9 1.4 -2.5 0.7 -0.3 1.4 1.5 4.2 10.9 1.5 1.8 2.1 1.1 2.8 -0.2 9.2 -3 4.9 -0.3 4.2 0.3 5.7 -1.7 4.2 0.6 6.4 -1.8 4.9 0.7 2.1 -0.5 5 -2.8 1.4 -1.7 1.4 -3.1 1.4 -5.2 2.8 -18 4.3 -38.7 1.4 -8 0.7 -1.8 0.7 0.1 1.4 6 4.9 47.1 2.1 12 0.8 2 1.4 1.8 0.7 0.1 2.8 -1.1 1.4 0.5 0.7 0.7 5.7 9.9 2.1 2.5 2.1 1.3 2.1 -0.5 2.1 -1.5 5 -6.9 1.4 -0.8 1.4 0.6 3.5 2.5 7.1 1.2 12 4 7 0.4 5.7 -1 4.2 -1.7 1.4 0.1 2.1 1.5 3.6 4.5 4.2 4.4 1.4 1.1 2.1 0.7 8.5 1.3 5.6 -1.2 3.6 0.3 2.1 -0.7 5.6 -3.1 5.7 -1.3 7.7 -0.8 5 1.4 12.7 7.1 6.3 3 1.4 0.2 4.3 -0.6 7 2.2 4.3 -0.1 6.3 0.6 5.7 1.1 4.9 -0.4 4.9 0.7 6.4 -0.4 7 0.4 4.3 -0.4 5.6 1.5 5.7 0.2 3.5 -1.1 4.2 -3.1 2.2 -0.7 2.1 0.7 4.2 3.6 2.1 1.1 2.8 0.9 5.7 0.3 7 -1.2 7.8 1.5 6.4 -1.4 4.9 1.6 4.9 0.2 5.7 -0.9 12 0.2 4.2 -0.9 6.4 0.4 6.3 0.9 12.7 -0.4 5.7 0.4 5.6 -0.7 5.7 0.4 7 -1.6 4.2 0.1 5 -0.9 7 -0.1 12 3.5 5 0.5 4.2 1.5 6.4 -0.3 10.5 1.4 4.3 -0.7 4.2 0.3 5.7 -0.4 9.8 0.6 9.9 -0.2 5.7 1 5.6 -0.7 3.5 0.9 4.3 -0.6 10.6 0.3 6.3 -0.7 5.7 0.7 8.4 -1 7.1 0.7 4.9 -0.6 5 1.3 5.6 -0.9" stroke="#c8d83a" stroke-width="2.1" fill="none" stroke-linejoin="round"/>
<path d="M136.6 567.5l7 -2.3 5.7 0.7 9.1 -0.2 9.2 -1.2 8.5 -2.1 6.3 0.4 8.5 -0.8 4.9 -1.4 5 -0.3 4.9 -1.1 14.1 -1.7 5 -1.5 4.9 -0.6 6.4 -1.6 4.9 -0.3 4.2 -1.7 6.4 -1.2 7 -3.2 2.2 -1.9 4.2 -6.8 2.1 -1.9 1.4 0.1 1.4 1.2 4.3 5.9 2.1 1.9 2.8 0.5 4.2 -0.5 2.2 -0.7 2.1 -2.6 2.1 -7.8 2.1 -18.1 3.5 -41.4 0.7 -4.2 0.8 -1.4 0.7 1.6 0.7 4.4 3.5 37.7 1.4 8.4 0.7 1.4 0.7 -0.3 2.8 -6.4 0.7 -0.3 0.7 1 1.5 5.2 3.5 17 1.4 3.4 1.4 1.6 2.1 0.2 2.1 -2 5 -11.8 0.7 -0.9 0.7 -0.2 1.4 1.5 4.2 10.2 1.5 1.6 2.1 0.8 4.2 0.1 5.6 -0.7 6.4 -1.7 12 -2 6.3 0.4 9.9 -2.9 4.3 -1.9 2.1 -1.9 1.4 -2.6 1.4 -4.5 2.8 -17.4 4.3 -39.3 1.4 -7.9 0.7 -1.6 0.7 0.2 1.4 6.1 4.9 46 2.1 11.9 0.8 2 1.4 1.7 3.5 -1.4 1.4 0.5 1.4 1.7 5 9.3 2.1 2.3 2.8 1.4 1.4 -0.1 1.4 -0.7 5 -6.3 2.1 -1.2 1.4 0.6 5.6 4.9 6.4 2.5 3.5 0.4 4.2 1.2 12.7 -1.4 2.9 -0.9 3.5 -2.3 2.1 -0.3 1.4 0.6 1.4 1.2 3.6 4.7 2.8 2.7 2.8 1.7 2.8 0.7 2.2 0.1 4.2 -0.9 9.9 0 4.2 -2.3 2.8 -0.8 5.7 0.5 4.2 -0.1 2.8 1 10.6 7.7 3.5 1.5 21.9 1.7 5 0.9 4.9 -0.6 4.9 0.9 5 -0.2 7.7 1.9 7.1 -0.1 5.6 -1.3 7.8 1.4 4.2 -0.1 5 0.6 2.1 -0.5 5.6 -3.3 2.2 -0.6 2.1 0.6 5.6 3.5 2.8 0.9 7.1 0.3 6.3 -0.5 5 0.5 4.2 -0.2 8.5 2 6.3 -1.3 4.3 0.3 3.5 -0.3 6.3 1 11.3 -0.9 12 1.1 6.4 -1.3 12 -0.2 10.6 -0.9 10.6 1 4.9 -0.3 3.5 0.7 6.4 0.5 5.6 1.6 5.7 0.1 5.6 1 4.9 -0.2 9.9 0.4 10.6 1.3 9.2 -1.4 7.7 1.7 8.5 -0.7 10.6 0.4 4.2 -0.5 6.4 0.2 6.3 0.9 5 -0.5 6.3 -0.1 5.7 0.9 4.9 -1.7 5 0.2 4.9 0.9 4.9 -0.4 5 0 3.5 -0.6" stroke="#a0d840" stroke-width="2.1" fill="none" stroke-linejoin="round"/>
<path d="M136.6 562.0l3.5 0.1 7.8 -1.3 4.9 0.5 8.5 -1.2 4.9 -0.1 5.7 -0.6 5.6 -1.2 7.8 0.1 5.6 -1.7 6.4 -0.7 5.6 0.2 7.1 -1.9 11.2 -0.9 4.3 -1 4.9 -1.8 5 -0.3 7.7 -1.4 3.6 -1.1 4.2 -2 6.3 -1.9 2.2 -1.9 5.6 -7.5 2.1 -1.4 2.1 0.5 5 5.7 4.2 2.8 2.8 0.3 4.3 -1.8 2.1 -2.5 2.1 -7.8 2.1 -17.7 3.5 -39.9 0.7 -4.1 0.8 -1.5 0.7 1.5 0.7 4.1 3.5 36.9 1.4 8.6 0.7 1.5 0.7 -0.2 2.8 -6.9 0.7 -0.3 0.7 1 5 21.7 1.4 3.3 1.4 1.8 2.1 0.7 2.1 -1.8 1.5 -2.7 3.5 -9.2 0.7 -0.9 0.7 -0.3 1.4 1.7 2.8 7.7 1.4 2.8 1.5 1.3 1.4 0.4 4.9 -0.1 7.1 -1.3 4.9 -1.7 7.1 -1 9.1 0.4 12 -2.8 3.6 -1.4 2.1 -1.7 2.1 -4 1.4 -4.7 2.8 -17 4.3 -38.5 1.4 -7.9 0.7 -1.7 0.7 0 1.4 5.6 4.9 45.3 2.1 11.5 0.8 1.9 1.4 1.6 3.5 -1 1.4 0.4 0.7 0.7 6.4 11.2 2.1 2.1 2.1 1 1.4 0 1.4 -0.6 5 -4.8 2.1 -0.5 1.4 0.7 4.2 4.1 2.1 1.3 8.5 2.4 3.5 0.3 5.7 -1.7 9.9 -2.2 5.6 -3 1.4 -0.3 2.1 1.3 7.8 7.8 3.5 1.8 2.1 0.3 3.6 -0.3 10.6 1.2 6.3 -1.8 4.2 0.4 4.3 1.2 4.2 2.8 4.9 2 5 2.9 7.7 1.4 7.1 -0.8 12.7 0.7 4.9 -0.2 9.9 1.5 5 -0.4 7 0.3 16.3 1.6 4.9 -0.9 3.5 0.7 4.3 0 2.8 0.4 2.1 -0.4 4.2 -3 2.1 -0.4 3.6 1 5.6 3.1 10.6 1.8 14.1 0.1 4.3 -0.4 6.3 0.5 11.3 -0.7 4.2 0.8 4.3 -0.5 4.9 0.7 7.1 -0.4 4.2 -1.2 12 1.1 4.2 -0.4 3.5 -0.8 5.7 1.1 8.5 -1 7.7 0.6 6.4 -0.1 6.3 1.2 4.3 0 4.9 1.6 4.2 -0.4 7.1 0.6 14.8 -0.1 10.6 2 5.6 -1 8.5 -0.1 12.7 1.4 8.5 -0.6 4.9 0.4 14.8 0.1 5 1.1 7 -1.6 10.6 0.1 5 0.5 5.6 -0.4 12 0.7" stroke="#78d040" stroke-width="2.1" fill="none" stroke-linejoin="round"/>
<path d="M136.6 557.5l7.7 -0.8 15.6 -0.9 3.5 -0.9 4.2 0.1 12.7 -0.6 16.2 -2.8 5 0.1 7 -0.8 5 -1.1 4.2 0.2 5.7 -2.4 4.2 -0.1 7.8 -1.4 6.3 -2.2 4.2 -0.6 4.3 -2 4.9 -1.1 2.1 -1 2.9 -2.3 4.9 -7.6 2.1 -1.6 2.1 1.1 5 6.4 2.8 2.4 2.1 0.3 6.4 -0.9 1.4 -1.2 1.4 -2.8 2.1 -10.4 4.2 -46.6 1.4 -10.7 0.8 -1.5 0.7 1.2 0.7 4 3.5 36.3 1.4 8.5 0.7 1.5 0.7 -0.1 2.8 -6.1 0.7 -0.2 0.7 1 1.5 5.1 2.8 14.1 1.4 4.4 1.4 2.1 1.4 0.7 1.4 -0.1 2.1 -1.5 1.5 -2.4 3.5 -9 1.4 -1.4 1.4 1.3 4.2 10.3 1.5 1.7 1.4 0.6 7.7 -0.9 5.7 -1.6 18.3 -2.1 5.7 -1.8 5.6 -0.5 2.1 -0.6 4.3 -2.6 2.1 -2.1 1.4 -2.7 1.4 -4.8 2.8 -17 4.3 -36.6 1.4 -7.8 0.7 -1.6 0.7 0.1 1.4 5.8 4.2 40 1.4 10.3 1.4 6.1 0.8 1.7 1.4 1.3 3.5 -1.3 1.4 0.7 6.4 11.4 2.8 3 2.8 1.5 1.4 0 1.4 -0.7 3.6 -3.2 2.1 -0.9 1.4 0.6 4.2 4.1 2.8 1.3 2.9 0.2 13.4 -1.1 12 -2.8 2.1 -1.3 2.8 -2.4 2.1 -0.6 2.1 1.5 5 6.3 4.2 3 2.1 1.1 7.8 1.1 13.4 0.1 2.8 0.4 6.4 3.2 6.3 1.5 5.7 2.6 4.2 0.9 6.4 -0.8 8.4 0.9 13.4 0.2 5 0.6 4.2 -0.4 4.9 1.3 6.4 -1.1 4.9 1 5 -0.2 12 0.8 5.6 -0.3 5.7 1.4 4.2 -1.3 4.9 -3.1 2.2 -0.6 2.1 0.7 5.6 4.4 2.8 0.9 4.3 -0.4 7.7 0.2 4.3 0.6 7 0.3 4.3 -0.5 4.2 0.2 5.6 -0.8 6.4 0.4 3.5 0.7 3.5 -0.3 3.6 0.4 4.2 -0.8 5.7 0 5.6 -1 16.9 1.8 8.5 -0.6 7.1 1.3 5.6 -1.3 12 1.4 4.9 1.5 3.6 -0.7 4.9 -0.2 9.9 1.5 9.9 -0.5 3.5 0.4 3.5 -0.3 6.4 1 9.1 -1.7 7.1 1.3 6.4 -0.7 7.7 1.1 7.8 -0.2 4.9 0.8 10.6 0.1 4.9 -0.6 9.2 0.2 5.7 0.6 4.9 -0.7 4.2 0.3 6.4 -0.6 6.3 0.9 7.8 0.3" stroke="#58cc70" stroke-width="2.1" fill="none" stroke-linejoin="round"/>
<path d="M136.6 551.1l4.9 1 5.7 -0.7 8.4 0.5 5.7 -1 3.5 0.3 4.2 -0.4 5.7 -1.5 12 0.3 6.3 -0.9 4.3 -1.2 3.5 -0.3 4.2 -1.1 9.9 -0.1 4.2 -1.3 14.8 -2.1 4.3 -1.6 4.9 -0.9 7.8 -2.9 4.9 -1.3 4.3 -4 5.6 -7.7 1.4 -1 0.7 0.1 1.4 1.1 4.3 6.2 2.8 2.5 2.1 0.5 7.1 -1.2 1.4 -1.2 1.4 -2.9 2.1 -10.1 4.2 -45.9 1.4 -10.4 0.8 -1.4 0.7 1.5 0.7 4.1 3.5 36.2 1.4 8.1 0.7 1.3 0.7 -0.3 2.8 -6.7 0.7 -0.3 0.7 0.8 1.5 5 3.5 16.7 1.4 3.4 1.4 1.6 2.1 0.6 2.1 -1.4 1.5 -2.4 3.5 -9.1 1.4 -1.6 0.7 0.3 0.7 0.9 3.5 8.5 1.4 2.4 1.5 1.3 1.4 0.4 4.2 -1.3 6.4 -0.8 4.2 -1.3 5.6 -0.3 3.6 -0.9 14.8 -1.8 5.6 -2.2 4.3 -0.8 1.4 -1 1.4 -2.1 1.4 -3.5 1.4 -5.6 2.1 -13.3 4.3 -37.1 1.4 -7.7 0.7 -1.6 0.7 -0.1 0.7 1.8 1.4 8.7 4.2 39.2 2.1 11.2 0.8 1.9 1.4 1.8 0.7 0.1 2.8 -1 1.4 0.6 0.7 0.8 7.1 13.4 1.4 1.8 2.1 1 1.4 -0.2 1.4 -0.7 4.3 -4.3 2.1 -1 1.4 0.3 4.2 3.4 2.1 1.2 2.9 0.8 2.1 0.1 10.6 -2.6 7 -0.6 5.7 -1.4 6.3 -3.6 2.1 0.8 3.6 3.9 3.5 2.9 9.2 5.8 4.9 0.5 9.9 2 8.4 -0.1 6.4 2.7 5.6 0.4 5.7 1.7 4.9 -0.5 4.3 0.6 6.3 0.1 4.9 -0.6 4.3 0.7 4.2 0.1 11.3 1.4 7.1 -0.6 9.8 1.3 15.6 0.6 7.7 -0.6 5 0.9 2.8 -0.7 4.9 -3.3 1.4 -0.4 2.2 0.5 5.6 3.5 3.5 1.1 2.9 0.5 5.6 0.1 12 -0.7 9.2 1.2 4.9 -0.6 5 0.5 6.3 -0.9 5.6 0.9 10.6 -1.1 9.2 0.2 3.5 -0.5 5.7 0.9 5.6 0.2 4.3 1.3 6.3 -0.7 6.4 1.7 4.9 -0.4 7.1 0 7.7 1 12.7 -0.4 6.4 0.9 7 -0.9 7.1 1.2 11.3 -1.1 4.2 0.2 6.4 1.2 7 -0.4 6.4 1.1 16.9 -0.9 9.9 0.1 4.2 0.4 10.6 -0.7 12 1.3 7.1 -0.5 3.5 0.3 4.2 -0.8 5 0.7 2.1 -0.4 2.8 -1.7" stroke="#58d0b0" stroke-width="2.1" fill="none" stroke-linejoin="round"/>
<path d="M136.6 548.3l7.7 -1 4.3 0.4 6.3 -0.5 11.3 -2 6.4 0.9 2.8 -0.1 6.3 -1.5 6.4 -0.9 4.2 -0.1 8.5 -1 4.2 0.4 7.8 -1.8 4.2 0.1 7.1 -1.3 5.6 -0.3 7.8 -3.1 5.6 -1.3 3.6 -1.6 9.8 -2.4 2.9 -2.4 5.6 -8.7 2.1 -1.5 0.7 0 1.4 1.1 3.6 5.4 2.1 2 4.2 1 7.1 -0.1 1.4 -1.5 0.7 -1.6 2.1 -10.5 4.2 -45.3 1.4 -9.9 0.8 -1.2 0.7 1.5 0.7 4 3.5 35.1 1.4 8 0.7 1.3 0.7 -0.2 2.8 -6.4 0.7 -0.2 0.7 0.9 5 20.7 1.4 3.3 1.4 1.6 2.1 0.4 2.1 -1.4 1.5 -2.1 3.5 -8.1 1.4 -1.5 1.4 1.1 4.2 8.9 1.5 1.5 2.1 0.8 7 -0.7 17 -3.3 11.3 -0.8 9.1 -1.5 3.6 -1.8 2.8 -2.2 1.4 -2.3 1.4 -4.2 2.8 -15.9 5 -41.3 1.4 -5.2 0.7 -0.1 1.4 5.5 4.9 44.7 2.1 10.9 0.8 1.7 1.4 1.3 3.5 -1.8 1.4 0.8 6.4 12.1 2.8 3.7 2.1 1.4 2.1 -0.6 5 -4.9 2.1 -1.2 2.1 0.6 4.9 4.3 3.6 1.1 4.2 -0.8 3.5 0 6.4 -1.2 5.6 -0.2 5.7 -1 2.1 -0.8 3.5 -3.2 1.4 -0.5 1.4 0.7 4.3 5.2 3.5 3.4 2.8 2 2.8 1.3 5 1.6 6.3 1.4 6.4 0.3 6.3 -1.1 2.1 0 11.3 4.3 7.8 0.3 4.9 -1 5 0.8 14.1 -0.1 5.6 1.3 5 -0.5 4.9 0.9 10.6 -0.2 6.4 0.8 6.3 -0.4 5.6 1.3 7.8 -1 6.4 1.3 3.5 -0.9 4.9 -3.7 2.1 -0.8 2.2 0.7 4.9 3.7 2.8 1.5 7.8 0.9 7 -0.6 5 0.8 2.8 -0.6 7.1 -0.3 5.6 0.9 4.9 -0.3 4.3 -0.7 4.2 0.6 4.2 -0.1 7.8 0.6 6.4 -1 4.9 1.2 8.5 -0.3 7 0.4 12 -0.2 6.4 1.7 3.5 0.3 4.9 -0.5 7.1 0.7 6.3 -0.8 6.4 0.3 3.5 -0.4 5.7 1.3 7.7 -0.2 7.1 0.7 4.2 -0.6 5 0.5 4.2 -0.8 3.5 0.2 4.3 -0.6 3.5 0.7 5.6 -0.3 7.1 1.1 6.3 0 4.3 0.8 5.6 -0.5 5 0.3 4.9 -1 7.8 -0.2 9.8 0.5 5.7 0.8 7 0 5 -0.7 8.5 0.6 5.6 -0.4" stroke="#60b8e0" stroke-width="2.1" fill="none" stroke-linejoin="round"/>
<path d="M136.6 542.6l5.6 0.1 5 -0.9 6.3 1.1 6.4 -1.6 5.6 -0.5 3.5 0.2 3.6 -0.6 8.4 0.6 8.5 -1.7 5.6 0.3 12 -2.4 5.7 -0.2 5.6 0.7 7.8 -1.4 9.2 -2.8 4.9 -2 9.2 -2.5 4.2 -1.5 5.7 -3.8 2.1 -2.7 3.5 -5.9 1.4 -1.3 0.7 -0.2 0.7 0.1 1.4 1.2 4.3 6.6 1.4 1.6 1.4 0.9 3.5 0.6 3.5 -0.3 2.9 -0.6 1.4 -1.3 0.7 -1.6 2.1 -10.3 4.2 -44.3 1.4 -10.1 0.8 -1.4 0.7 1.2 0.7 3.8 3.5 35 1.4 8.2 0.7 1.5 0.7 -0.2 2.8 -6.2 0.7 -0.3 0.7 0.8 5 20.3 1.4 3.3 1.4 1.7 2.1 0.4 2.1 -1.7 2.2 -3.7 2.8 -6.4 1.4 -1.7 0.7 0.1 0.7 0.8 4.2 9.6 1.5 1.6 1.4 0.5 2.1 -0.1 4.9 -2.2 10.6 0 7.1 -1.8 5.6 0.3 11.3 -2.8 4.9 -0.9 2.9 -1.5 2.8 -2.6 1.4 -2.5 1.4 -5 2.1 -13.2 4.3 -36.6 1.4 -7.5 0.7 -1.6 0.7 0 1.4 5.3 4.9 42.7 2.1 10.4 0.8 1.7 1.4 1.3 3.5 -0.2 1.4 0.8 1.4 2.1 5 9.7 2.8 3.3 2.1 1.2 1.4 0 2.1 -0.9 4.3 -4.1 2.1 -0.9 2.1 0.9 4.2 4.1 1.4 0.7 1.4 0.2 3.6 -0.4 7 0 9.2 -1.7 4.9 0.2 8.5 -4.1 2.1 0.8 4.3 4.9 4.9 4.5 7.8 3.2 2.1 0.4 10.6 0.3 6.3 -0.7 5 0.5 6.3 2 9.9 0.8 9.2 -0.4 4.2 0.7 7.1 0.2 8.4 -1 4.3 0.8 7 0.1 5 1 9.8 0.3 8.5 1 4.9 -0.8 3.6 0.4 6.3 -0.4 4.3 1.3 1.4 0.1 3.5 -0.7 4.9 -3.6 2.2 -0.8 2.1 0.6 7.7 4.7 2.1 0.8 7.1 -0.8 5.6 0.6 4.3 0.1 5.6 -0.7 3.6 0.7 5.6 -0.1 7.8 1.4 5.6 -0.7 9.2 0.6 4.9 -0.4 3.6 0.5 5.6 -0.7 9.2 1.8 5.6 -1.3 5 1.2 4.9 -0.5 7.1 1.2 6.3 -0.6 13.4 0.2 3.5 -0.4 4.3 0.7 4.9 0.2 7.1 -0.8 7 1 5 -0.7 9.1 0.3 7.8 1.2 4.2 -0.8 5.7 0.3 5.6 -0.9 9.9 1.1 12 0.4 5.6 -0.8 4.3 0.6 8.4 -0.4 11.3 1 5 -0.8 5.6 0 3.6 0.6 4.9 -0.4 4.9 0.7 5.7 -0.9 2.8 0.2" stroke="#4080e0" stroke-width="2.1" fill="none" stroke-linejoin="round"/>
<path d="M136.6 536.3l4.2 1.7 3.5 0.3 12.7 -1.3 4.3 0.4 3.5 -0.6 3.5 -0.1 4.3 -0.7 3.5 0 9.2 -1.1 7.7 -0.3 5 0.3 9.1 -1.5 8.5 -0.1 7.1 -1.5 5.6 -0.3 9.2 -2.5 5.6 -2.5 5 -1.1 10.5 -5.2 2.2 -2.2 4.2 -7.7 2.1 -1.9 0.7 0 1.4 0.9 5 8.3 2.1 2.1 1.4 0.6 2.8 0.4 2.8 -0.2 2.2 -0.7 2.1 -1.9 1.4 -3.8 0.7 -3.3 2.1 -16.4 3.5 -36.7 0.7 -3.9 0.8 -1.3 0.7 1.3 0.7 3.8 3.5 33.6 1.4 7.8 0.7 1.4 0.7 -0.1 2.8 -6.2 0.7 -0.3 0.7 0.8 1.5 4.9 2.8 13.5 1.4 3.9 1.4 1.8 1.4 0.7 1.4 0.2 2.1 -1.1 1.5 -2.3 3.5 -8.7 1.4 -1.4 1.4 1.2 4.2 10.3 1.5 1.6 1.4 0.5 2.1 -0.3 5.6 -2.1 8.5 -1.8 9.9 -0.9 4.2 -0.7 5.7 0 4.9 -1.4 4.9 -0.8 3.6 -1.7 2.1 -1.6 1.4 -2.2 1.4 -3.8 2.8 -15.5 5 -39.8 1.4 -4.9 0.7 0 0.7 1.8 1.4 8.7 4.2 36.9 2.1 10.1 0.8 1.7 1.4 1.4 3.5 -1.6 1.4 0.7 1.4 2.1 5 10.2 2.8 3.4 2.1 1.4 1.4 0 1.4 -0.7 4.3 -4.4 1.4 -0.7 2.1 0.8 3.5 3.9 1.4 1.1 2.1 0.8 2.2 0.2 9.1 -1 4.3 0 12.7 -2.1 2.1 -1.1 3.5 -3.3 1.4 -0.3 2.1 1.6 4.3 6.1 2.8 3.1 2.1 1.4 5 2 7.7 0.1 5.7 1.4 6.3 -1.6 2.8 -0.1 8.5 2.1 4.9 0.3 9.2 1.4 5 -0.8 4.9 -0.2 7.8 0.8 4.2 0.9 4.2 -1.2 2.1 -0.2 4.3 0.4 5.6 1.6 3.5 0.5 11.3 0 3.6 0.3 13.4 -0.6 7.7 0.4 4.3 0.8 2.1 -0.8 5.6 -3.2 2.2 -0.6 2.1 0.9 4.2 3.4 7.8 1.2 13.4 0.5 4.9 -0.4 7.1 0.2 4.2 0.5 6.4 0 4.9 0.9 7.8 -0.7 7.7 0.2 7.8 1.1 2.8 -0.4 4.2 -1.6 5 1.5 3.5 0 6.4 1 7.7 -0.3 5.7 0.7 10.5 -0.1 4.3 -0.4 9.9 1.1 13.4 -1.1 5.6 0.8 6.4 -0.2 5.6 0.3 6.4 1 7.7 -1.4 10.6 1.2 6.4 -0.5 4.9 0.9 3.5 -0.6 5.7 0.6 12.7 -0.6 4.9 0.7 5 -0.8 4.9 -0.2 9.2 1.1 4.2 -0.5 4.2 0.8 6.4 -0.8 5.6 1 5.7 -0.5 2.8 0.7" stroke="#2840c8" stroke-width="2.1" fill="none" stroke-linejoin="round"/>
<path d="M136.6 532.9l3.5 0.5 6.3 -1.2 9.2 0.8 6.4 -0.9 4.9 0.5 2.1 -0.2 3.6 -1.1 3.5 0 3.5 -0.5 7.8 0.1 3.5 -0.6 4.2 0.4 5.7 -0.7 9.2 0 10.5 -2.1 4.3 0.4 4.9 -1.7 4.2 0 2.2 -0.8 5.6 -3.3 7.8 -2.5 4.2 -0.9 2.1 -1.2 4.3 -3.8 4.9 -8.9 1.4 -1.4 0.7 -0.1 1.4 0.9 5 8.2 2.1 2.1 2.8 0.8 6.4 -0.5 1.4 -0.5 1.4 -1.3 0.7 -1.4 2.1 -9.2 4.2 -42.4 1.4 -9.6 0.8 -1.3 0.7 1.4 0.7 3.7 3.5 33.3 1.4 7.6 0.7 1.3 0.7 -0.2 2.8 -6.1 0.7 -0.4 0.7 0.8 1.5 4.5 3.5 15.2 1.4 3.1 1.4 1.5 2.1 0.4 2.1 -1.2 1.5 -2.1 3.5 -8.2 1.4 -1.3 1.4 1.1 4.2 9 1.5 1.6 1.4 0.6 2.1 -0.3 12 -3.5 12 -0.5 5.6 -0.9 11.3 -1 4.2 -1.1 2.9 -1.5 2.1 -2.4 1.4 -3.3 1.4 -5.3 2.1 -13.1 4.3 -34.9 1.4 -6.9 0.7 -1.4 0.7 0.1 1.4 5.6 4.2 36.5 1.4 9.4 1.4 5.6 0.8 1.5 1.4 1.1 3.5 -1.5 1.4 0.7 1.4 1.9 3.5 7.4 2.2 3.4 2.8 2.8 2.1 0.9 2.1 -0.5 4.3 -4.1 2.1 -1.1 2.1 1 4.9 5.3 2.1 1.1 2.9 0.5 7.7 -2.2 7.1 -0.1 9.2 -1.2 2.1 -0.9 4.2 -3.3 1.4 -0.4 2.1 1.4 4.3 6.1 2.1 2.2 9.2 3.9 2.1 0.3 6.3 -0.5 4.3 0.4 4.2 -0.6 6.3 0 9.9 2.8 10.6 0.3 7.8 1.5 4.2 -0.6 6.4 -0.1 4.2 0.5 4.2 -0.7 10.6 1.4 7.8 -0.5 7 1.5 8.5 -1.2 7.1 1.3 4.2 -0.7 11.3 0 6.3 -2.7 2.9 -0.5 1.4 0.5 3.5 2.8 1.4 0.6 11.3 1.4 9.2 -0.3 10.6 1.3 12.7 -0.2 4.9 0.3 4.2 -0.3 6.4 1.1 7 -0.8 4.3 0.4 6.3 -0.1 6.4 1 9.9 -0.8 9.1 1.5 7.8 -1.3 4.9 0.7 12 0.2 5 0.8 4.9 -0.7 12.7 0.5 4.2 -0.6 4.3 0.9 4.2 -0.1 3.5 0.4 10.6 -0.6 8.5 0.6 6.3 -0.6 5 1.2 3.5 0.3 7.8 -1.1 2.8 0.1 4.2 0.9 12.7 -0.2 5 -0.6 10.6 0.3 4.9 -0.5 4.9 0.2 6.4 1.1 6.3 -1 4.3 0.5 3.5 1.2" stroke="#5a28d0" stroke-width="2.1" fill="none" stroke-linejoin="round"/>
<path d="M136.6 528.8l16.2 -1.2 8.5 -0.2 4.2 -0.8 4.2 0.3 7.8 -0.9 6.3 1.2 5.7 -1.1 5.6 0 5.7 -0.8 7.7 0.4 9.2 -0.6 5 -1.1 5.6 -0.2 10.6 -3.4 3.5 -1.7 4.3 -1.1 10.5 -5.4 3.6 -3.2 4.2 -7.2 2.1 -2 0.7 0.1 1.4 1.2 4.3 6.7 2.1 2.2 2.1 1 4.2 0.7 3.6 0 2.1 -2.1 2.1 -7 2.1 -16 3.5 -36.1 0.7 -3.8 0.8 -1.3 0.7 1.3 0.7 3.8 3.5 33.3 1.4 7.4 0.7 1.1 0.7 -0.3 2.8 -5.3 0.7 -0.1 0.7 1 5 19.7 1.4 3.2 1.4 1.5 0.7 0.2 1.4 -0.2 2.1 -1.9 1.5 -2.3 3.5 -7.9 1.4 -1.6 0.7 0.2 0.7 0.7 4.2 8.9 1.5 1.6 2.1 0.9 4.2 -0.7 4.9 -2.1 5.7 -0.2 9.9 -1.7 4.2 0.1 8.5 -2 4.9 -0.2 6.4 -1.2 2.1 -1.4 1.4 -2.2 2.1 -6.6 2.1 -12.7 4.3 -35.1 1.4 -7.1 0.7 -1.5 0.7 -0.1 0.7 1.8 1.4 8.1 4.2 36 2.1 9.7 0.8 1.5 1.4 0.9 2.8 -1.5 1.4 0.2 0.7 0.6 1.4 2.2 5.7 11.3 2.1 2.6 2.1 1 2.1 -0.4 5 -3.9 2.1 -0.8 2.1 1.1 4.9 4.2 2.1 0.9 5 0.7 5.6 -1.3 5 0.1 4.2 -1.2 8.5 -1.2 2.1 -1.3 2.8 -2.6 1.4 -0.5 2.1 1.3 3.6 5.2 2.1 2.4 9.2 4 3.5 0.6 4.2 -0.1 4.3 0.6 9.8 -1.1 7.8 2.3 4.9 0.5 4.3 0.9 3.5 -0.5 7.8 -0.1 7.7 1 4.3 -0.1 3.5 0.5 5.6 -0.9 4.3 0.8 4.9 0.4 3.5 0.8 7.1 -0.6 4.2 0.6 7.1 -0.2 10.6 1.2 4.2 -0.1 7.1 0.4 3.5 -0.5 5.6 -3.8 2.1 -0.6 1.5 0.5 3.5 2.5 2.1 1 13.4 2.4 5.7 -0.7 7.7 0.5 4.3 -0.1 4.2 0.6 5.6 -0.3 6.4 -1.1 5.6 -2.3 2.1 -0.4 6.4 2.7 7.8 2 4.9 -0.3 13.4 0.9 10.6 -1.2 4.2 1.1 5.7 0.6 6.3 -0.7 4.3 0.5 7 -0.2 5.7 0.8 4.9 -0.8 5.6 -0.3 5 -0.9 8.4 2.1 7.1 0.5 3.5 -0.5 6.4 -0.1 6.3 1.4 5.7 -1.1 3.5 0.2 12 -0.5 5.7 0.1 4.2 0.7 9.9 0 4.2 0.5 4.9 -0.2 4.3 0.5 12 -0.4 5.6 0.9 7.8 -0.2 4.9 0.3 10.6 -0.5" stroke="#9a20d0" stroke-width="2.1" fill="none" stroke-linejoin="round"/>
<path d="M136.6 523.8l10.6 -1.2 7 0.9 5.7 -0.3 4.9 -0.8 8.5 0.5 4.9 -1 24 -0.5 4.2 -0.9 5 0.2 6.3 -0.6 4.3 -1 4.9 0.1 16.2 -5.1 7.1 -3.4 3.5 -0.6 2.1 -0.8 2.1 -1.5 2.2 -2.3 4.9 -8.4 1.4 -1.6 0.7 -0.2 0.7 0.1 1.4 1.5 4.3 7 2.1 2.2 1.4 0.6 2.8 0.2 3.5 1 2.2 -0.5 2.1 -2.4 2.1 -6.7 2.1 -15.6 2.8 -29.2 1.4 -9.1 0.8 -1.2 0.7 1.2 0.7 3.5 3.5 31.9 1.4 7.3 0.7 1.1 0.7 -0.3 2.8 -6 0.7 -0.2 0.7 0.9 1.5 4.5 3.5 14.9 1.4 3.5 2.1 2.2 2.1 0.2 2.2 -1.8 4.2 -9.5 1.4 -1.6 0.7 0.1 0.7 0.7 4.2 8 1.5 1.3 1.4 0.6 3.5 0.1 4.2 -0.6 9.2 -2.1 2.1 -1 1.4 -2.2 1.4 -4.4 3.6 -18.8 1.4 -4.7 0.7 -0.4 1.4 3.4 3.5 17.6 2.1 5.8 0.7 0.8 1.5 0.8 9.1 -0.5 5 -2.4 1.4 -1.1 1.4 -2.3 1.4 -4.1 2.1 -10.8 4.3 -31.2 1.4 -6.2 0.7 -1.2 0.7 0.2 1.4 4.9 4.2 30.9 1.4 7.7 1.4 4.4 0.8 1.1 1.4 0.7 3.5 -1.7 1.4 0.6 1.4 2.1 3.5 7.4 2.2 3.5 2.1 2.3 2.1 1.1 2.8 -0.4 4.3 -3.1 1.4 -0.6 1.4 0.3 4.9 3.6 5 2.4 4.9 -0.2 2.1 -1.7 1.4 -3.4 1.4 -7.3 4.3 -41 0.7 -4.1 0.7 -1.4 0.7 1.4 0.7 4.1 4.2 40.6 0.7 4 1.4 4.7 1.5 1.5 2.1 -0.2 2.1 -1.4 2.8 -3.1 1.4 -0.6 0.7 0.2 1.4 1.2 5 6.2 4.9 3.6 3.5 1.7 6.4 1.2 10.6 -0.1 7 -1.3 3.6 0.7 9.1 3.3 8.5 0.9 9.2 -0.8 4.9 0.2 4.3 -0.8 5.6 0.8 4.2 1 7.1 0 7 0.6 13.5 -0.7 4.2 0.9 5.6 0.1 11.3 -0.5 5.7 1.3 2.8 -0.9 4.9 -3.6 2.2 -0.5 2.1 1 4.9 3.7 4.9 1.5 2.2 0.2 4.9 -0.7 5.6 0.8 5.7 -0.5 6.3 0.7 4.3 -0.5 4.9 0.5 7.1 -1.4 2.8 -1.1 4.2 -3.4 2.1 -0.6 2.2 0.7 4.9 4.8 2.1 1.1 2.8 0.6 8.5 0.4 7.1 -0.5 7 1 6.4 -0.9 7.7 0.4 3.6 0.6 10.6 -0.8 6.3 1.6 4.9 0.2 9.2 -0.5 5.7 -2.6 3.5 -0.5 6.3 2.4 5 1.2 9.9 0.7 7 -0.7 7.1 0.7 4.9 -1.1 5 0.8 3.5 0.2 11.3 -3.1 1.4 0.2 4.2 1.9 14.1 1.7 5 0 4.9 -0.7 5.7 0.6 7 -1 5 0.9 14.1 0.6 1.4 -0.3 2.8 -1.6" stroke="#d020c0" stroke-width="2.1" fill="none" stroke-linejoin="round"/>
<path d="M136.6 516.9l4.9 0.9 4.9 0.1 4.3 0.6 9.9 -0.2 12 -0.8 7 0.8 5 -0.5 6.3 0.5 9.9 -1.7 6.3 0.3 17.7 -1.4 14.8 -4.7 5.6 -2.5 7.1 -1.2 2.8 -1.1 3.5 -3 6.4 -10.7 1.4 -1.6 0.7 -0.3 0.7 0.1 1.4 1.3 4.3 7.4 2.8 2.9 2.8 1.2 7.1 -0.4 1.4 -1.2 0.7 -1.4 2.1 -9.1 4.2 -40.1 1.4 -9.2 0.8 -1.3 0.7 1 0.7 3.4 3.5 31.2 1.4 7.3 0.7 1.3 0.7 -0.3 2.8 -6.1 0.7 -0.3 0.7 0.9 1.5 4.6 2.8 12.6 1.4 4.1 1.4 2.1 1.4 1.1 1.4 0.2 2.1 -1.2 1.5 -2 3.5 -7.6 1.4 -1.4 1.4 0.9 4.2 7.7 1.5 1.3 1.4 0.6 2.8 -0.1 4.9 -1.7 4.3 0.1 4.2 -0.9 1.4 -0.8 1.4 -1.6 1.4 -4.1 0.7 -3.8 1.4 -12.8 3.6 -48.5 0.7 -4.6 0.7 -0.5 1.4 10.7 3.5 46.9 1.4 9.5 0.7 2.6 1.5 2.5 2.1 0.8 10.6 -0.7 2.1 -1 2.1 -2.6 2.1 -5.2 1.4 -5.4 5 -29.2 1.4 -5.3 0.7 -1.1 0.7 0 1.4 4.1 4.2 26.6 1.4 6.3 1.4 3.6 0.8 0.7 0.7 0.1 3.5 -3.1 1.4 -0.1 1.4 1.6 3.5 7.6 2.2 3.6 2.8 3.3 2.1 1.5 1.4 0.3 1.4 -0.4 5 -3.9 1.4 -0.4 1.4 0.6 3.5 3.8 2.1 1.6 2.8 0.6 4.3 -0.3 1.4 -0.9 0.7 -1.6 1.4 -10.7 3.5 -77.3 0.7 0 0.8 10.8 2.1 53.4 0.7 10.2 0.7 3.3 0.7 -3.5 2.8 -64.3 0.7 -11 0.7 -0.1 2.8 65 0.7 11.8 1.5 10.4 0.7 1.3 0.7 0.2 1.4 -0.8 3.5 -3.4 1.4 -0.5 0.7 0.3 5.7 6.8 4.9 2.9 3.5 3 1.5 0.7 13.4 0.9 4.9 -1.9 2.8 -0.5 2.1 0.5 3.6 1.7 4.2 0.3 4.9 1 3.6 0 4.2 1.2 18.3 -0.3 6.4 0.7 4.2 -0.5 7.8 1.2 5.6 -0.1 6.4 1 2.1 -0.2 5 -1.3 10.5 2.5 5.7 -0.9 7 0.6 7.8 -1.9 4.2 -2.8 2.2 -0.7 2.1 0.6 4.9 4.2 2.8 1.5 5 -0.5 4.9 0.4 4.9 -0.5 5 0.7 4.9 -0.6 6.4 1.2 6.3 -0.5 1.4 -0.3 1.5 -1 1.4 -1.7 1.4 -2.8 2.1 -6.5 4.2 -16.6 1.4 -2.9 0.7 -0.4 0.7 0.3 1.5 2.8 6.3 23.7 2.1 3.9 1.4 1.2 2.2 0.8 6.3 0 7.8 1 6.3 -0.6 7.1 0.8 4.2 -0.3 5 1.1 6.3 -0.7 5.6 1 12.7 0.4 6.4 -0.8 4.9 -2.3 4.3 -2.7 2.1 -0.4 2.8 0.9 5 3.5 2.1 0.9 7.7 0.9 7.1 0.3 4.2 0.7 7.1 0.1 9.9 -1.5 6.3 0.1 7.1 -2.8 7 1.1 7.1 2.7 2.1 0.5 11.3 0 4.9 -0.6 5.7 -0.1 5.6 1.1 10.6 -0.9 5.6 0.6 6.4 -1" stroke="#d02070" stroke-width="2.1" fill="none" stroke-linejoin="round"/>
<path d="M90.2 781.4l6 0.2 3.1 -0.5 4.2 1 4.2 0.1 1.8 -0.3 3.7 -1.6 1.8 -0.3 6.6 1.4 4.3 -2 4.8 -0.4 6.1 -3.7 9 -12.2 1.9 -0.9 4.2 -0.3 3 -1.3 1.2 -0.2 1.8 0.7 4.3 3.4 9 10.4 6.1 4.4 5.4 1.7 4.9 3.3 6.6 0.5 4.3 2.5 1.8 0.6 1.8 -0.3 3.6 -2 1.2 -0.1 4.3 3.4 4.8 0.7 4.8 2.2 4.3 -0.6 3.6 1.8 2.4 0.2 2.4 0.8 4.3 -0.6 4.2 0.9 3.6 -1 2.5 -2.5 1.8 -3.5 4.8 -14.6 3.6 -18.3 6.7 -43.5 2.4 -13.6 1.8 -7.1 1.2 -3.2 1.3 -1.7 1.2 -0.3 1.2 1.2 1.2 2.7 2.4 10 9.1 59.7 3 16.5 1.8 6.5 1.8 4.7 2.4 4.6 2.5 3 1.8 1 3.6 0.7 3.6 1.8 10.3 -0.7 6.7 0.9 4.8 2.3 7.3 0.8 8.4 6.9 9.1 5.5 6.7 5.6 4.2 1.1 5.4 3.8 7.9 8.7 3 2.7 4.9 1.5 4.8 3.6 5.5 2.6 3.6 0.3 3.6 1.5 2.4 -0.2 3.1 -1 5.4 -5.6 3 -4.9 10.3 -21.7 3 -3.1 1.2 -0.4 1.2 0.1 1.3 0.7 1.2 1.7 3 6.6 1.8 5.6 6.1 23.2 5.4 11.3 1.8 2.4 2.4 2 1.8 1 4.3 1 4.2 3.7 1.8 1.2 1.2 0 2.5 -0.9 3 0.5 3 -0.7 3.6 1.2 4.3 0 6 2.7 4.3 -0.7 6 0.6 4.2 1.6 3.7 -0.4 4.8 1.6 1.2 -0.1 3 -1 3.7 0.1 4.2 1.9 4.2 -0.2 4.9 1 4.2 0 3.6 0.7 4.9 -0.5 6.6 0.8 5.5 -0.3 5.4 0.8 4.3 1.6 8.4 -1.7 6.7 2 5.4 0.5 4.2 -0.3 4.3 1.9 3.6 -0.5 3.6 1.5 4.3 -1.3 4.8 1.6 7.3 -0.8 6 1.7 9.7 -0.5 8.5 0.3 3 -0.3 7.3 2.5 5.4 -0.2 3 2 1.2 0.3 6.1 -2.2 6 1.1 3.7 -1.1 2.4 0.6 5.4 0.3 6.1 -1.1 6.6 1.8 6.1 -0.9 3.6 1.2 6 -0.1 6.1 1.1 3.6 -1.4 4.3 0.8 3.6 -1 6.6 0.4 3.7 1.1 4.2 -1 3.6 0.8 3.7 -1.2 4.2 1.2 6 -0.8 3.7 1.1 4.2 -1.3 7.9 1.1 4.2 -0.5 4.8 0.6 6.1 -1.3 7.9 -3.5 3.6 -2.2 3.6 -3.3 3 -0.5 3.7 -2.8 2.4 -0.6 3 1 4.2 0.5 4.9 4.6 6 4.8 7.3 3.4 3 2.1 1.2 0.4 3 -1 3.7 0.8 4.8 0.1 3.6 -0.6 4.3 0.9 5.4 -1 4.9 1.3 3.6 -1.2 4.8 2.4 1.8 0.3 5.5 -1.7 3 0.4 3.6 -0.8 3.7 0.4 1.8 -0.8 1.8 -1.5" stroke="#cc2a2a" stroke-width="2.1" fill="none" stroke-linejoin="round"/>
<path d="M90.2 777.4l1.8 -1 6.1 -1.2 3.6 2.7 1.8 0.6 3 -0.7 9.1 -3.6 1.2 0.1 3 1.7 2.5 0.7 7.8 -1.8 3.6 -2 5.5 -4.7 4.8 -6.6 4.3 -4.7 1.8 -1 4.8 -1.5 1.8 0.8 4.9 4.5 6 8 3.6 3.5 6.7 4.6 7.9 4.3 2.4 0.6 3.6 -0.2 6.1 2.9 3 -0.6 2.4 0.4 2.4 0.9 4.3 3 5.4 -0.2 4.2 1.7 8.5 1.5 4.8 2.3 1.9 0 3.6 -2 2.4 0 1.8 -2 4.3 -8 2.4 -7.9 5.4 -29.2 8.5 -52.7 1.8 -7.9 1.2 -3.5 1.2 -1.9 1.2 -0.5 1.2 0.6 1.2 2 2.5 9.3 8.4 57.8 4.9 26.9 3.6 12.3 5.4 8.8 2.5 1.5 4.2 0.4 4.2 1 7.9 0 3.6 0.3 4.3 -0.5 4.2 2 4.2 1.5 3.7 -0.5 1.2 0.3 5.4 5.5 4.2 1.4 4.3 2.5 3.6 1.1 6.7 6.9 6 3.3 5.5 6 6.6 4.8 2.4 1.4 3 1.1 3.1 1.9 2.4 0.8 7.3 -0.6 6 -3.9 2.4 -3 8.5 -16.4 1.8 -2.7 1.8 -1.6 6.1 -1.9 1.8 1.7 2.4 5.5 7.9 26.6 3 8.3 3 5.2 1.8 2.3 3.1 1.6 3.6 2.9 2.4 1.3 3.6 0.7 10.3 3.5 5.5 -0.7 1.8 0.2 4.2 2.5 1.8 0.6 12.1 0.5 3.6 -0.4 3.7 1 6 0.6 3.7 -0.4 5.4 2.5 5.4 -0.4 3.7 -1 1.2 0.2 3 2 1.8 0.5 3.6 -0.5 3.7 0.7 4.2 -0.6 4.2 1.3 3.7 -0.7 3.6 0.7 4.8 -0.2 5.5 1.8 4.2 -1.6 5.5 2.3 5.4 -0.2 3 -0.5 7.3 3 3.6 -0.2 4.2 0.7 3.1 -0.4 5.4 0.5 2.4 0.6 3.1 -0.4 7.2 0.2 2.4 -0.2 4.3 1.4 4.2 -0.3 4.8 1.2 1.9 -0.1 3.6 -1 4.8 2.4 3.7 -0.3 3 1 3 -0.7 4.2 0.6 3.1 -0.4 5.4 1.5 4.8 -0.7 3.1 0.7 3 -0.3 2.4 0.4 7.9 -0.7 5.4 0.7 6.1 -0.4 3.6 0.9 6 0.7 1.9 -0.4 4.2 -2 1.8 -0.2 4.2 1.1 4.3 0 5.4 1.1 5.5 -0.9 3.6 0.6 7.3 -0.2 3.6 1.1 2.4 -0.6 3 0.4 4.9 -1 4.8 1.8 4.8 -1.6 6.7 1 3.6 1.1 1.8 0.1 4.3 -2.5 6 -1.3 1.8 -0.7 3.1 -1.8 4.2 -3.6 4.8 -2.1 4.9 -3.6 1.8 -0.5 4.8 1.4 3.7 0.6 3.6 2.9 4.8 5 3.7 1.3 3.6 3.1 7.2 2.9 1.3 0 3.6 -1.2 7.2 2.1 3.1 -0.7 3 -0.1 7.9 -1.2 7.2 2.2 4.2 -0.6 3.7 1.2 6 -0.4 4.3 0.9 4.2 -1.3 4.8 1.5 4.3 -1.4 3 0.4 1.8 -0.4" stroke="#d88a30" stroke-width="2.1" fill="none" stroke-linejoin="round"/>
<path d="M90.2 769.5l1.8 1.7 4.8 2.2 5.5 -0.3 3.6 -0.8 4.3 0.8 4.8 -1.5 1.2 0.2 2.4 1.1 3 -0.5 3.7 1.1 1.2 -0.5 3 -2.3 3 -0.5 4.9 -2.9 1.2 -1.2 6 -8.5 1.8 -1.6 6.1 -1.6 4.8 0.2 2.5 1 4.2 4.3 7.2 9.3 6.7 3.7 3.6 1.6 3.7 2.7 7.2 1.8 4.2 2.5 6.1 0.2 4.8 1 5.5 3.6 3.6 -1 6.1 3.3 4.8 0.5 2.4 -0.5 4.3 -2.9 2.4 -2.9 2.4 -4.8 3 -8.2 4.2 -19.6 4.9 -30.6 5.4 -30.4 2.4 -7.8 1.9 -3.3 1.8 -1.6 1.2 0.9 0.6 1.2 2.4 9.9 9.7 62.9 3.6 19.3 2.4 9 2.5 6.6 3 5.3 2.4 3.2 1.8 1.1 3 0.7 7.9 -0.5 4.8 1.2 3.7 0.3 3.6 -0.3 6.7 0.7 4.2 -0.3 4.2 2.4 4.9 1.6 3.6 0.7 4.2 3.1 5.5 2.9 4.8 3.6 5.5 2.5 10.8 12.4 4.9 1.6 4.2 3.1 10.3 3.4 2.4 -0.7 3 -2.5 7.3 -8.2 5.4 -8.4 4.9 -5.3 2.4 -1.9 1.8 0 1.2 0.7 1.8 2 3.1 4.8 5.4 16.4 3.6 9.6 4.3 9.3 2.4 4.4 1.8 1.8 3 1.9 7.3 2 3.6 1.8 4.2 0.3 3.7 2 3 0.2 3 1.7 3 0.4 2.5 1.1 4.2 -0.8 3.6 2 3.7 -1.2 3.6 -0.2 6 2.3 4.3 -0.7 3 1.2 3 0.4 4.3 2.2 3.6 -0.5 5.4 0.1 3.1 0.5 8.4 -1 8.5 2.7 4.2 -2 3 2 1.3 0.4 4.8 0.1 3.6 -0.5 4.9 2.6 3 -0.3 5.4 0.8 4.3 -1.1 3.6 1.5 4.2 -1.1 9.1 1.3 3.6 -0.3 3.7 1.5 3 -0.5 3 0.5 3 -0.1 4.3 1 3.6 -0.7 7.3 2.4 4.8 -0.8 4.8 1.3 1.2 -0.1 2.5 -1.2 1.2 -0.2 3.6 1.3 5.4 -0.1 9.1 2 4.3 0.4 7.2 -0.8 6.1 1.2 5.4 0.2 4.2 -1.1 5.5 1.4 5.4 -1.5 6.7 1.2 3.6 -0.5 3 1.1 1.8 0.1 3.1 -0.3 4.8 -1.4 1.8 0.4 2.4 1.7 1.3 0.2 7.8 -3 4.9 2.2 6.6 0.4 6.7 1.6 7.2 -0.9 3 -0.9 4.9 0.2 3.6 -1.3 3.6 1.2 5.5 -0.2 1.8 -0.8 5.4 -3.5 1.3 0 1.8 0.9 1.2 0 4.8 -4.9 7.3 -3.6 4.8 -1.9 3.6 -0.7 4.9 1.5 1.8 1 1.8 1.7 3.6 5.2 1.9 1.8 1.2 0.5 3 0.1 4.2 3.8 6.7 0 4.8 2.7 6.1 -1.6 1.2 0 3.6 1.6 3 -0.9 3.7 -0.2 3.6 -0.8 5.4 2.4 4.9 -0.2 3.6 0.9 9.7 -1.3 4.2 2 1.8 0.4 3.6 -1.4 2.5 0.8 4.2 -1 6.7 0.8 5.4 -1.7" stroke="#c8d040" stroke-width="2.1" fill="none" stroke-linejoin="round"/>
<path d="M90.2 769.9l10.9 0.9 3.6 -0.4 3.6 -1.1 4.3 1.8 3 0.4 7.3 -2.6 1.8 -0.1 3 0.9 1.2 -0.2 6.1 -3.7 3.6 -3.8 7.8 -6.4 3.7 -4.5 1.2 -0.5 6 1.7 2.5 0.1 1.2 0.6 9.6 13.4 3.7 3.7 1.8 1 3 0.2 8.5 6 1.8 0.5 4.2 -0.2 1.2 0.3 4.3 3.2 1.8 0.8 8.5 0.6 7.8 2.6 3 -0.8 3.1 -2.6 4.2 -5.8 2.4 -4.8 1.8 -5.4 3.7 -15.8 6.6 -39.7 4.2 -21.6 1.9 -6.8 1.2 -3.1 1.8 -2.3 1.8 -0.4 1.2 1 1.2 2.6 3 13.1 8.5 55.7 4.2 22.8 1.9 6.9 1.8 5 3 7 2.4 3.7 1.8 1.3 3.7 -0.5 3.6 1.8 6 -0.4 3.7 1.9 1.8 -0.2 3 -1.4 1.2 0.1 3.6 1.2 3.7 -1.4 1.2 0 4.8 2 3.7 0.4 3 -0.1 3.6 1.3 4.2 0.2 1.9 1 3.6 3.1 3.6 1 3.6 2.8 4.3 1.6 4.8 4.7 4.3 1.9 4.8 3.8 3.6 1.7 4.9 4.6 7.8 2.8 3.6 -0.3 3.7 -2.4 3.6 -1.9 6.1 -8.8 6.6 -6.4 1.8 -0.3 4.9 2 1.8 1.3 2.4 4.4 12.1 32.4 3 5.7 2.4 2.7 4.9 2.9 3 1.2 4.2 1 3.1 1.7 1.8 0.3 3.6 -1.4 3.6 -0.1 1.8 0.5 3.7 1.7 6.6 0 5.5 2.5 6 -1.1 6.1 3.2 7.2 -0.9 3.7 1.5 6.6 0.4 3.6 1.7 3.7 -0.9 2.4 0.1 4.2 1.7 2.4 0.6 7.9 -0.1 3 -0.9 1.2 0.1 4.3 0.9 2.4 0 3 1.8 1.8 0.5 5.5 -0.9 8.4 0.8 3.1 0.8 3.6 -0.8 3.6 0.2 8.5 1.7 4.2 -0.9 1.2 0.2 3.1 1.6 6 1 10.9 0.6 2.4 -0.4 3.6 1.2 3.1 -1.3 1.8 -0.3 9.7 2.9 4.8 -1 2.4 0.5 2.4 -0.1 3.7 1.2 4.2 -1.1 2.4 0.4 3 1.4 3.7 -0.8 2.4 -0.1 3.6 1.4 3.1 -0.3 3.6 1.5 3.6 -0.5 3.6 0.8 4.9 -0.7 3 0.6 3 -0.3 3 0.2 4.3 -0.6 4.8 1.6 4.3 -1.5 2.4 -0.2 8.4 2 6.1 -1.8 6.6 1.2 6.1 -1.1 10.9 1.4 4.8 -1.2 4.3 0.9 3 -0.5 4.2 1.3 3 0.2 3.1 -1 3.6 -1.7 4.8 0.3 4.3 -1.3 6 -1.3 3.6 -2.1 3.7 -3.2 3.6 -1.4 3.6 -2.8 6.1 -1.1 2.4 0.8 4.2 3.5 4.9 1.8 3.6 3.8 3.6 2.5 4.9 2 9 2.1 7.3 0.3 4.8 -1.1 4.3 2.3 4.2 0.4 6.7 -2.5 1.2 0.3 3.6 1.8 3 -0.2 3 0.7 6.7 -0.3 4.8 0.8 4.3 -1.1 2.4 -0.3 3.6 1.8 4.9 1 1.8 0 4.2 -1.4 11.5 2.7" stroke="#98d048" stroke-width="2.1" fill="none" stroke-linejoin="round"/>
<path d="M90.2 767.4l4.2 -1.2 4.3 0.7 3.6 -0.6 3 0.8 4.9 0.4 6.6 -1.2 3.6 0.9 1.9 0 4.2 -2.4 4.2 -0.9 3 -2.1 3.7 -1.7 3.6 -3.8 2.4 -1.8 3.7 -4.2 4.8 -2 1.8 -0.3 3.6 0.7 2.5 1.4 3.6 3.9 5.4 8.1 1.8 1.4 3.1 0.9 1.2 0.8 6 6.3 3 0.7 4.3 2 6 2 3.7 0.2 3 1.4 7.8 -1.2 3.1 -2.6 1.8 -2.2 1.8 -3.5 2.4 -6.5 4.3 -15.7 6.6 -31.3 4.2 -17.7 3.1 -8.8 1.2 -1.8 1.2 -0.4 1.8 1.1 1.8 2.8 2.4 8.3 2.5 12.2 6.6 39.3 3.6 17.7 2.5 9.9 1.8 5.1 2.4 4.8 3 4.6 2.4 2.7 1.8 0.9 2.5 0.4 7.2 -0.7 2.4 0.5 3.1 1.4 3 -0.5 4.2 0 3.7 1 4.2 -0.8 4.8 0.7 6.7 -2.4 3 0.9 3 0.2 3.1 1.5 9.6 3.1 8.5 5.7 3.6 0.1 5.5 1.9 2.4 1.8 4.8 4.7 4.3 1.6 3 2.2 3 0.8 5.5 0.7 2.4 -0.3 4.2 -3.6 3 -0.4 1.8 -0.7 7.3 -6.2 1.2 -0.3 1.8 0.4 6.7 3.6 1.8 2.4 12.1 28.4 4.2 7.8 6.7 7 1.2 0.7 3 0.5 3 2.2 1.3 0.1 3 -0.8 3.6 0.3 6.7 2.2 3.6 0.6 3.6 1.2 3.6 0 3.7 0.7 4.2 -0.3 6.7 1.8 4.2 -0.4 2.4 0.6 3.6 1.7 1.3 -0.1 3 -1.6 1.2 0 3 1.6 5.5 0.1 10.2 3.1 6.1 -0.8 3.6 0.7 3.6 -0.5 3.1 0.6 3.6 1.9 4.8 -1.6 4.9 0.3 3 1.5 3.6 -0.7 3.1 0.7 3.6 0 3.6 1.8 3 0.4 3.7 1.4 4.2 -0.9 4.2 0 3.7 0.6 2.4 -0.5 6 -0.4 1.2 0.3 3.1 2 3.6 -1.6 1.8 -0.1 5.5 1.8 3 0.2 3.6 1.9 3 -0.8 3.7 1 3.6 -1.6 3 0.5 3.6 -0.4 14.6 1.6 3.6 1.9 1.2 -0.2 1.8 -1.5 1.2 -0.4 3.7 1.4 3.6 -0.1 3.6 1.6 1.2 0 3.7 -1.4 6.6 2.8 4.8 -0.2 3.1 -1.1 1.2 -0.1 4.2 0.6 6.1 1.9 7.8 -1.3 7.9 0.6 6 -0.7 3.1 1 3 -0.8 2.4 -0.1 4.2 1.4 1.9 -0.2 3.6 -1.4 3 0.5 4.2 -0.4 6.7 0.4 8.5 -0.9 4.2 0.5 4.2 -1.3 8.5 -0.7 3 -2.1 4.3 -1.4 5.4 -4.6 3.6 -1.9 5.5 -1.1 2.4 -0.8 4.2 -0.4 1.8 0.6 2.5 2.1 3.6 2.2 3 2.7 3 1.7 7.9 6 10.9 1.5 2.4 0 3.6 1.8 1.2 0 3.1 -0.8 3.6 0.2 4.2 -1 4.3 2.1 1.2 0.3 4.8 -2 7.3 0.5 3 -0.6 3 1 6.7 1 6 -0.7 7.3 0.8 3 -0.1 4.8 1.6 3.1 -1.3 1.2 -0.1 6 1.4 4.3 0.2 1.8 -0.3 3 -1.8" stroke="#70d070" stroke-width="2.1" fill="none" stroke-linejoin="round"/>
<path d="M90.2 765.6l6 -2.5 1.9 0.6 3 2.2 1.8 0.4 1.2 -0.5 2.4 -2.4 1.2 -0.5 3.1 0.3 3 -0.8 4.2 0.6 5.5 -0.8 9 0.6 9.7 -7.4 3.6 -1.2 4.3 -2.9 5.4 -0.9 1.8 0.6 6.1 3.8 4.8 6.5 3.6 1.7 4.3 4.4 3.6 0.5 6.7 2.2 5.4 2.9 1.8 0 2.4 -1 3.1 -2.1 2.4 -3.1 1.8 -3.3 3.6 -8.5 2.5 -7.6 12 -46.6 3.1 -6.9 1.8 -1.9 1.8 -0.3 1.2 0.7 1.2 1.8 3 10.2 4.9 22.6 6 33.6 3.7 15.1 3.6 10.4 1.8 3.1 3.6 4.1 2.5 1.3 4.8 0.6 4.2 2.4 1.2 0.3 3.1 -0.6 4.8 0.2 3.6 -2 1.8 -0.4 1.9 0.3 4.2 1.8 3.6 -1.1 3.7 1 3.6 -1.2 4.2 1.8 9.1 -0.8 6 0.3 3.7 1.8 1.8 0.5 2.4 -0.1 3 -0.9 1.2 0 4.9 3.9 7.2 3.3 3.7 0.3 6.6 3.6 3.6 2.7 3.1 0.9 3.6 0.3 5.4 -1.1 3.7 -1.9 2.4 -2.1 1.2 -0.4 3.6 1.8 6.1 1.4 1.8 1.7 5.4 8.4 3.7 8.4 6.6 13.6 3.6 5.9 4.9 4.9 3.6 1.5 4.2 3.6 3.1 0.7 3 1.7 1.2 0.1 2.4 -1.2 1.2 -0.2 4.3 1.6 4.2 0.9 3 0.2 2.4 0.8 4.9 -0.6 4.2 0.4 3 1 2.5 -0.1 3 1.1 3.6 0 4.2 1.3 4.3 0.6 4.2 0.4 7.3 -0.7 3 1.7 4.2 0 3.7 1.1 4.2 0.6 4.8 1.6 5.5 -0.5 4.2 1.5 4.2 -1.2 8.5 2.5 5.5 -0.9 4.2 1.5 2.4 0.5 9.7 -0.3 1.8 0.5 3 1.6 4.9 -0.5 3.6 1.4 1.2 -0.1 3 -1.5 3.1 0.8 3.6 -0.3 4.2 1.8 6.1 -0.6 1.8 0.6 3 2 1.2 0.4 1.2 -0.2 3.7 -1.9 4.2 0.3 3.6 1.3 4.3 -1 3.6 1 8.4 1.2 6.7 0.2 5.4 1 3.7 -0.5 6.6 1.1 3.1 -0.1 3.6 1.2 1.8 -0.4 3.6 -1.8 1.2 -0.2 4.9 2.2 3.6 -0.3 4.2 2.1 6.7 -1.8 4.8 1.2 3.7 -0.9 3 0.9 3 -0.4 4.2 1.5 1.3 -0.5 2.4 -1.8 1.8 -0.4 4.8 1.4 2.4 0.2 5.5 -0.8 3.6 1.1 1.8 0.1 3.7 -0.2 4.8 -0.9 3.6 1.9 1.2 0.3 3.1 -1.3 2.4 -0.5 5.4 0.5 5.5 -1.6 3.6 0.7 1.2 -0.5 4.8 -4 3.1 -1.1 3 -2.1 4.8 -1.5 4.3 -3.7 3 -0.5 3 -1 3.6 1.7 5.5 1.1 7.9 4.8 6 5.5 5.4 1.4 6.1 3.1 4.2 -0.9 3.1 0.9 9 0.3 3.7 0.9 6 -1.7 7.9 1.2 4.8 -0.7 4.2 0.7 6.7 -0.6 3 0.6 3.6 1.7 3.7 1.1 6.6 -1 3.7 -1 1.2 0.2 2.4 1.8 1.2 0.4 4.2 -1.2 10.3 0.2 4.9 0.9 3.6 -1.3 2.4 1.2" stroke="#60d0d0" stroke-width="2.1" fill="none" stroke-linejoin="round"/>
<path d="M90.2 760.1l1.8 -0.5 6.7 -0.9 4.2 1.1 6 0.1 6.7 -1.1 4.2 1.3 4.3 -2.1 2.4 -0.1 5.4 -1.5 1.2 -0.7 3.7 -4 10.9 -8.9 3 -3.4 3.6 -1.4 6.7 -4.1 6 -1.2 7.3 0.1 4.8 -0.9 4.2 0.9 3.7 -1.3 3 1 1.2 0.1 2.4 -1.3 3.7 -0.7 5.4 -3.7 4.2 -5.2 1.8 -0.2 4.9 1.3 1.8 1.1 1.8 2.4 5.5 9.5 4.2 9.1 7.9 23.1 6 15 2.4 5.1 2.4 2.8 6.1 2.5 4.2 2.3 3.7 -0.8 3.6 1.1 1.8 0 4.8 -1.8 1.2 0.2 4.3 2.5 1.2 -0.1 2.4 -1.2 3.6 -0.7 3.7 0.9 2.4 -0.1 2.4 0.4 3.6 -0.3 5.5 1 4.2 -1.3 3.6 1.6 3.7 0 3.6 1.1 3 -1.9 1.8 -0.3 3.1 0.8 3 1.6 7.9 2 2.4 1.3 3 1 3.6 2.2 3.7 -0.8 4.2 1.6 4.2 0 4.3 1.3 7.2 0.1 3.6 2.8 4.3 2.1 4.2 4.2 2.4 3.5 5.5 10 6.6 9.2 3.7 6.2 3 2.8 3 4 3 3 1.2 0.7 3.1 0.1 3 1.2 3 0.1 4.2 2.3 2.5 -0.4 1.2 0.2 3 1.6 4.2 1.5 4.9 0.4 4.2 -0.8 5.5 2.2 3.6 -1.4 1.8 -0.1 5.4 1.5 4.3 0.4 4.2 2.5 9.1 0.2 5.4 1.2 3.7 -0.5 1.2 0.4 2.4 1.8 1.8 0.6 5.4 -1.2 4.3 -0.3 4.2 2.6 3.6 -0.4 5.5 1.1 4.2 -0.4 4.9 1.9 4.2 -0.3 3.6 1.6 2.4 0.5 4.9 -0.6 3 0.1 3 -0.6 6.1 -0.1 1.8 0.6 4.2 2.4 7.9 0 3.6 -0.8 4.2 1.6 3.1 0.7 4.2 -0.3 5.4 0.4 4.3 -1.5 7.2 2.9 3.7 -1 4.2 1.8 4.2 -0.9 3.7 1.3 4.2 0.6 3.6 -0.1 3.7 0.7 6 -0.9 3 0.4 5.5 2.2 3 -1.1 5.4 -0.2 7.3 2.3 3.6 -1.7 2.5 -0.2 11.4 2.2 4.3 -1 3.6 0.3 4.2 -1.7 3.7 1.5 3.6 0.9 6 0.9 3.1 0 3 1.1 1.2 -0.1 3.6 -1.7 3.1 0.4 3 -0.9 3.6 0.5 6.1 -0.4 4.8 0.8 1.8 -0.6 3 -1.9 3.7 -0.4 3 -0.7 1.2 0.2 2.4 1.2 2.4 -0.2 2.5 -1.5 4.2 -4.9 1.2 -0.3 2.4 0.2 1.2 -0.4 4.9 -3.7 3.6 0.4 1.2 -0.8 3 -3.4 2.5 -0.7 2.4 0.8 4.2 3.1 3 1.2 4.9 3 4.2 1.8 4.2 4.3 2.5 1.7 10.2 2.4 3.7 0 3.6 1.1 3.6 -0.7 5.5 0.3 4.8 1.6 3.6 -0.5 3.7 0.5 2.4 -0.5 3 0.5 3.6 -0.8 4.3 0.7 3.6 -0.8 4.2 2 3.7 -0.7 3.6 0.7 8.5 0.3 8.4 -0.7 4.9 0.2 4.2 0.7 4.8 -1.6 10.9 2.2 3.1 -0.6 3.6 1.6 1.8 0" stroke="#3c6ee0" stroke-width="2.1" fill="none" stroke-linejoin="round"/>
<path d="M90.2 755.8l4.2 2.1 1.8 0.5 4.9 -2 3 0.2 2.4 -0.3 3 0.3 3.7 -0.3 4.2 1.6 4.2 -0.2 3.1 -0.6 3 0.2 1.2 -0.5 9.7 -8 7.2 -3.2 4.3 -0.1 7.2 -6.1 4.9 -2.6 3 -0.7 4.2 -2.1 4.3 -0.1 3 -1.1 6 -0.4 8.5 1.3 4.2 -1.7 9.1 1.6 10.3 3.5 4.2 3.6 6.7 1.1 3.6 3.8 1.8 2.6 1.8 3.7 6.7 17.6 4.2 8.9 3.1 7.7 2.4 4 2.4 2.4 3 0.7 3.6 1.7 4.3 -0.7 10.9 1.4 3.6 -0.8 3.6 1.4 2.4 0.2 3.1 0.9 3.6 -0.1 4.2 -1.1 13.3 1.1 8.5 -1.2 6.1 1.8 4.8 0.8 3.6 1.4 4.9 0.5 4.8 2.2 7.9 0.3 3 1.7 1.8 0.5 6.1 -0.4 4.2 3.3 3.6 1.7 1.8 1.7 13.3 15.8 4.3 6.4 9 11.8 7.9 7.7 3.6 1.6 4.3 0.4 3.6 2.3 5.4 0.9 5.5 1.6 3 1.4 4.8 -0.9 3.7 1.5 4.8 0.1 3.6 1.8 4.3 1.3 1.8 -0.1 4.2 -1.4 3.7 0 3.6 1 3 -0.1 4.2 2 6.1 0.7 3 1 3.6 -0.3 3.7 1.3 3.6 -0.2 4.2 0.6 3.7 1.9 7.8 -0.3 6.7 1.7 4.8 -1 4.3 0.3 2.4 0.6 4.2 1.8 3 -0.3 2.5 0.9 3.6 0 3 0.6 5.5 -1.2 10.8 1.5 4.3 -0.3 5.4 1.3 6.1 2.1 3 -0.4 6.6 0.6 3.7 -0.4 3.6 0.9 3.6 -0.5 3.1 0.9 3.6 -0.4 7.8 1.2 6.7 -0.8 4.2 1.8 3.1 -0.1 3 0.8 4.8 0 3.7 -1 2.4 0.6 4.2 -0.3 3 1 4.3 0.6 4.8 -0.4 4.2 1.2 3.7 -0.8 3 0.8 3 -0.2 4.9 1.1 3 0.2 4.8 1.6 3 -0.9 3.1 0 3 -1.1 3.6 0.1 4.9 -1.2 4.8 0.8 3.6 -0.3 4.3 1.2 4.2 -0.8 5.4 2 3.7 -1.2 3.6 -0.1 4.2 -0.8 4.3 -1.9 3.6 -0.1 4.8 -2.7 4.3 -0.4 3 -1.8 5.4 -4.3 6.1 -2.5 4.8 -1 7.3 1.7 7.2 5.4 6.7 3 4.2 3 3.7 1.2 4.2 2.4 1.2 0 3.6 -1.1 5.5 2 4.8 -0.2 3.6 1.8 9.7 -0.9 3.6 -0.8 6.7 1.4 4.2 0.1 2.5 0.6 3.6 -0.7 3.6 0.4 3.6 -1.2 1.2 0.2 3.1 1.3 3.6 -1 3.6 2.2 3.7 0.6 14.5 -1.8 1.2 0 4.2 1.5 4.3 -0.3 5.4 -0.9 1.8 0.4 4.9 2.4 1.8 -0.5 4.2 -3" stroke="#3030c0" stroke-width="2.1" fill="none" stroke-linejoin="round"/>
<path d="M90.2 752.8l1.8 2.6 1.2 0.7 4.3 -0.9 7.8 1.1 4.9 0 3.6 -0.5 9.1 0.8 6.6 -1.6 1.2 -0.6 3 -2.9 2.5 -1 4.8 -3.1 6.1 -6.1 4.2 -1.7 3 -2.3 4.2 -2.3 5.5 -9.1 4.2 -4.5 3 -1.7 3.1 -0.4 2.4 -0.8 1.2 0.1 8.5 4.8 9 6.1 7.3 2.7 5.4 3.4 7.9 2.6 6.7 4.5 1.8 1.6 2.4 3.2 3 5.8 6.1 13.9 7.2 18.3 2.4 3.8 2.5 2.3 5.4 1.3 4.8 1.8 10.3 0.3 4.3 1.7 3.6 -0.9 2.4 -0.2 1.2 0.3 3 1.7 1.3 -0.4 1.8 -1.4 1.2 -0.3 1.8 0.4 3 -0.5 4.3 1.9 3.6 -0.9 9.7 0.5 6.6 -0.3 1.8 -0.5 3 -2.3 3.7 -1.8 4.2 -4.4 3 -1.6 2.5 -0.2 2.4 0.6 3 0.1 6 0.9 3.1 1.1 6 3.1 3.7 3.5 3.6 2.2 6 7.5 5.5 5.7 4.8 7.2 4.8 5.1 6.1 9.6 3 2.6 4.3 1.9 4.8 5 4.2 1.7 3.1 2.6 4.8 2.7 3 2.4 3.6 2 3.1 2.3 4.2 1.3 4.8 2.6 7.3 1.7 3.6 0.1 3.7 1.3 3.6 -0.1 6 2.2 8.5 0.4 3.6 2.8 1.8 0.8 3.7 -0.1 4.2 -1.5 7.3 2.2 8.4 0.3 3.1 0.9 3 -0.5 3 1.3 1.8 0.4 1.8 -0.1 3.1 -1.1 1.2 0 4.8 1.6 3.6 0.3 5.5 1.5 6 -1.2 4.3 2 10.3 1.2 3.6 -0.2 4.8 1.5 5.5 -0.7 4.2 0.3 3.6 -0.6 7.3 1.9 4.8 -0.2 6.1 0.4 4.2 1.1 4.2 0 4.3 -0.5 4.2 1.6 4.8 -0.1 3.7 1.6 4.8 -1 7.9 1.3 3 -0.3 4.2 1.3 6.1 -0.8 4.2 1.6 3.6 -0.3 3.1 0.8 9 -0.8 1.9 0.3 3.6 1.6 1.2 -0.2 3 -1.6 1.8 -0.4 1.9 0.3 4.2 2.3 3.6 -1.3 6.1 0.9 3.6 -0.7 2.4 0.7 3 0.2 4.3 2.4 1.8 -0.6 3.6 -2.3 2.4 -0.8 9.1 1.9 4.2 -0.7 3.7 0.8 10.3 -2 6.6 -3.4 4.2 -3.1 4.9 -1.8 4.8 -3.7 5.5 -1.5 4.2 1 4.2 -1.1 7.3 1.7 2.4 1.5 4.2 3.9 3.7 0.8 4.8 3.3 9.7 5 3.6 1.3 1.2 -0.1 3.7 -1.4 4.2 -0.3 1.8 0.4 2.4 1.5 1.8 0.5 4.3 -0.9 3.6 0.7 3.6 -0.3 3.1 0.5 4.2 -0.6 3 1.1 3.6 -0.6 3.1 1 3.6 -1.4 1.8 -0.1 5.5 1.3 4.2 -0.7 4.2 0.4 6.7 1.8 4.2 -1.4 2.4 -0.2 4.3 1.1 3 -0.2 3.6 0.9 3 0 3.1 1.1 4.8 -1.1 6.1 1.6 6 -1.4" stroke="#a028d8" stroke-width="2.1" fill="none" stroke-linejoin="round"/>
<path d="M90.2 738.9l7.3 6.4 5.4 6.5 4.2 2.9 5.5 1.2 2.4 0 3 -1.6 2.4 -2.8 2.5 -5.7 2.4 -10 1.8 -11.9 6 -49.1 1.9 -8.7 1.2 -2.4 0.6 -0.1 1.2 1.9 1.8 8.4 4.2 32.9 2.4 14.7 1.9 6.4 1.8 2.3 4.2 2.5 1.2 0 4.3 -3 5.4 -2.5 3.6 -2.3 4.9 -1.8 2.4 0.4 7.2 3 2.5 1.5 3.6 3.7 3.6 1.4 1.2 1.1 5.5 8.3 3.6 4.5 7.3 13 3 3.3 1.8 1 5.4 0.9 3.7 2.5 1.2 0.4 6 -1.1 1.8 -1.3 1.3 -1.8 1.8 -4.3 1.2 -4.3 2.4 -12.5 4.8 -33 1.9 -7.4 0.6 -1.1 0.6 -0.2 1.2 2.2 1.8 10.1 5.4 48.8 2.4 17.2 1.3 5.7 1.2 3.7 1.2 2.4 1.8 2.4 1.8 0.9 3 -0.2 4.3 1.6 4.2 -0.7 3.6 0.8 5.5 0.6 3.6 -0.3 3 -1.5 3.7 -0.9 3 -2 1.8 -2 6 -9.5 2.5 -2.2 2.4 -1.1 1.8 0.9 3 3.5 5.5 5.2 3 1.5 2.4 0.2 3.6 -2 3.7 -0.4 2.4 0.3 3.6 2 3.6 -1.4 1.9 0.2 6.6 4.7 13.3 12.8 4.9 3.8 9.6 12.7 10.9 12.6 5.5 5.6 1.2 0.8 3 0.4 1.2 0.6 4.8 5.3 1.9 1.4 7.2 4.4 7.9 3.4 5.4 4.1 2.4 0.3 4.3 -0.4 3.6 1.3 3.6 -0.5 10.3 3.7 4.9 -0.4 4.2 1 3.6 -0.4 1.8 0.8 4.3 3.5 1.8 0.9 9.7 -1 4.8 -2.4 3 -2.3 1.2 -0.4 7.3 1.3 6 3.8 7.3 2.7 4.2 2.6 3.7 -0.1 8.4 1.4 1.2 -0.2 3.1 -1.7 1.2 -0.1 3.6 1 4.2 0.4 4.3 1.1 7.8 0.6 3.7 -0.7 6.6 2.1 4.9 0.2 4.2 1.5 4.8 -1.3 3.7 1.7 3.6 -1.1 4.2 1.7 3 -0.3 2.5 0.4 4.2 -0.6 7.9 1 3.6 -0.3 3.6 0.2 4.3 1.2 3.6 0 4.8 1.4 4.9 -0.4 3 1.1 1.2 -0.2 2.4 -1.3 1.2 -0.1 6.7 2.6 4.2 -0.4 3.6 0.9 1.3 -0.1 3 -1.5 1.2 -0.2 4.2 2.5 3 -0.1 4.3 0.5 9.7 -1.7 3.6 0.4 2.4 -0.6 6.1 0.6 3.6 0.9 4.2 0.5 1.8 -0.4 3.1 -1.6 2.4 0.6 3 -0.7 1.8 0.5 3 0 2.5 0.7 1.2 0 3 -1 3 -0.3 1.8 -0.7 8.5 -5.6 4.2 -1.1 1.8 -0.9 4.9 -4.5 6 -0.9 3.1 0.5 4.2 -1.4 3.6 0 3 0.9 3.7 2.7 3 1.4 4.8 3.6 3.7 1.6 4.8 4.3 4.2 0.2 6.7 3.3 1.2 0 3 -1.2 1.2 0 7.3 0.5 3.6 1 3.1 0.2 3.6 0.8 4.2 -0.1 4.2 -1.3 8.5 1.8 4.3 -0.9 4.2 1.1 6 -0.1 9.1 1.3 3.6 -1.2 1.9 -0.1 3.6 1.3 2.4 0 3.6 0.6 1.8 -0.2 6.1 -1.9 3.6 1.5 7.9 1.3 1.8 -0.2 2.4 -1.2 1.8 0 5.5 1.5 3 1.9" stroke="#d02080" stroke-width="2.1" fill="none" stroke-linejoin="round"/>
<path d="M170.6 863.6l1.9 -0.1 1.2 -0.6 3.6 -4.8 1.8 -1.2 1.2 0.5 1.2 1.5 2.4 6 1.3 5.5 1.8 12.4 6 57.9 3 24.1 3.1 17.2 1.2 3.7 1.2 1.4 0.6 -0.1 1.2 -1.2 1.8 -3.3 9.1 -25.1 1.2 -2.3 1.2 -1 0.6 -0.1 1.2 0.7 3.7 5.4 3 3.6 4.8 4.6 1.8 1.1 4.3 1.2 4.2 -2.8 2.4 -0.2 3 0.4 1.9 -1.5 4.8 -8.9 3 -7.9 4.3 -15.2 4.2 -20.2 4.2 -17.3 2.4 -7.2 1.3 -2.3 1.2 -0.9 1.2 0.6 1.8 2.9 9.7 25.5 6.6 14.8 2.4 7.8 4.3 16.9 6.6 15.1 1.2 1.8 3.1 2.4 3.6 4.4 13.9 9.3 1.2 0.2 3 -0.7 4.9 1.3 4.8 -0.7 3.6 1.8 3.1 -0.1 3 0.9 2.4 -0.7 3.6 -2.7 4.3 1.1 4.8 -0.3 3.6 2.9 3.7 0.9 3.6 3.1 4.2 2.1 3.7 0.4 3.6 2.3 3.6 0.7 2.4 1 2.5 -0.1 6 -3.3 3 -3 3.1 -1.4 1.2 -1.6 6 -11.8 6.7 -20.5 3 -7.7 1.8 -2.6 4.2 -4.1 1.2 -0.4 1.3 0.9 1.8 3.8 5.4 18 3.6 7.9 4.3 12.4 7.2 12 2.5 2.4 4.2 0.7 4.2 1.8 4.9 4 11.5 2.1 4.2 4.2 1.8 0.7 3.6 0.6 9.1 -0.7 3 1.5 1.2 0.3 4.3 -1.4 4.8 -4.7 2.4 -1.1 1.8 -0.3 2.5 1.6 5.4 6.3 1.2 0.9 4.9 0.7 1.2 -0.2 1.2 -0.9 1.8 -2.2 5.4 -8.7 1.9 -3.8 5.4 -14.7 1.8 -3 1.2 -0.3 1.8 1.4 2.5 4 1.8 4.7 3 10.2 2.4 5.6 4.2 6.8 1.3 1.1 1.2 0.5 3 -0.1 3 -0.9 3 0.5 2.5 -0.4 1.2 0.4 3.6 2.7 4.8 1.7 4.3 0.2 4.2 1.2 3.6 -2 3.7 -1 4.2 -3.4 2.4 -0.6 3 -1.8 1.2 -0.1 5.5 1.4 3.6 3.3 3 0.4 3.7 1.9 3.6 4.1 1.8 1.1 1.8 -0.4 3.7 -2 3.6 -1.4 6 -0.4 3.7 1.4 3.6 -1.9 1.2 -0.1 4.2 1.1 4.9 3.8 1.2 0.2 3 -0.5 1.2 0.4 4.9 3.9 3 1.3 1.2 -0.1 3.6 -1.6 3.7 -2.4 3.6 0.5 3 -0.7 7.3 -2.7 4.2 -1.1 4.2 -2.3 4.3 0.1 3.6 -2.1 4.2 -1.6 1.2 -0.1 4.9 1.3 3 1.7 3 1.1 4.3 4 3.6 1.3 3 2.1 3.6 -0.5 3.7 2.2 3 -0.1 3.6 1.6 1.2 -0.2 3.1 -1.7 3.6 0.8 3.6 -1.1 1.2 0.4 2.5 2.4 1.2 0.5 1.2 -0.7 3 -2.8 1.2 0 3 1.6 1.2 -0.5 3.1 -2.5 3 -0.3 1.2 -1 7.3 -7.8 8.4 -15.9 6.1 -9.3 1.8 -1.8 2.4 -0.7 2.4 0.9 3.7 2.6 5.4 10.3 3.6 9.2 3.1 5.7 4.2 5.2 3.6 5.2 5.5 3.9 3.6 -0.2 4.2 3.4 3.7 -0.2 3.6 2 1.8 0 3.6 -1 4.9 -0.1 3 0.6 3 -0.9 1.2 0.4 2.4 1.9 1.2 0.5 4.9 -0.8 3.6 2.7 3.6 -1.7 4.3 -0.2 2.4 0.7" stroke="#cc2a2a" stroke-width="2.1" fill="none" stroke-linejoin="round"/>
<path d="M170.6 858.9l1.9 -1.8 2.4 -1.7 1.8 -0.7 1.2 0 4.2 2.6 1.8 4 2.5 14.2 10.2 89.4 2.5 12.7 1.2 3.3 1.2 1.3 1.2 -0.5 1.8 -3.5 6.1 -20.1 3 -5.2 2.4 -2.6 1.8 -0.2 4.9 2 1.8 1.8 3 4.5 1.2 1.1 1.8 0.7 3 0.4 3.7 1 5.4 -2.2 1.8 -1.9 5.5 -12.5 2.4 -7.1 6.6 -28 4.3 -15.8 1.2 -2.8 1.2 -1.5 1.8 -1 1.2 -0.1 1.8 1.3 1.3 2.6 7.2 24.9 1.8 4.8 3.7 5.9 5.4 4.7 1.8 2.5 10.3 27.5 3 6.4 1.8 2.1 4.3 1.9 4.2 3.7 1.2 0.3 2.4 -0.5 1.2 0.4 3.7 4.9 1.2 0.9 3 -0.5 4.2 1.4 3.7 -1 6 4 1.2 0.3 2.4 -0.1 3.1 1.4 1.8 0.4 4.2 -0.6 4.9 0 3 0.6 6 0.2 6.1 -2.6 3.6 1.5 4.2 -0.1 4.3 1.7 1.2 -0.2 3 -1.6 3.6 -0.1 3.7 0.4 3 -2.9 3 -1.3 1.2 -1.2 4.9 -12.6 4.2 -7.7 3.6 -8.8 6.7 -13.9 1.8 -2.4 1.2 -0.1 1.2 0.6 1.8 2.1 3.7 6.3 1.8 5.7 6 26.3 6.1 14.8 3 5.6 1.8 1.7 6.1 2.1 4.8 3.8 3.6 -0.8 3 2.9 1.3 0.7 3.6 -0.1 2.4 0.6 4.2 3.4 7.3 4.1 3 -0.7 3.7 0.8 4.2 -0.5 3.6 1.6 3 0.3 1.3 -0.6 4.2 -4.6 8.5 -3.1 1.2 0.8 3 5.7 1.2 1 5.4 1.4 5.5 -1 1.8 -1.7 3 -7.1 3.7 -5.3 6 -14.7 1.2 -1.8 1.8 -0.9 1.8 1.2 1.9 2.8 1.8 4.9 3.6 12.4 1.8 4.2 1.8 2.5 3.7 1.5 4.8 3.4 4.2 -1.3 4.9 2.3 3.6 -0.3 3.6 2.6 4.9 -0.7 5.4 1.7 1.8 0 7.3 -3.2 6.6 -3.7 3.7 -0.8 3 -1.3 1.2 0.3 6 4.5 3.7 5.2 1.8 1.5 6 -0.5 4.3 1.8 7.2 -3.7 1.8 -0.4 4.9 3 7.2 -0.5 9.7 5.6 1.2 -0.3 2.4 -1.7 3.1 -0.3 1.2 0.4 2.4 2.1 1.2 0.3 3 -1 3.1 0 3 -1.6 3.6 -0.7 3.6 -1.7 4.3 0.2 4.2 -2 3 -2.6 6.7 -2 3 -1.4 1.2 0 3.7 1.5 4.8 4.6 3.6 0.9 7.9 3.9 8.5 1.9 4.2 0.2 3 -1 1.8 -0.1 7.9 2.1 9.7 -1.5 4.2 1.2 1.8 -1 3.6 -4.6 4.3 -1.7 3 -3.1 3.6 -2.9 4.9 -7.8 3 -0.7 2.4 -2.8 1.2 -0.7 3 1.6 2.5 0.2 1.2 0.6 4.2 6.3 3.6 3.1 3.1 4.6 3.6 4.2 3 4.7 1.2 1.2 1.2 0.6 1.9 0.3 3.6 -0.3 3.6 2.1 3 -0.6 4.3 3.2 6.6 -0.9 4.9 1.3 2.4 0 3 0.8 3 -0.3 3.1 1.3 3 -0.2 3.6 1.2 5.4 0.3 4.3 -1.2 3.6 0.5 2.4 -1.3 1.8 -0.4 1.9 0.5 3 2.7 1.8 -0.4" stroke="#d88a30" stroke-width="2.1" fill="none" stroke-linejoin="round"/>
<path d="M170.6 859.5l1.9 -4.4 1.2 -1.8 1.8 -1.6 1.8 -0.7 2.4 0.1 1.8 1.1 1.2 1.9 1.2 3.6 1.9 9.4 1.8 13.5 8.4 75.8 3.1 18 1.2 3.7 0.6 0.8 0.6 0.2 0.6 -0.4 1.8 -3.3 9.1 -27 1.8 -3 2.4 -2.8 1.2 -0.6 1.2 0.5 1.8 1.7 3.7 4.8 1.8 1.1 4.8 0.4 1.8 -1.4 2.5 -4 2.4 -5.6 5.4 -15.2 3.7 -12 1.8 -4.5 1.8 -2.6 1.8 -1.8 1.8 -0.8 1.8 -0.3 1.8 1.9 1.9 4.2 9.6 32.1 1.9 4.7 3 5.3 1.8 1.8 1.2 0.7 1.8 -0.5 1.8 -2.3 3.7 -8.1 1.2 -1.8 3 -2.2 1.2 -0.4 1.2 0.3 1.8 2 2.4 4.8 6.1 17.1 2.4 5.5 2.4 4.5 1.8 1.7 5.5 0.1 1.8 1 4.2 3.5 7.9 2.7 3.6 -0.9 1.2 0.1 3.7 3 1.2 0.4 3.6 -0.7 3.6 0.8 3.1 0 3 0.8 3 -1.1 4.2 -0.6 1.9 0.4 4.2 2.4 1.8 0.4 4.8 -1.3 6.7 1 4.2 -1.3 4.3 0.6 1.2 -0.6 4.8 -4.1 4.3 -4.5 7.8 -12.5 6.1 -8.3 1.8 -1 5.4 -1.3 1.2 0.6 1.2 1.6 4.3 9.1 7.8 23.6 5.5 8 2.4 2.6 2.4 1.7 4.3 0.5 3.6 1.7 6 0.1 3.7 1.4 3 -0.6 4.2 3.6 2.4 0.5 3.1 1.6 3 0.3 3.6 2.4 3.6 0.6 6.1 3 3.6 0.5 3 2.3 1.9 0.6 4.8 0.4 6.1 -3.8 3.6 -0.3 3.6 -2.5 4.2 -1.8 1.9 0.9 3 3.2 2.4 0.1 1.2 0.5 3 3 1.2 0 2.5 -1.1 3.6 -0.4 1.8 -1.7 1.8 -3.1 7.9 -19.4 3 -4.1 1.8 -1.1 1.8 1.3 1.9 3.4 4.2 12.8 2.4 5.5 1.8 2.3 3.7 2.1 3.6 4.7 1.8 0.9 3 -1.2 3 0.6 3.7 -0.9 5.4 4.9 1.2 -0.1 1.8 -1.3 1.2 -0.2 4.3 2.9 6 -0.5 4.3 -3.3 4.8 -1.3 4.2 -4.2 1.9 -1.2 1.2 -0.3 2.4 0.8 3.6 2.2 3.6 4.6 1.9 1.7 6.6 3.4 2.4 2 1.2 0.4 1.9 -0.3 3 -1.7 3 -0.5 8.5 -2.6 6.6 0.9 6.1 4.4 3.6 -0.1 3.6 1.2 3.1 -0.3 4.2 1.9 3.6 -1.1 6.1 -1.1 7.8 -2.8 3.1 0.5 1.2 -0.1 5.4 -2.1 4.8 -3.8 3.1 -0.6 1.8 0.6 2.4 1.5 1.8 0.5 1.8 -0.4 3.1 -1.3 1.2 -0.1 1.2 0.6 3.6 3.3 4.2 0.1 4.3 3.5 4.2 0.4 3.6 2.1 1.9 0.6 7.8 -0.3 4.9 2.3 1.8 -0.5 3.6 -2.7 3 -0.8 5.5 -3.2 6.6 -4.6 4.3 -4.6 4.2 -3.2 3.6 -4.6 3 -2.1 1.2 -0.2 3.1 1.9 3 0.8 2.4 2.1 13.9 18.5 1.2 0.7 5.5 1.7 3.6 1.9 9.7 1.7 3.6 1.7 1.2 -0.5 3.1 -2.3 1.2 -0.2 5.4 3.6 1.2 0 2.4 -0.8 1.9 0.3 3.6 4 1.2 0.7 1.8 -0.3 4.2 -2.1 2.5 -0.4 3 0.9 3 0.2 4.2 2.8 1.9 0.5 3.6 -0.7 3 0.6 4.2 -3.3 3.1 0 4.2 -0.8" stroke="#c8d040" stroke-width="2.1" fill="none" stroke-linejoin="round"/>
<path d="M170.6 855.0l2.5 -1.6 4.8 -5.6 1.2 -0.8 0.6 0 1.2 1 1.2 2.4 1.8 6 1.9 9 1.8 12.3 9.7 82.3 2.4 13 0.6 1.5 0.6 0.9 0.6 0.1 1.8 -2.2 3 -7.5 6.1 -22.1 1.8 -5 2.4 -3.7 1.2 -0.8 3 -1 1.3 -1 3.6 -5.6 1.8 -3.5 3.6 -10.6 6.1 -14.2 1.8 -2.8 1.8 -0.8 1.2 0.4 1.2 1.1 2.4 3.7 6.7 22 3.6 15.4 1.8 6 6.1 13 1.2 1.8 1.2 0.8 1.8 0.1 5.5 -0.9 5.4 -3.8 2.4 -3.1 6.1 -11.2 1.2 -1.3 1.8 -0.4 2.4 1.6 1.8 2.9 1.9 4.8 3 10.3 1.8 4.2 4.8 6.7 6.7 6.4 2.4 0.7 5.4 -0.1 4.3 -1 1.2 0.1 8.5 3 5.4 3.4 3.6 0.3 3.7 1.4 2.4 -0.4 6.6 -3.4 7.9 1 4.2 3.5 1.8 -0.8 4.9 -4.9 1.2 -0.5 1.8 0.2 1.2 -0.4 4.2 -5.8 3.7 -2.6 3 -3.1 4.2 -7.4 1.9 -1.2 3 -0.1 3 1.6 3 3.5 4.9 12.6 7.2 16.4 2.4 3.5 4.9 4 1.8 0.8 4.2 -0.2 7.9 4.2 4.8 -0.7 4.3 1.1 3 -0.6 4.2 3 4.3 -0.5 3 0.9 3 -0.7 4.8 0.6 1.3 0.5 3.6 3 3.6 0.9 7.9 4.3 1.2 0 3 -0.9 1.2 0 6.1 3.2 3 0 5.4 1.2 2.5 0 1.8 -1.2 6 -6.1 2.4 -1.1 1.9 0.7 3 2.7 4.8 2.2 3.6 2.9 1.3 0.4 1.8 -0.4 3 -3 3.6 -5.9 2.4 -6.3 6.1 -20 1.8 -2.8 1.2 -1 1.2 -0.3 1.2 0.7 1.8 3.3 6.1 21.6 1.8 4.4 3 4.9 1.9 1.7 3.6 0.5 3 2.3 4.8 2.6 6.7 2.1 1.8 0 4.8 -1.6 1.9 0.3 4.2 1.9 4.2 -1.1 3.1 -0.2 4.8 -2.2 5.4 -4.7 3.1 -1 1.2 0.3 3 2 5.4 1.7 4.9 6.7 1.8 1.5 4.2 0.1 4.3 -0.8 4.2 0.3 1.8 -0.5 3.6 -1.8 2.5 0 3 0.8 3.6 -1.3 1.2 0 2.4 1.3 3.1 3.2 1.8 1.2 4.2 0.3 3.6 1.1 3.1 -0.7 4.2 2.2 3.6 -1.9 3.1 0.2 3 -1.1 3 -0.1 3.6 -2.6 5.5 -2.4 1.2 -0.1 2.4 0.6 3 -0.7 1.8 -1 3.7 -4 1.2 -0.6 1.2 -0.2 5.4 0.7 3.1 1.9 2.4 1.1 3 2.1 1.2 0.2 2.4 -0.7 1.2 0.1 3.7 2.6 6 2.3 4.3 -1.5 8.4 2 2.4 -0.9 4.9 -4.3 6.6 -2.9 5.5 -4.8 4.8 -5.5 3.6 -1.1 3.1 -2 1.8 -0.6 1.8 1.1 9.1 8.9 11.5 14.6 2.4 1.9 1.2 0.2 4.8 -0.7 3.1 0.3 3 -1.2 4.2 3 4.9 -1.5 1.8 0.2 4.8 2.6 6.1 0.3 3.6 3 3.6 0.6 3.6 1.4 1.9 0 4.2 -0.9 3 0.2 3 -0.6 4.3 1.3 3 0.2 3 1.3 4.3 -1.5 7.8 -0.1 5.5 1.9 3 2.2 1.2 0" stroke="#98d048" stroke-width="2.1" fill="none" stroke-linejoin="round"/>
<path d="M170.6 848.1l1.9 -0.2 1.8 -1 4.8 -4.8 1.2 -0.3 0.6 0.4 1.2 2.1 1.8 5.9 3.1 17.5 6 56.2 3.6 27.7 2.5 13 1.2 2.9 1.2 0.7 1.2 -0.3 1.2 -1 1.8 -4.3 3 -12.5 4.3 -21.9 1.8 -6.8 1.8 -3.7 8.5 -13.5 2.4 -4.5 1.2 -1 0.6 0.2 1.2 1.8 3 7.7 4.9 15.1 3.6 13.4 5.5 14.6 2.4 3.8 5.4 3.5 1.8 0.4 3.7 -0.6 4.8 1.9 3.6 -2.1 3.7 0.1 2.4 -0.8 5.4 -4.9 8.5 -13 1.2 -0.9 0.6 0.1 2.4 2.5 1.8 3.2 4.9 15.2 1.8 4.3 1.2 1.6 2.4 1.8 4.3 5.4 3.6 1.3 3 -0.4 3.6 0.6 3.7 -2.2 1.2 -0.3 4.2 2.6 3.6 -0.6 2.5 0.5 3 1.3 3 -0.4 6.1 3.2 3 0.7 2.4 1.2 3.6 0.6 1.2 -0.4 2.5 -1.6 4.8 -4.7 7.9 -4.8 1.2 -1.3 3.6 -5.7 3.6 -2.1 3.1 -3.3 1.8 -0.3 6.6 5.6 1.2 1.7 3.1 7.3 4.8 14.1 7.3 11.3 1.2 1.1 1.8 0.9 8.4 2.1 3.7 1.5 4.2 1.1 2.4 0 3.7 -1.9 1.2 -0.2 1.2 0.4 2.4 1.7 1.8 0.6 1.2 -0.1 3.7 -1.6 10.8 2 4.9 -0.1 4.2 2 3.6 -0.1 3.1 3.4 1.2 0.8 1.2 -0.3 2.4 -1.5 1.2 0.1 3.6 4.2 4.9 1.2 2.4 0.1 4.2 2.7 4.9 -1.6 4.2 -0.3 4.2 1.6 1.3 0 4.2 -3.6 3.6 -0.7 2.4 -1.6 1.2 -0.1 1.9 0.9 3 3 3 1.4 2.4 1.8 3.7 1.5 2.4 0.3 1.8 -1.2 3 -5.2 1.8 -4.6 3.7 -12.9 3 -8.6 2.4 -5 1.2 -1.4 1.2 -0.3 1.2 1 1.2 2.4 7.3 20.8 2.4 5.6 4.3 5.8 3.6 3.6 1.8 1 5.4 -0.3 1.9 0.3 3 1.5 1.8 0.4 4.8 -0.5 3.1 0.2 3.6 1.3 6 -0.2 3.7 -1.1 4.8 -3 4.8 -1.8 3.1 -2 1.2 -0.1 3.6 3.1 4.2 2.5 5.5 5.1 3 1.4 3.6 0.1 7.3 -1.8 4.2 0.2 4.3 -0.9 2.4 -1.4 1.2 -0.2 1.2 0.6 3.6 3.1 4.9 0.1 4.2 2.3 4.8 0.2 7.9 2.9 4.2 0.9 1.9 -0.5 3.6 -1.9 3.6 -1.3 3.6 -2.5 1.9 -0.3 3.6 0.3 3.6 -3.8 3 -0.6 7.3 -3.8 3.6 1.2 4.3 0.6 3.6 -1 1.2 0.1 3.6 2.3 3 0.5 6.7 2.4 3.6 -1.6 5.5 0 6 -3.5 4.9 -1.3 4.2 -5.4 1.8 -1.4 4.2 -1.3 4.3 -2.9 5.4 -0.4 1.8 0.6 1.9 1.4 3 4.5 3 3.3 3.6 6 3.7 2.7 3.6 6 1.8 1.1 3 -0.1 2.4 0.4 3.7 -0.4 3 2.6 1.2 0.6 1.2 -0.5 1.8 -1.8 1.2 -0.6 3.7 1.1 3 0.5 4.2 -2.3 1.2 0.4 1.9 1.9 1.2 0.6 4.2 -2 1.2 0.5 3.6 3.2 6.1 2.9 1.8 0.1 3 -1.8 1.2 0 4.3 3.2 4.8 1.5 1.8 0 3 -1.3 1.3 -0.2 7.2 3.3 4.2 -0.4 4.3 -1.5 4.8 1.4 1.2 -0.4 3.1 -2.4 1.2 0.3 2.4 1.9 1.8 0.4" stroke="#70d070" stroke-width="2.1" fill="none" stroke-linejoin="round"/>
<path d="M170.6 843.8l1.9 0.5 1.8 -0.3 1.2 -1 3 -4.6 1.2 -0.6 1.8 1.7 1.8 4.6 1.9 7.7 1.8 11.1 7.8 63.4 3.7 17.9 1.2 3.6 1.2 1.6 1.2 -0.2 1.8 -2.1 3 -6.7 3.7 -12.6 4.2 -18.4 1.8 -6 1.2 -2 4.3 -4.3 1.2 -0.7 1.2 -0.1 1.8 1 1.8 4.8 6.7 40.8 2.4 8.7 1.8 3.7 1.2 1.2 1.2 0.5 4.2 0.1 4.3 1.9 3.6 0 3.6 1.6 6.1 -2.2 5.4 0.1 3.1 -1.7 3 -0.4 6 -5 1.8 -2.6 5.5 -10.1 1.2 -1.4 1.8 -0.5 2.4 1.2 1.8 3.3 4.3 14.9 4.8 12.7 1.2 1.5 3.7 1.8 2.4 2.5 1.2 0.4 3 -1 4.2 -0.5 2.5 -1.1 3 -2.8 1.2 -0.5 1.2 0.7 3 3 1.2 -0.1 3.1 -1.4 3.6 2 7.2 1.4 3.7 -2 3 -0.8 1.2 -1 4.9 -8.1 6.6 -6.4 3.6 -6.1 1.2 -0.8 3.1 -0.8 3 0.2 1.2 0.5 1.2 1 2.4 4.1 10.3 28.5 4.2 9.5 1.9 2.9 2.4 2.4 3 2.1 2.4 0.8 3 0.2 3.7 -1.7 3.6 1.9 4.2 1.3 3.7 0.1 4.8 -1 3.6 0.8 3.7 1.9 3 0.6 5.4 -0.8 3.7 0.8 4.8 0 6.1 -1.5 3.6 0.9 2.4 -0.1 3.6 2.6 2.4 1 6.7 1 3.6 1.1 1.2 1 3.7 4.4 8.4 0.2 4.3 1.4 5.4 -0.1 4.9 -1.3 4.2 -1.9 3 -2.9 1.2 -0.4 5.5 3.1 4.2 3.8 3 1.9 1.8 0.8 1.9 -0.1 2.4 -0.4 1.2 -0.7 3 -4.9 2.4 -5.5 4.3 -13.6 3 -6.2 3 -8.2 1.2 -1.9 0.6 -0.2 1.2 1.5 1.2 3.1 6.7 23.3 1.8 4.2 4.2 7.1 1.3 0.7 3 -0.3 6 3.2 4.3 -0.9 4.2 2.4 3.6 -0.4 3 2.1 1.3 0.4 8.4 -1 6.1 -3.5 5.4 -1 4.3 -3.1 3.6 -0.3 1.8 0.4 1.8 1.2 3 3 3.7 4.7 1.2 0.8 4.2 0.6 3.6 -1.7 1.2 0 4.3 2.5 1.8 0.3 3.6 -0.8 3.7 -2.5 3.6 -0.5 6.6 4.3 3.1 0.9 3 0.3 2.4 0.9 3 0.3 3.7 2.3 1.8 0.4 3 -1.4 3 -0.4 2.4 -1.1 3.1 0.1 3.6 -1.3 6.6 -0.9 1.3 -0.7 3 -2.7 5.4 -0.4 4.9 -3.5 3.6 0.3 3 -3 1.2 -0.7 3.7 1 3.6 -0.2 6 3.1 1.2 0.2 4.9 -3.2 4.2 0.3 2.4 -0.6 3.1 -1.6 4.8 -3.4 4.2 -3.6 9.1 -3.6 3 -0.6 1.8 0.8 4.9 4.6 4.8 9.5 2.4 2.2 4.9 6 4.8 3.5 3.6 0.6 3.1 -0.9 1.8 -0.2 1.8 0.7 3 2.1 4.3 -0.3 4.2 1.5 3.6 -1.2 3 1.6 1.3 -0.2 4.8 -2.4 1.8 -0.2 3.6 1.4 3.1 0.3 3 0.9 3.6 2 1.2 0 2.4 -0.9 3.1 0.1 4.2 1.9 10.9 3.2 4.2 -0.4 6.1 1.8 7.8 -2.1 3.1 1.3 3.6 0.2 2.4 0.9 6.7 1.3 3 -0.7 1.2 0.1" stroke="#60d0d0" stroke-width="2.1" fill="none" stroke-linejoin="round"/>
<path d="M170.6 810.9l2.5 -3.5 0.6 -0.3 1.2 0.1 3.6 3.4 3 1.6 1.2 1.9 1.2 4 1.9 9.9 1.8 13.5 7.8 70.4 3.1 19 1.8 5.5 0.6 0.4 0.6 -0.3 1.8 -4.4 5.4 -28.5 3.1 -13.7 1.8 -6.4 0.6 -1.1 1.2 -0.6 1.8 1.7 1.2 2.3 7.3 19.1 7.2 15.8 1.3 1.8 3.6 3.7 3.6 6.4 5.5 7.6 7.2 6.4 4.2 7.6 1.9 2.3 8.4 4.5 1.2 0.2 5.5 -1.1 1.2 -1.1 5.4 -7.8 5.5 -11.4 1.2 -1.3 0.6 -0.1 3 2.9 2.4 3.6 3.7 7 4.8 12.1 1.8 3.3 3.6 4.7 4.9 3.2 5.4 -0.6 3.1 2.2 1.2 0.4 4.8 -1.5 4.2 0.9 1.2 -0.2 3.7 -4.4 6.6 -6 4.3 -7.1 3.6 -3.4 1.2 -2.1 3 -7.5 1.8 -2.8 4.9 -4.4 3 -1 1.2 0.3 1.2 1.1 2.4 5.1 2.5 7.4 6 22.9 5.5 14.5 3 5.3 3 3 3 1.8 3.7 1 3 0.3 2.4 0.8 3.6 -0.5 1.8 0.1 6.1 2.7 3.6 -1.5 3.7 -0.8 4.8 0.8 3 3.1 1.2 0.4 3.7 -1.7 3.6 -0.3 3 -1.7 1.2 0.4 2.4 1.4 4.3 1.3 1.2 -0.3 2.4 -1.6 1.2 -0.1 2.4 1.9 1.2 0.5 3.1 -1.9 1.2 -0.4 4.8 1.4 3.6 3.3 4.3 -0.5 4.8 4.6 6.7 1.7 3.6 2.7 4.2 0.4 3.7 2.5 3.6 -1.7 4.8 1.6 2.4 -0.2 1.9 -1.5 4.8 -6.1 1.2 -0.9 1.2 -0.3 1.2 0.6 2.4 2.2 1.9 1.2 1.2 -0.1 2.4 -1.2 1.2 0.2 1.8 1.6 3.6 5.1 1.3 0.9 0.6 0 3.6 -3.4 2.4 -3.8 4.2 -12.2 5.5 -18.5 3 -6.3 1.2 -1 0.6 0 1.2 1.1 1.2 2.8 7.3 26.9 1.8 5.1 1.8 3.3 2.5 1.7 3.6 0.5 1.2 0.4 3.6 3.4 1.2 0.3 3.7 -0.2 4.8 2.5 1.2 0.1 3 -0.9 2.4 0.9 2.5 -0.2 3 0.7 3 -2 3 0.7 1.3 -0.4 3 -2 3 0.5 1.2 -1 3.6 -4.6 3.1 -1.3 1.8 -0.3 1.2 0.6 4.8 5.1 4.3 2.5 3 4 1.8 1.5 6 -0.3 4.3 1.9 3.6 -2.7 3 -0.5 3.1 -1.7 3.6 0.7 3.6 -0.5 3.6 2.1 3.7 3.7 1.8 1.2 1.8 0.5 3.6 -0.2 2.5 0.8 2.4 0.2 3 1.2 1.2 -0.3 4.2 -2.4 1.3 0 3.6 1.1 1.8 -0.1 9.1 -7 10.3 -3.9 4.8 -3.5 2.4 -1.2 7.3 0.2 3 -0.4 3.6 0.9 3.6 -1.1 3.7 -1.7 3.6 -0.6 2.4 1.1 3.1 0.6 3 1.3 4.2 -0.6 4.8 4 2.5 1.1 3 0.8 4.2 2 3.1 2.9 4.2 1.8 4.2 3.6 3.6 0.3 4.9 2.1 7.8 -0.1 1.3 -0.4 2.4 -2 1.2 -0.3 1.2 0.9 2.4 3 1.2 0.6 9.7 -2 4.2 0.9 3.7 1.6 3.6 -1.4 1.8 -0.3 4.9 0.7 3 1.3 6 -0.8 3.7 1.8 3 0 3 0.9 3 -0.2 4.3 1.8 2.4 -0.3 3 2 1.2 0.4 4.2 -1 6.1 0 4.2 2.7 1.2 0.2 1.2 -0.4 3.1 -2 1.8 -0.6 1.8 0.2 3 1.4 3.1 -1.1 1.2 0.4 2.4 1.8 2.4 1" stroke="#3c6ee0" stroke-width="2.1" fill="none" stroke-linejoin="round"/>
<path d="M170.6 798.6l2.5 -6.9 1.2 -1.3 1.2 0.2 1.8 1.9 4.2 6.7 1.8 4.7 1.3 4.8 1.2 7.3 1.8 15.9 6 67.6 3 28.5 2.5 15.8 1.2 4.1 1.2 1.4 1.2 -0.8 1.2 -2.5 7.3 -22.9 1.8 -4 1.2 -1.1 1.2 0.7 1.8 3.2 4.9 10.7 3.6 10.4 1.2 2.3 2.4 3 7.3 7 4.8 0.2 3.6 2.4 6.1 0.4 3 1.7 3.6 0.7 3.7 1.8 1.2 -0.1 3 -1.7 4.2 1.6 3.1 -2 6 -5.9 1.8 -3.3 2.4 -5.9 1.9 -2.9 1.8 -1.5 2.4 -1.2 3 -0.1 1.2 1 1.2 2.3 3.7 10.1 4.2 8.9 1.2 1.7 2.4 2.1 3.7 5.7 1.2 0.3 2.4 -1.2 1.2 0.1 3.6 4.1 3 1.2 4.3 -2.3 3 0.7 1.2 -0.3 5.5 -4.6 6.6 -2.5 3.6 -2.7 3.7 1 4.8 -1 3.6 1.4 3.7 -1.1 1.8 1.4 3.6 5.7 5.5 6.8 4.8 4 4.2 6.7 4.3 3.3 6 7.6 4.9 3 3 0.9 1.8 -0.1 1.8 -0.9 4.2 -5.4 1.9 -1.3 6 0.7 3.6 1.7 3.1 2.6 1.8 0.5 3.6 -2.2 3 -1.1 6.1 -3.9 3 -0.8 1.8 0.8 3 3.4 3.1 1.6 4.8 5.6 1.2 0.3 4.8 -1 1.3 0.2 4.8 2.1 1.8 0.1 3 -0.6 2.5 0.2 4.2 2.5 4.2 0.9 4.3 3.4 7.2 2.4 3 1.4 3.1 0.3 4.2 1.2 3.6 -1.6 4.9 0.2 2.4 -1.4 3 -3.7 1.8 -1 1.2 0.5 3.1 2.7 3 -0.1 4.2 1.4 1.2 0.7 2.4 2.6 1.3 0.5 1.2 -0.1 1.8 -0.6 1.2 -1.3 3.6 -8.5 3 -5.9 6.1 -21.8 1.8 -4.3 1.2 -1.3 0.6 0 1.2 1.3 3.1 6.8 5.4 19.2 2.4 6.6 1.8 3.4 10.9 6.8 7.9 0.1 4.2 2.8 4.2 0.2 3.1 1.9 3.6 -1.2 4.2 0.7 1.2 -0.6 3.7 -3.4 3 -0.6 3 -1.7 2.4 -0.4 3.1 -1.2 6 2.9 3 1 3.1 2.8 6.6 4.4 3 -1.2 4.9 -0.5 4.8 0.4 6.7 -2.7 1.2 -0.1 2.4 1.1 3.6 0.9 3.7 2.4 1.2 0.1 3 -0.4 4.8 4.2 3.7 0 3.6 0.7 3.6 -2.5 3.7 1.1 6 -2.3 4.2 1 3.1 -2.7 3.6 -2.1 4.8 -5.9 1.2 -0.4 4.3 -0.4 1.2 -0.6 4.2 -5.3 1.8 -1.5 4.3 0.1 3.6 -1.9 2.4 0 2.4 -0.7 4.3 1 4.2 -0.6 3 -1 1.2 0.3 2.5 1.7 4.8 2.3 3 -0.9 1.8 0.6 2.4 3 3.7 6.6 1.2 0.7 1.8 0 1.2 0.6 3.6 2.7 7.9 7.9 1.2 0.7 5.5 -2.3 1.2 0.2 3 2.8 1.2 0.5 1.2 -0.3 3 -2.2 1.2 -0.2 1.3 0.3 2.4 1.9 1.2 0.5 4.2 -2.6 1.2 0.2 3.1 1.6 3 -0.4 3 1 3 0.1 4.3 0.9 4.2 -0.8 4.2 1.3 3.1 -1.4 1.8 -0.2 1.8 0.8 2.4 2 1.2 0.4 3 -0.3 3.1 -2 1.2 0.5 3 3.2 1.2 0.4 3 -0.5 4.3 3.1 4.2 -1.5 4.8 0.7 6.7 1.8 4.8 -1.2 3 0.1 4.3 -0.6 1.8 0.4 3 1.7 1.2 0.2 2.5 -0.3 3 0.1 3 -1.9" stroke="#3030c0" stroke-width="2.1" fill="none" stroke-linejoin="round"/>
<path d="M170.6 794.6l2.5 -4.3 1.2 -1 1.2 0.4 2.4 2.7 3 0.8 1.8 3.4 1.9 7.6 2.4 18.6 4.8 58.9 4.2 41.8 3.1 20.7 1.2 4.6 1.2 2 0.6 0 0.6 -0.5 1.8 -3.8 6.1 -23 3 -6.7 1.2 -1.2 0.6 0 1.8 1.8 3 4.9 4.9 14.9 2.4 6.1 1.2 1.9 3 2.8 3.1 4 1.2 1 3.6 0.5 2.4 1.5 5.5 2.4 6 -1.5 1.8 -2.6 8.5 -20.9 1.8 -2.3 1.2 0.2 1.2 1.7 6.1 18.9 1.2 2.2 1.2 0.7 1.8 -0.5 2.4 -1.7 7.3 -12.7 1.8 -2 1.2 0 1.2 1.2 3 5.6 4.3 11.7 4.2 8.3 2.4 3.4 3.7 3.1 3 1.2 3.6 2.4 5.5 1.6 1.2 0 2.4 -1 4.2 -0.8 3.6 -3 3.1 -1.2 3.6 -2.1 4.2 -4.2 1.2 -0.6 3.1 0.7 4.8 -0.1 5.5 1.2 4.8 2.7 4.2 5.4 4.3 6.6 5.4 3.8 7.9 12.9 1.2 0.8 3 -0.3 1.2 0.3 6.1 5.6 4.2 1.9 1.2 0 1.2 -0.7 4.2 -5 4.3 -2.3 3 -1 1.8 0 3.6 2.8 5.5 3.2 1.2 0.3 1.2 -0.4 3.6 -2.6 3.7 -4.4 1.8 -0.5 2.4 1 3 3.4 6.7 5.6 1.2 0.3 3 -0.7 3.6 1.8 4.3 0.8 3 1.6 1.2 -0.2 2.4 -1.2 4.9 1.2 4.8 3.2 1.2 0.3 2.4 -0.2 1.2 0.4 3.7 3.7 6 3.8 15.8 -1.6 3.6 -1.3 3.6 -2.4 4.2 -1 3.7 2.4 5.4 4.6 1.8 0.8 1.8 0 6.1 -2.6 1.8 -2.4 2.4 -6.6 7.3 -25.7 2.4 -5.3 1.8 -1.7 1.2 0.5 0.6 0.9 1.2 3 7.3 26.9 1.2 3.3 1.8 3.1 3.1 2.2 6.6 2.3 3.6 0.3 5.5 2.2 3.6 -0.6 4.2 3.3 3.7 1.8 3 -0.1 2.4 -0.7 6.1 -4.6 6 -2.8 3 -2.8 1.2 -0.5 1.3 0.3 2.4 1.5 3.6 0.6 6.7 7.4 4.8 2.1 2.4 0.4 3.6 2.7 1.3 -0.5 3.6 -3.6 4.2 -2 6.1 -6.1 1.8 -0.7 1.8 0.9 4.2 3.7 4.9 7.1 4.2 1.4 4.2 3.5 3.7 -0.3 3 0.4 5.4 0.1 4.9 -2.3 4.2 -0.9 7.9 -5.1 3.6 -0.2 1.8 -0.7 4.2 -4.6 4.9 -4 6 -4.1 3.7 -0.5 3 -2.4 1.2 -0.5 6 0.8 4.9 -3.2 1.2 -0.2 2.4 0.5 2.4 -1.6 1.2 -0.3 3.7 2.8 10.9 11.6 6.6 3.6 4.2 4.8 2.5 1.3 2.4 2.1 1.2 0.5 3 0.3 6.1 2.9 4.2 0.4 4.2 2.8 1.2 -0.2 3.1 -2.9 1.2 -0.2 4.2 3.2 2.4 1.2 1.2 0.1 4.3 -3.2 2.4 0 3.6 -1.4 3.7 1.9 2.4 0.6 4.2 -0.9 6.1 1.8 4.2 -1.1 1.8 0 4.8 3.7 1.3 0.2 2.4 -1 1.8 0 3 0.8 4.9 2.5 3 -1.1 1.2 0.1 4.8 2.7 3 -1.1 5.5 -0.4 4.2 1.7 4.3 -1.2 3.6 1.9 3 0.4 1.2 -0.3 3.7 -2.1 1.2 0.5 3 2.1 1.8 0.5" stroke="#a028d8" stroke-width="2.1" fill="none" stroke-linejoin="round"/>
<path d="M170.6 800.6l1.9 -4.4 1.2 -1.4 2.4 -1 1.8 0.1 2.4 1.5 1.2 1.9 2.4 8 1.9 11.2 1.2 10.8 6 69.8 3 27.9 3.1 22.1 1.2 4.7 1.2 1.4 1.2 -1.2 1.8 -5.2 6.7 -28 1.8 -4.4 1.8 -1.4 1.8 0.7 1.8 2.7 2.4 5.9 4.9 14.8 2.4 5.1 2.4 3.6 4.3 3.2 4.8 2.6 6 -0.2 1.3 -0.6 1.2 -1.5 2.4 -7 1.8 -9.3 2.4 -17 5.5 -46.4 1.2 -6.7 1.2 -2.9 0.6 0.3 0.6 1.8 1.2 7.5 5.4 54.2 2.5 19.6 1.8 8.4 1.2 2.8 1.2 1.7 1.2 0.5 1.2 -0.8 9.1 -17.2 1.2 -1.4 1.2 -0.2 1.8 1.6 1.8 3.1 6.1 15.6 3.6 7.5 2.4 3.2 5.5 4 1.8 0.7 3.6 0.1 3.6 2.6 1.9 0.3 4.2 -2.6 2.4 -0.2 1.2 -0.5 4.9 -3.6 3 -3.1 1.8 -1.1 6.1 -1.2 4.8 1.5 3.6 -1.4 1.8 0 4.3 3 3 1.4 5.4 7.2 3.7 2.7 4.8 8.5 4.8 6.1 4.3 4.4 2.4 1.9 5.4 2.7 3.1 -0.5 3.6 0.7 1.2 -0.3 4.8 -3.3 3.1 -2.8 1.8 -0.7 1.2 0.2 2.4 1.6 3 1.2 3.7 3.4 1.8 0.7 5.4 -2.9 4.3 -3.1 1.8 -0.7 1.8 0 2.4 1 4.8 4.3 9.1 3.6 3.6 1.8 1.9 0.3 6 -0.8 2.4 1.1 3.1 0.2 3.6 2.8 4.8 0.2 1.8 1.4 3.1 4 1.8 1 4.8 0.7 3.6 -1.1 1.3 0.1 3 0.9 3.6 2 4.8 0.5 1.3 -0.4 5.4 -3.6 3.6 -3.3 3.7 -0.6 1.8 0.8 7.2 5.9 3.7 0.3 1.8 -0.6 1.8 -1.5 1.8 -2 1.8 -3 2.4 -6.5 4.3 -15.4 3 -9.4 1.8 -4.2 1.2 -1.3 0.6 -0.1 1.2 1.2 1.2 3.2 3.7 15.8 1.8 5.9 4.2 10.2 2.4 3.9 3.1 3.5 1.8 1.1 3.6 -0.1 5.5 1.7 6.6 1.2 3 1.4 3.7 -0.8 3.6 2.1 4.2 -2.2 3.7 1.6 9.6 -6.8 4.3 -2.2 1.8 -0.3 4.2 1.2 1.8 1.2 8.5 11.4 1.2 0.9 1.2 -0.1 3.6 -3.7 4.9 -3.8 1.8 -2.7 5.4 -10.7 3.7 -5.1 1.2 -1 1.2 -0.4 1.2 0.5 1.2 1.1 2.4 3.4 8.5 19.7 2.4 4 1.2 0.5 2.4 0.1 3.1 1.6 5.4 -3 1.2 0 3.7 1.3 3.6 0.1 3.6 -0.5 1.2 -0.7 6.1 -6 4.8 -3.4 4.2 -4.4 1.9 -1.2 3 -1.1 4.2 -3.5 5.5 -1 6.6 -4.3 6.1 -0.1 3 1.3 2.4 -0.1 3.6 1 4.3 3.4 2.4 -0.4 1.2 0.3 8.5 9 4.8 3.3 3.6 4.5 1.2 0.9 3.1 0.5 3 1 6.6 0.8 3.1 1 3.6 2.2 4.2 0.4 3.1 -1.2 1.8 -0.2 3 1.2 3.6 -0.2 3 1.3 3.1 0 2.4 0.9 1.2 -0.2 3.6 -1.8 3.1 0.6 3.6 0 2.4 0.5 3.6 2.1 3.1 -1 2.4 0 3 0.7 3 2 1.2 0 3.1 -0.9 5.4 0.6 3.6 1.8 3.1 0.1 3 1 7.8 -1.2 3.7 1.1 3.6 1.7 6.7 -1.3 4.8 0.7 3.6 -1 1.2 0.5 3.7 2.9 3.6 0.4 1.2 0.5" stroke="#d02080" stroke-width="2.1" fill="none" stroke-linejoin="round"/>
<path d="M170.6 1066.2l2.5 -4.5 5.4 -17 1.2 -1.9 0.6 -0.4 1.2 1.1 1.8 6.6 4.9 25.8 7.2 29.7 2.5 6.3 1.2 1.3 1.8 0.5 1.8 -1.9 1.8 -4.8 6.1 -24.5 3.6 -7.5 1.8 -2.2 0.6 -0.1 1.2 0.9 4.3 8.1 4.2 6.2 3.6 6.3 1.2 1.3 6.1 1.8 1.8 0 1.8 -0.8 7.9 -5.4 3.6 -5.6 1.8 -4.1 5.5 -15.8 4.2 -16.2 1.8 -5.4 1.2 -1.9 2.4 -2.5 1.2 -1 1.3 -0.2 1.2 0.7 1.8 3.1 5.4 15.9 2.4 5.3 1.2 1.4 2.5 1.1 3.6 3.2 2.4 3.5 3 7.6 5.5 18.7 3.6 9.4 1.2 2.5 3 3.6 1.3 2 3 7 2.4 4.4 3 7.4 1.8 2.3 3.1 1.2 3.6 0.3 2.4 0.7 2.4 0.2 4.3 2.3 3.6 0.3 3 1.8 1.2 0.3 5.5 -1.9 1.8 -0.1 3 0.5 1.2 -0.3 1.2 -0.9 3.7 -4 6 -1.6 1.2 0.8 4.3 6 2.4 1.7 6.6 1 3.7 1.9 1.8 0.5 3 -0.4 3.6 0.8 3 -1 3.7 0.1 1.8 -0.8 1.8 -1.4 7.3 -9.1 4.8 -8.5 3 -7.6 1.8 -3.4 4.9 -6.5 1.2 -1 1.8 -0.1 3 1.4 1.8 2.2 3.1 6.8 6 17.5 4.9 10.9 2.4 4.4 3 3.5 3.6 5.2 1.2 1 7.9 2.8 6 3.7 4.3 0.1 3 1.2 3 0.2 3.1 2.5 4.8 2.7 1.2 0 2.4 -1.4 1.2 0 3.1 2.9 1.8 0.8 3.6 0.2 6.7 -1.4 3.6 -0.3 1.2 -0.9 4.2 -4.9 1.8 -0.8 3.1 -0.5 1.2 0.4 1.2 1 3 4.6 1.8 1.9 1.8 0.8 3.1 0.1 3.6 3.4 1.8 0.2 6.1 -5.6 6.6 -10.7 3.6 -3.2 1.2 -0.4 1.9 1.7 4.2 8.8 4.8 4.7 3.1 4 1.2 0.8 2.4 0.2 2.4 1.3 3.6 -0.7 4.9 1.3 3.6 -1.4 2.4 -0.3 10.3 1.2 4.8 -1.7 4.3 -2.7 3.6 -0.9 4.8 -2.9 1.9 -0.3 3 1.7 4.8 4.3 4.3 1.9 3.6 2.4 1.8 0.4 3 -0.7 2.4 0 4.3 -1.1 7.8 -5.5 1.9 -0.3 2.4 0.5 1.8 0.9 5.4 5.2 6.1 4.6 2.4 1.2 3.6 0.4 1.2 0.5 3.7 3.7 1.8 0.6 4.2 -1.6 4.3 -0.8 3.6 -2.4 3 -0.5 1.2 -0.9 4.9 -6.1 2.4 -2.2 1.2 -0.4 1.2 0.3 3 1.7 6.7 0.4 4.8 3.5 3 0.7 4.3 2.2 1.8 -0.5 4.8 -2.4 3.7 0.3 3.6 -0.7 3.6 1.5 2.4 -0.6 1.2 0.1 7.9 5.2 1.2 0.2 1.8 -0.6 1.2 0.1 2.5 1.3 2.4 0.7 2.4 1.2 3 0.2 3 2.4 1.3 0.4 1.2 -0.5 2.4 -3.3 1.2 -1 3.6 0.8 3 -1.7 4.3 0 2.4 -1.2 6 -6.6 2.5 -2.2 4.2 -6.5 4.8 -5 1.3 -0.3 1.2 0.6 3 2.8 3.6 1.4 4.9 8.5 5.4 6.8 1.2 0.7 2.4 -0.2 1.2 0.5 3.1 3.3 1.2 0.8 6 0.8 10.3 3.5 6.1 1.5 3.6 1.9 3 -0.2 2.4 1 1.2 -0.2 2.5 -1.3 7.2 0.6 3.6 -1.2 1.9 0.4 3 1.3 1.2 -0.1 2.4 -1.2 3.6 0.4 3.1 -1 3.6 1.3 1.2 0" stroke="#cc2a2a" stroke-width="2.1" fill="none" stroke-linejoin="round"/>
<path d="M170.6 1057.7l1.9 -1.2 3 -5.5 1.2 -1.5 0.6 -0.2 1.2 0.3 3 3.2 1.2 2.5 1.9 5.7 10.2 39.1 2.5 5.1 1.8 2 1.2 0.3 1.2 -0.6 1.2 -2.1 8.5 -28.8 1.8 -4.3 1.8 -1.8 1.8 0.2 1.8 1.8 8.5 19 1.2 1.9 2.4 2.3 2.4 1.5 3.7 -0.3 3 -1 2.4 -1.9 3.6 -4.3 3.1 -6.1 6 -18.1 4.2 -15 2.5 -6.5 2.4 -3.8 1.2 -0.5 1.8 0.5 1.8 1.2 1.8 3.1 7.3 23.9 3 7.2 0.6 0.6 1.2 0.3 2.5 -1 3 0.5 3 -0.6 1.2 0.7 1.2 2 3.1 7.4 4.8 14.4 5.4 14.2 1.8 3.6 4.3 4.9 4.8 3 4.3 4.4 1.2 0.4 3 -0.8 1.2 0 1.2 0.6 3 2.6 1.8 0.8 3.7 -0.3 4.8 1.3 3 -0.1 4.3 -0.8 3.6 0.5 3.6 -0.3 4.3 2.3 6 0.5 4.9 -1.1 3 -1.4 4.2 0.1 5.5 0.8 3 1.5 1.8 0.3 4.8 -1.3 6.7 0.4 4.2 -1.3 3 -0.5 3.1 -1.9 6.6 -9.4 3.7 -3.8 6 -9.7 4.2 -8.2 2.5 -1.9 1.2 -0.3 1.2 0.2 1.8 1.5 1.8 3.4 6.1 16.3 3.6 12.9 5.4 15.3 3 7.5 3.1 5.4 3 3.4 4.2 1.4 3.7 2.7 3.6 1.9 4.2 3.5 2.4 0.8 2.5 -0.4 1.2 0.1 3 2.5 3.6 -1 3 1.3 4.9 -0.6 1.2 0.4 3 2.2 2.4 0 2.5 -1.5 3 -4 5.4 -5.2 1.2 -0.7 1.2 -0.2 1.9 0.8 6 4.1 3.6 5.5 1.2 1.1 1.3 0.5 3 0 2.4 1.4 1.2 0 3 -2.9 3.1 -2.2 1.8 -3.1 4.8 -10.5 1.2 -1.5 1.8 -0.7 1.2 0.2 1.9 1.7 10.2 15.6 4.3 3.5 3 1.3 4.2 0.5 3.1 -1.6 2.4 -0.1 2.4 0.4 3.6 1.8 3.1 -0.5 2.4 0.2 3.6 -2.2 6.1 -0.6 3 -1.2 3 -0.3 1.2 -0.8 3 -3.8 1.2 -0.3 4.3 3.2 3.6 0.9 1.2 0.8 5.5 6.1 4.2 1.3 3 1.4 1.2 0 2.4 -1 2.5 0.2 1.8 -0.4 6.6 -5.3 3.7 -1.9 1.2 -0.2 1.2 0.6 3.6 3.8 1.2 0.1 1.8 -0.7 1.2 0 4.3 5 3 2.4 6.1 1.9 4.2 3 4.2 0.6 1.8 -0.5 4.3 -4.1 3.6 -1.8 3.6 -3.7 1.2 -0.6 3.1 -0.4 4.2 -3.9 1.8 -0.6 6.1 3.8 3.6 3.1 1.2 0.6 1.2 0.1 4.8 -1.2 1.3 0.2 3 1.8 1.8 0.3 3.6 -1.6 4.3 -1.2 1.2 0 3.6 1.2 3 -0.2 4.3 2.7 4.2 0.3 3.6 1.4 3 0.2 9.1 3.5 3 0.1 4.3 0.8 4.2 -1.2 3.6 1.3 3.1 -1.1 4.2 -3.3 3.6 -0.7 3 -1.8 4.9 -5.6 4.8 -3.9 4.3 -6 1.8 -0.6 3 0.4 3 -1 2.4 1 4.3 3.6 4.2 6.1 2.4 2.4 3.7 4.7 6 5.7 1.2 0.6 2.4 -0.4 1.2 0.3 5.5 4.4 5.4 -0.2 4.3 0.4 4.8 3.2 1.2 -0.3 3 -1.9 4.3 1.7 2.4 -0.2 3.6 -1 3 0.6 6.1 -0.6 3.6 0.8 4.3 -2 4.8 1.6" stroke="#d88a30" stroke-width="2.1" fill="none" stroke-linejoin="round"/>
<path d="M170.6 1033.2l7.3 -11.5 0.6 -0.4 1.2 0.3 1.2 1.5 1.2 2.6 3.1 11 6.6 34.8 3 13.9 3.7 12.6 1.2 2.8 1.2 1.6 1.2 -0.3 1.8 -3.4 2.4 -6.9 5.5 -18.8 1.2 -2.5 1.2 -1.1 1.2 0.1 1.2 0.6 3.6 3.3 4.9 12 2.4 4 1.8 1.9 1.2 0.5 1.8 -0.4 3.1 -1.7 3.6 -3.4 1.8 -3.3 4.2 -11.9 6.1 -21.2 4.2 -13.2 2.4 -5.2 1.2 -0.9 0.7 0 1.2 0.9 1.8 2.6 2.4 5 2.4 7.9 6.1 24.5 1.8 5 2.4 4.5 1.8 2.2 1.8 0.3 1.8 -1.3 3.1 -4.3 1.8 -1.7 1.8 -0.1 1.8 1.3 1.8 2.5 1.8 3.8 6.1 17.9 1.8 3.9 13.3 18.2 1.2 1.2 4.3 0.5 5.4 2 3.6 0.1 3.7 2.6 1.2 -0.5 2.4 -2.4 1.2 -0.3 3 1 3.6 2.9 1.3 -0.2 2.4 -1.5 1.2 -0.3 1.2 0.5 2.4 2 1.2 0.2 3.7 -0.8 3.6 1 3 -0.4 2.4 0.6 3.7 -1.7 1.2 0 4.2 1.7 4.2 2.2 1.2 0.2 1.3 -0.8 2.4 -3 1.8 -1.4 1.2 -0.3 2.4 0.5 1.8 -1 4.3 -4.3 3.6 -4.9 3.6 -3 3.7 -5.7 1.2 -1.3 3 -0.8 3 -1.9 1.2 -0.1 1.8 1.1 1.9 3.2 13.3 34.1 1.8 3.7 1.8 2 6 4.7 4.3 2.6 3 0.6 4.2 -0.2 4.3 2.7 4.2 1.5 6 5.3 4.3 0.6 7.2 3.9 2.5 0.4 3.6 -0.6 3 1.8 4.2 0.3 3.1 1.8 4.2 -0.1 4.2 2.2 1.2 0 1.3 -0.5 3 -3 2.4 -1.7 3 -2.9 1.8 -1 1.2 -0.1 2.5 0.5 1.8 1 6 6 2.4 1.9 4.3 0.4 3 2.3 1.2 0.2 1.2 -0.6 1.8 -1.8 3.7 -7.2 3 -4.2 3 -5.6 1.2 -1.3 1.2 -0.3 1.9 1 1.8 2.4 9 17.5 1.3 1 3 0.4 2.4 2 1.2 0.4 1.2 -0.6 1.8 -1.9 1.2 -0.5 4.3 1.1 6 -1.2 3 -0.1 3.1 1.7 1.2 0.2 4.2 -3.6 2.4 0 4.9 -1.3 3 0.5 3 -3.5 4.9 -1.8 2.4 1.5 6 6.5 3.1 1.2 3 2 1.2 0.3 4.8 0.2 3 -0.9 3.7 -0.4 4.8 -2.3 2.4 -2 1.2 -0.6 1.3 0.3 2.4 1.6 3 0 1.2 0.6 3.6 4.5 4.9 1.5 3 2.4 3.6 1.7 3.1 2.8 1.2 0.4 3 -0.6 3 1.3 1.2 -0.3 3.7 -3 2.4 -0.5 1.8 -0.9 5.4 -5.1 6.1 -3.8 1.8 -0.5 1.8 0.8 7.3 5.3 1.2 0 3 -1.4 5.4 -0.7 1.9 0.5 2.4 2.3 1.2 0.6 1.2 -0.4 3 -2 1.8 0 4.9 2 1.2 -0.3 2.4 -1.3 1.2 -0.2 3 1.5 3.7 0.8 3.6 2.6 2.4 0.1 3 1.2 2.5 -0.1 3 1.2 1.2 0.2 1.8 -0.6 4.2 -2.3 3.7 -0.3 3 -1.5 3 0.6 1.2 -0.5 4.9 -7.8 2.4 -2.3 3 -1.8 3.6 -5.6 1.2 -1 1.3 -0.4 1.8 0.7 3 2.5 3 0.2 1.2 0.9 4.9 8.9 3.6 3.1 3 4.3 1.8 1.8 1.2 0.6 4.9 0.5 4.2 0 6.7 2.9 3.6 -0.6 1.2 0.2 1.2 0.8 3.7 4 1.2 -0.1 3.6 -3.3 1.8 -0.8 1.2 0.2 3 3.1 3.1 1.7 3.6 0.4 2.4 0.7 4.9 -1.3 4.8 0.3 3 -0.7 1.2 0.2 3 1.8 3.7 -1.3 4.2 0.2 4.2 1.8 3.1 -1.7 2.4 -0.4 1.2 -0.7" stroke="#c8d040" stroke-width="2.1" fill="none" stroke-linejoin="round"/>
<path d="M170.6 1028.7l5.5 -8 1.8 -1.6 1.2 -0.2 0.6 0.3 1.8 2.8 3.1 9 1.8 7.4 5.4 30.1 3 13.2 4.3 13 1.8 2.7 1.2 0.3 1.2 -1 1.8 -3.6 5.5 -16.6 2.4 -5.4 5.4 -5.2 1.2 0.1 2.5 1.5 1.2 0.2 1.2 -0.9 1.2 -2.3 2.4 -7.8 2.4 -10.5 9.1 -47.7 2.4 -7.1 1.2 -1.6 1.2 0.1 1.8 3.6 2.5 10.2 11.5 68 1.8 6.2 3 7 2.4 3.8 2.4 2.3 1.9 0.9 1.2 0.1 4.2 -1.6 7.9 -9.3 3 -5.1 1.2 -0.9 0.6 0.1 2.4 2.6 3 5.6 4.9 13.9 4.8 12.3 1.8 3 4.3 4.5 1.2 0.7 3.6 0.2 6.7 3.2 6.6 0.3 6.1 2.6 3.6 -0.1 9.1 1.6 3 -0.5 3 1.8 3.6 -0.4 5.5 1.4 7.2 -1.1 3.1 -1.2 3.6 2.1 1.8 -0.4 1.2 -1.2 3.6 -5.7 1.3 -0.7 3 -0.3 1.2 -0.7 4.2 -5.1 3.7 -2.7 3.6 -4.1 2.4 -1.9 1.2 0 3.6 2.1 1.9 2.2 5.4 14.4 3.6 8.1 6.1 15.7 1.2 2.4 1.8 2.1 3 2.2 6.1 2.8 1.2 0.1 3 -1 1.8 -0.1 2.4 0.8 3.1 2.2 1.2 0.5 3 -1.5 1.8 0.1 6.1 3.9 3 0.9 3.6 2.8 3.6 0.9 9.1 3.5 4.3 3.4 3 -0.1 3 -0.7 1.2 0.1 7.3 5.8 4.8 -0.5 3 1.4 1.2 0 5.5 -2.1 1.2 -1.2 2.4 -3.9 1.2 -1.1 4.9 -0.9 1.8 0.4 1.8 1.1 5.4 6.1 1.2 0.8 2.5 1 2.4 -0.2 4.2 -1.6 4.9 -2.7 1.8 -2.6 4.2 -9.4 1.8 -2 1.2 -0.4 1.8 0.6 1.9 1.7 5.4 10.8 5.5 6.2 3.6 2.9 1.2 -0.1 3 -1.1 3 1 4.3 0.1 2.4 -2.2 1.2 -0.5 3.6 2.7 4.3 0.5 3 -0.7 2.4 0.6 7.3 -4 4.8 -0.6 6.1 -2.7 2.4 -0.3 1.8 0.2 1.2 0.7 3 2.9 9.1 6.4 1.2 0.2 3.6 -0.7 4.3 0.4 1.8 -0.5 3 -1.8 4.2 -3.7 3.1 0.4 2.4 -0.7 1.2 0.6 4.2 4.4 5.5 2.2 3.6 5.1 1.2 0.9 4.8 -0.5 1.9 0.7 3.6 2.3 4.2 -0.1 3.1 1.2 1.2 -0.4 1.2 -1.2 3.6 -6 1.8 -2 3.6 -1.6 3.1 -2.1 3.6 -0.9 3.6 1.6 3.1 0.7 2.4 1.5 1.2 0.1 2.4 -0.8 3.6 1.9 1.8 0.4 2.5 -0.3 8.4 -2.3 1.8 0.4 4.3 2 4.2 -1 4.2 1.2 3.7 -1.1 1.2 0 1.8 1.1 3.6 3.9 1.8 0.6 3.1 -1.5 3 -0.1 2.4 -1.3 4.9 -3.3 3 -3.4 4.2 -3.4 4.2 -4.7 3.7 -1.1 3 -1.5 1.2 0.3 4.8 2.9 6.7 9.8 4.2 2.8 3.7 4 5.4 5 1.2 0.6 1.8 -0.1 3.1 -0.9 3.6 1 3.6 -1.7 3.6 2 4.9 -1 3.6 2.5 3.6 0.8 1.9 -0.4 2.4 -1.5 1.2 -0.3 1.2 0.4 6 4.4 2.5 0.8 1.8 -0.3 3.6 -1.5 3.6 0.2 3.7 0.9 4.2 -1.2 1.8 0.5 3 2.2 1.2 0.5 1.3 -0.3 1.8 -1.5 1.2 -0.4 2.4 1 3.6 0 4.3 1.4 4.8 -2.2" stroke="#98d048" stroke-width="2.1" fill="none" stroke-linejoin="round"/>
<path d="M170.6 1026.6l1.9 -2.1 3.6 -7.3 1.8 -2 1.2 -0.3 1.2 0.6 1.8 2.8 1.2 3.5 1.9 7.6 10.2 53 3.1 9.1 1.2 2.2 1.2 1 0.6 0 1.2 -1.2 1.8 -3.7 5.5 -17.4 6.6 -16.2 1.2 -2.1 3 -3.2 1.9 -2.9 8.4 -22.1 1.2 -1.6 1.9 -0.2 2.4 2.3 2.4 5.3 2.4 8.9 4.8 21.2 6.7 20.9 1.8 3.8 4.2 5.4 3.1 0.3 3.6 3.3 1.2 0.6 4.2 -0.9 3.7 -2.4 3.6 -0.9 2.4 -2.5 4.3 -7.1 4.8 -5.7 1.2 -0.9 0.6 0 1.8 2.5 10.9 30.6 1.8 3.4 3.1 2.1 4.2 1.4 1.2 0.1 3 -1 3.6 1.4 3.1 -0.5 3 2.4 3.6 0 2.4 0.6 4.9 3.1 1.8 0.6 7.3 -1.4 6.6 -0.1 1.2 0.2 2.4 2.1 1.3 0.6 7.8 -3.4 4.2 0.4 2.5 -1.8 3.6 -4.2 4.2 -2.3 3.7 -4.5 3 -1 4.2 -2.9 1.2 -0.3 1.8 0.3 2.5 1.6 1.8 3.4 7.8 21.5 5.5 13.4 2.4 3.9 3.6 3.8 3.7 2.3 3.6 1.2 3 2.1 9.1 -1.6 1.8 0.6 3 1.9 1.8 0.3 4.9 -1.5 3 2.1 3 0.8 3.1 3.1 1.2 0.3 2.4 -1 1.2 0.1 6 5.2 3.7 0.7 3 1.6 6 2.1 3.7 0.6 4.2 3 8.5 0.3 3.6 1.6 3 -0.2 3.1 0.5 1.8 -0.1 2.4 -1.2 4.2 -5.1 5.5 -2.6 1.2 -0.2 1.8 0.7 3.6 3.4 2.4 1.3 4.3 5.9 1.8 1.5 1.2 0.1 1.2 -0.9 2.4 -2.8 3 -2.1 1.9 -1.8 7.2 -12.6 0.6 -0.7 1.2 -0.4 3.1 1.9 1.8 2.1 7.8 14.6 1.9 2.2 1.2 0.6 3.6 -1 4.2 2.2 5.5 -0.3 4.2 1.4 4.8 -2 3.1 -0.8 1.8 0 3.6 1 3.6 0.3 1.9 -0.7 3.6 -3.7 1.8 -1.1 3.6 0.8 3 -1 4.9 -0.2 4.8 2.1 5.5 7.1 1.2 0.5 2.4 -0.4 2.4 0.9 5.5 -1.2 6 -4.3 6.7 -1 6.6 2.2 4.3 3.8 3.6 1.4 3 3.4 4.2 1 4.3 4.2 1.8 0.9 3.6 -2.1 4.3 -1.6 3 -2.7 4.2 -2.4 3 -0.9 3.1 -2.9 2.4 -1.2 2.4 -2.2 1.2 -0.6 5.5 1.1 4.8 3.5 3.6 -0.4 4.3 1.7 3 -1.1 2.4 0 3 -1.4 4.9 -1.3 6 -0.2 3 1.1 6.1 1.1 1.2 -0.5 4.8 -4.2 1.2 0 2.5 0.9 1.2 -0.4 4.8 -3.2 3.6 -1.7 5.5 -5.5 3 -0.7 3.6 1.3 4.9 3.8 9 14 1.9 2 3.6 2.2 4.2 1.1 3.7 2.1 4.2 -1.4 1.8 0.3 2.4 0.9 3.6 -0.6 3.7 0.7 3.6 -1.3 3 1.2 3.1 -0.2 4.8 1 6.6 -0.1 4.3 2.6 3.6 0.5 4.2 2.9 4.3 0.1 3 1.4 3.6 -1.2 2.5 0.4 9 -0.3 3.7 1.2 4.8 -2.1 10.3 0.3 1.8 -0.9 1.2 -1.3" stroke="#70d070" stroke-width="2.1" fill="none" stroke-linejoin="round"/>
<path d="M170.6 1024.5l1.9 -2.7 3.6 -7.6 1.8 -2.1 0.6 0.1 1.2 1.2 3 6 3.1 9.7 6.6 34.2 3 13.7 3.1 10.3 1.8 2.8 1.2 -0.3 1.8 -4 9.1 -35.2 3.6 -7.5 1.2 -1.6 1.2 -0.4 1.8 1.5 3.1 6.1 5.4 15.3 7.3 18.7 5.4 8.7 1.8 2.2 1.8 1.3 1.9 0.6 2.4 -0.2 3 0.3 3.6 -0.8 3.7 -0.2 3.6 0.8 4.8 -1 5.5 -3.4 8.4 -3.2 4.9 -10 1.8 -2 1.2 -0.3 1.2 0.7 1.2 1.7 3.6 7.4 2.5 6.5 4.8 15.6 1.2 2.6 1.2 1.4 3.7 1.6 3 0.3 3.6 1.3 4.2 -2 3.7 -0.1 1.8 0.8 3 2.4 1.2 0.5 4.3 -1.1 3 -0.1 7.2 2.9 1.2 -0.3 4.9 -2.6 1.2 0.2 2.4 2 1.2 0.3 3.7 -1.8 8.4 0.6 3.6 -1.6 1.9 0.2 4.2 3.4 4.8 2 1.2 1.4 9.1 18.8 3 4.2 4.3 7 1.2 1.1 1.2 0.5 3.6 -0.2 4.9 3.4 2.4 1 1.8 0 4.2 -1.8 1.8 0.5 2.5 2.4 1.2 0.6 3 -1.9 4.2 -0.3 4.3 1.4 6 -0.9 3.6 0 3.1 0.6 3 -0.3 12.1 4.3 3.6 2.5 2.4 0.7 3.1 1.9 2.4 0.6 4.8 5.3 1.2 0.2 1.8 -0.8 1.3 -0.1 3 2 1.8 0.7 12.7 0.5 4.2 2.3 1.2 -0.1 4.9 -1.8 1.8 -1.9 3 -4.2 0.6 -0.5 1.2 -0.2 8.5 3.3 2.4 2.2 3.6 4.6 1.9 1 4.8 -1.6 3.6 0.5 1.2 -0.6 1.3 -1.6 3.6 -6.8 3.6 -8.3 2.4 -2.5 1.8 -0.5 1.9 2 4.8 10.9 5.4 7.1 1.9 1.3 3 0.7 4.8 1.9 3 2.2 1.3 -0.1 3.6 -2.4 3.6 -1 1.8 0.1 3.7 1.5 3 -1 3 0.3 3.6 -3 3.7 0.6 5.4 -2.9 4.2 -1.1 3.1 -1.6 1.8 -0.2 1.8 0.8 3 4.3 1.8 1.9 10.3 4.6 2.4 0.2 5.5 -1.8 3 0.5 1.2 -0.2 2.4 -1.4 3.1 -2.7 1.8 -0.7 1.8 0.8 3.6 2.7 1.2 0.2 1.8 -0.6 1.2 0.3 3.1 4.4 2.4 1.9 3.6 1.3 3.6 -0.2 1.3 0.7 2.4 2.4 1.8 0.6 6 -0.5 3.1 -1.3 3 -2.3 4.8 -5.4 3.1 -1.4 3 -2 3 0.9 2.4 -0.4 1.8 0.1 5.5 2.4 3 -0.9 3.6 0.5 3.1 -1.8 3 0.6 2.4 -0.2 1.8 -0.7 3.6 -2.4 6.7 -1.4 3.6 -1.7 2.4 -0.3 2.5 -0.9 3.6 -0.4 5.4 -3.3 4.3 -1 3 -2.3 4.8 -1 5.5 1.3 1.8 1 7.9 12.1 4.2 5.2 4.2 3.3 3 3.2 5.5 4.3 1.2 -0.3 3 -3 1.2 -0.4 3.1 2.1 1.2 0.4 3 -0.4 3 -1.8 1.2 -0.2 3.1 3.1 1.2 0.6 4.2 -0.5 3.6 -1.9 2.4 -0.5 3.7 0.8 3.6 -0.2 1.2 0.2 3.6 2.5 3.1 1 3.6 2.6 1.2 0.4 4.8 -0.4 6.1 1.4 3.6 -0.8 5.5 1 3 -0.6 3.6 2 1.2 0.3 3.7 -1.3 4.8 -1.1 6.7 0.7 3 -0.7 1.2 0.3 1.8 1.5" stroke="#60d0d0" stroke-width="2.1" fill="none" stroke-linejoin="round"/>
<path d="M170.6 1020.7l1.9 -2 3.6 -6.4 1.8 -2 1.8 -0.2 1.8 2.3 1.8 4.8 2.5 8.8 4.2 21.9 2.4 10.2 5.5 17.6 2.4 5.5 1.2 0.8 1.2 -0.8 6 -9.1 3.1 -2.9 1.8 -0.9 1.2 0.5 2.4 3.1 3.6 7.3 4.3 12.1 1.8 4 4.8 7 3.1 3.1 2.4 3.4 1.2 1 3 0.8 3.6 2.5 3.1 1.2 3 2 2.4 0.9 4.2 4.7 4.9 2.1 3 0.6 3.6 2.5 1.2 -0.2 3.1 -2 2.4 -2.5 7.8 -17.6 4.9 -14.2 1.2 -2 1.2 -0.6 1.8 1.3 3 4.4 7.3 14.4 4.2 4.5 3.7 5.1 3 2.7 3.6 4.7 1.2 0.1 0.6 -0.4 3.7 -4.3 4.8 -0.8 4.8 -2.3 4.3 -3.4 6 -2.6 1.2 0 4.3 1.9 1.8 -0.3 2.4 -1.1 1.8 0.1 3 1.2 3.7 3.8 3 0.9 4.2 2.2 6.1 7.8 4.8 3.5 5.5 7.2 4.8 3.1 4.2 5.4 1.8 0.7 3.1 -0.6 1.2 0.4 9.1 9.2 3.6 1.5 3 2.2 1.8 0.1 4.9 -2.2 4.2 -0.1 1.8 -1.2 4.8 -4.9 1.9 -1.1 1.8 -0.1 6.6 2.6 4.9 5.2 2.4 1.6 1.8 0.6 3.6 -0.6 3.1 1.7 2.4 0.5 1.2 0.8 3.6 3.7 9.7 2.3 3.6 2.7 3 1 2.5 2 1.2 0.6 2.4 -0.2 3 0.5 3.6 -0.4 3.7 1.5 3.6 0.1 4.2 1.4 1.3 -0.5 1.8 -1.4 7.2 -7 3 -1.9 1.9 -0.3 1.8 1.2 9 9.1 5.5 3.1 1.2 0.1 1.2 -0.7 3 -3 3.1 -2.1 3.6 -6.4 2.4 -2.6 3 -4.5 1.2 -0.7 1.9 0.9 3.6 4.3 5.4 10.2 1.8 2.6 1.9 1 4.2 0.6 3.6 2.2 2.4 0.9 1.3 0.1 3.6 -1.4 3.6 -0.5 7.9 1.9 3.6 -2.7 1.2 -0.1 4.2 0.9 1.3 -0.5 5.4 -3.8 3.6 -3.2 2.4 -0.5 6.7 4.7 2.4 2.2 3 1 1.9 1.7 2.4 1.1 3.6 2.7 1.8 0.2 3.7 -0.5 4.8 -2.2 4.2 -3.4 6.1 -0.8 3.6 1.5 4.2 3.4 3.1 1.3 3 2.2 3 0.6 9.7 5.2 3 0.6 5.5 -2.3 6 -3.5 5.4 -6.2 5.5 -3.2 1.8 -0.3 1.8 0.3 4.9 2.8 1.2 0 3 -1.2 3.6 0.7 1.8 -0.9 6.1 -4.5 1.2 -0.1 2.4 1.4 1.2 -0.2 3 -4 1.3 -0.8 2.4 -0.4 3.6 -1.3 3.6 1 1.9 0 1.8 -0.9 2.4 -1.9 1.8 -0.6 1.2 0.3 6.7 4.3 7.8 3.1 4.3 5.2 4.2 3 7.9 7.1 1.2 0.2 3 -1.1 3.6 3 5.5 2.2 1.2 -0.3 2.4 -2 1.2 -0.2 2.4 0.2 5.5 2.8 1.2 0.2 2.4 -0.9 3.6 0.1 5.5 -1.4 3.6 1.3 3.6 -1.3 4.3 0.5 3 -0.6 1.2 0.5 2.4 2.1 4.9 2.6 1.2 0.1 4.2 -1.2 4.2 1.8 4.3 1.1 4.8 -0.3 3.6 1.6 3.1 -0.1 5.4 0.8 1.2 -0.3 3 -1.8 1.2 0.3 2.5 1.7 1.2 0.4 4.2 -1.6 1.2 0.1 3 1.3 1.9 0.1 2.4 -0.8 3 -2.7" stroke="#3c6ee0" stroke-width="2.1" fill="none" stroke-linejoin="round"/>
<path d="M170.6 978.8l1.2 -1.1 1.9 -0.2 1.2 0.6 1.8 2 6 11.1 3.1 8.7 2.4 13 7.8 55.7 2.5 12.5 1.8 5.4 1.2 1.2 0.6 0 1.2 -1 2.4 -4 3 -8.2 1.3 -2.4 1.2 -1.3 1.8 -1.2 1.8 0.2 1.2 1.5 6.1 12.4 6 14.3 4.2 6.1 3.1 1.8 3 2.4 3.6 -0.9 3 3.7 1.2 0.8 6.7 1.1 4.2 3 3.1 -0.5 2.4 0.6 1.8 1.1 3 2.7 1.8 1 1.8 -0.1 1.9 -0.7 2.4 -2.4 7.2 -11.9 4.9 -14.2 3 -3.7 1.8 -1.2 0.6 0.3 1.2 1.7 4.9 11.4 5.4 10.1 2.4 3 4.3 2.6 5.4 6.4 1.2 1 3 0.6 2.5 -0.6 11.5 -9.3 3 -1.3 7.8 0 3.7 -1 3 0.5 3 1.3 3 0 3.7 2.4 4.8 6 9.1 8.6 1.2 0.8 3 0.1 1.8 1.1 5.5 5.9 3.6 5.2 7.3 4.4 7.8 6.5 1.2 0.3 1.9 -0.5 1.2 0.3 4.2 4 4.8 1.2 5.5 -0.6 3 -1.9 4.8 -4.8 3.7 -1.3 1.8 -0.1 4.8 2.4 5.5 5.4 5.4 2.8 7.9 1.3 5.4 4.1 4.9 2.5 1.8 0.4 2.4 -0.5 1.2 0.1 5.4 1.8 4.9 3.2 4.2 0 2.4 0.6 3.7 2.5 4.2 -1.2 3.6 0.3 3.1 0.9 1.2 -0.1 2.4 -1.8 4.8 -5.7 1.8 -1 1.2 -0.1 3.1 1.3 7.2 8.2 1.8 1.4 1.9 0.3 3.6 -0.6 2.4 0 1.2 -0.6 3 -2.9 3.1 -1.8 1.8 -2.8 3.6 -7.4 1.8 -1.9 2.4 -0.5 1.9 0.7 1.8 2.1 5.4 10 1.8 2.5 3.7 2.1 3.6 2.9 6 2.2 2.5 0 3 -2.1 1.2 -0.4 4.2 1 5.5 -1.2 1.2 0.3 3 2.5 1.2 0.3 7.3 -5.9 2.4 -0.7 3.6 0 3 -1 5.5 1.7 3.6 2.2 4.3 3.4 3 0.3 4.8 1.2 3.6 -0.8 4.3 -2.9 3.6 -0.1 5.5 -2.2 1.8 -0.2 1.2 0.5 3.6 2.9 3.6 1.3 2.5 1.4 4.2 3.9 7.8 2.1 4.9 3.2 1.8 0.4 7.3 -3.2 4.8 -4.5 3.6 -1.4 1.2 -1.4 2.5 -4.2 1.2 -1 3.6 0.5 3.6 -1.7 3.7 1.6 3 -1.5 4.8 -0.5 4.9 -2.8 5.4 -6.4 4.2 -2.3 3.1 -1.1 4.8 -3.7 3 -1.3 3 1.1 3.1 0.5 3.6 2.1 3 1 6.1 9 3 6.2 3 2.2 3.7 5.8 1.2 1.1 2.4 0.6 1.2 0.7 4.8 5.2 1.2 0.7 3.1 0 4.2 -3.3 1.2 0.2 3.6 1.8 4.3 0.8 4.2 -0.3 3 0.9 4.3 -1 3 0.6 3 1.2 3 -0.5 3.1 0.7 1.8 -0.6 3.6 -2.3 6.7 1.9 5.4 -1.8 4.2 2.2 8.5 1.5 4.2 2.9 2.5 2.2 1.2 0.5 3 -1.1 2.4 0.3 3 -1.4 4.9 1.6 3 -0.8 4.2 1.2 4.3 -0.4 3 0.4 3 -0.4 3 0.3 5.5 -0.9 2.4 0.8" stroke="#3030c0" stroke-width="2.1" fill="none" stroke-linejoin="round"/>
<path d="M170.6 963.2l1.2 -1.1 1.3 -0.3 1.2 0.7 3.6 3.8 4.2 5.7 1.2 2.7 1.3 4.3 3.6 23 8.4 68.1 2.5 13.7 1.8 4.7 1.2 0.7 1.8 -2 4.8 -11.5 2.5 -4.6 1.2 -1.2 1.8 0.1 2.4 2.4 1.8 3.2 8.5 20.7 1.8 3.4 1.2 1.3 3 2 3.7 3.7 3.6 3 6.7 1.7 3 0.1 1.2 0.9 3 3.7 3 0 3.7 2.8 6 1.4 3.6 2 1.3 -0.3 1.2 -1.1 7.2 -8.9 1.8 -3.6 3.7 -11.1 1.8 -4.3 3 -4.1 1.2 -0.9 1.2 -0.3 0.6 0.3 1.2 1.9 3.7 8.8 6 11.3 7.3 8.8 4.8 3.3 4.8 0.5 1.3 -0.3 4.2 -3 5.4 -5.3 1.2 -0.5 3.1 0.5 4.2 -2.5 4.2 -0.4 6.1 2.3 3 -0.7 1.2 0.2 3.7 1.4 3 1.9 4.8 6 4.9 1.6 4.8 7.4 3.6 3.2 6.1 4 3.6 4.6 3 0.4 4.3 2.3 1.2 0.9 3 4.3 1.2 1 1.2 0.3 2.4 -0.5 1.2 0.3 3.7 3.5 1.8 1.2 3 0.4 3.6 1.5 4.3 0 1.8 -0.8 3.6 -3.4 5.5 -0.5 4.2 -1.9 1.2 0.5 3 2.6 2.4 0 1.3 0.6 5.4 5.9 1.2 0.4 3 -0.2 4.3 1.7 3.6 2.8 3.6 1.6 4.3 2.6 1.8 0.5 3.6 0 3 1.5 3.1 -0.5 4.2 3 5.4 0.3 4.9 2.4 3 -0.8 3 1.7 1.2 0.1 3.1 -1.6 3.6 -0.7 3 -2.6 4.8 -6.1 1.3 -0.6 1.2 0.4 1.2 1 6 6 3.6 4.5 1.3 0.5 5.4 0.2 3.6 -2 4.3 -3.5 1.8 -2.5 4.2 -8.5 1.8 -1.8 2.4 -0.9 1.3 0.5 1.8 2.4 9.7 17.2 1.2 1.3 1.2 0.5 3 -0.2 3 1.3 3.6 -1.6 2.5 1.4 1.2 0.2 6 -3.2 1.2 -0.3 5.5 1 9.7 0.3 1.8 -0.8 6.6 -5.9 2.4 -0.7 2.5 1 3 3 3.6 1.1 5.5 5.6 6.6 1.6 3.6 1.7 1.3 -0.1 1.2 -0.7 4.8 -5.6 2.4 -2.3 1.8 -1 1.2 0.1 6.1 3.4 4.8 4 3.1 3.3 1.2 0.8 1.2 0.1 3 -1.4 1.8 0 2.4 1.4 3.7 3.6 4.2 1.1 5.4 -1.4 8.5 -5.6 5.5 -4.9 3.6 -2.1 3 -2.6 1.2 -0.4 4.3 0.4 4.2 -1 4.8 -2.1 6.1 -4.1 4.2 -4.4 4.8 -4.1 3.7 -1.2 3 -2.6 1.8 -0.2 7.3 2.5 2.4 2 2.4 3.2 6.7 12 9 10.2 4.3 1.9 4.8 3.1 3.6 0.3 3.1 1.9 7.2 -1.5 3.6 1.8 7.3 0.4 3.6 -0.9 3.7 1.9 7.2 -2.9 5.5 1.8 1.2 0 3.6 -1.2 3.6 1.2 3.7 -0.2 3 0.5 4.8 3.3 3.1 -0.2 2.4 0.5 3.6 -1 3 0.4 1.8 1.1 3.1 3.1 1.8 0.5 6 0.1 6.1 -1.9 1.8 0.5 3 1.6 3.6 -1.3 3.7 0.8 4.2 -2.1 1.8 -0.5 1.2 0.2 3.7 2.1 4.8 -0.8" stroke="#a028d8" stroke-width="2.1" fill="none" stroke-linejoin="round"/>
<path d="M170.6 962.5l3.7 -3.5 1.2 -0.1 1.2 0.8 6.6 13.2 1.9 6 2.4 15.1 5.4 49.8 2.4 19 3.1 18.7 1.2 5.2 1.2 3 1.2 0.7 1.2 -1.2 3.6 -7.6 3.7 -9.6 1.2 -1.5 1.8 -0.1 3 2.4 1.8 2.4 7.3 17 6 9.2 3.1 2 4.2 3.9 4.8 2.1 3.1 2.2 4.2 0.3 6.6 4.4 3.1 0.7 6 2.3 3.6 2.6 1.9 -0.5 4.8 -4.7 2.4 -4.7 8.5 -19.6 1.8 -2.8 1.2 -0.5 1.8 0.8 2.4 3.4 2.5 4.8 4.2 10.3 1.8 3.2 3 2.6 3.1 3.7 3 2.9 1.8 1.2 5.4 2.4 1.9 -0.3 3.6 -3.7 3 -1.6 6.1 -4.1 4.2 -4.3 1.2 0 7.9 4 1.2 -0.2 5.4 -2.4 1.2 0 5.5 3.4 4.8 7.2 4.8 2.7 3.7 4.6 1.2 0.5 2.4 -0.2 1.2 0.8 1.8 2.5 3.1 5.7 2.4 3.2 1.2 0.6 2.4 0.2 3.6 2.6 3.7 1.7 14.5 10.2 4.2 0.8 3.6 2.3 1.3 0.2 2.4 -1.1 3.6 -0.8 3.6 -3.3 5.5 -2.6 2.4 -0.5 1.8 0.2 7.3 3.9 4.2 4.7 5.4 4.2 3.1 -0.4 3 0.6 5.4 -0.5 1.8 0.4 1.9 1.1 3.6 3.7 1.8 1.3 5.5 1.4 4.8 3.3 3 0.9 1.2 0 3.7 -1.5 1.2 0.3 3 2.4 1.2 0.4 7.9 -1.7 2.4 -1.2 6.6 -5.8 4.3 -1.4 1.8 1 5.4 6.2 1.8 1.4 6.1 2 1.8 0.1 1.2 -0.6 6.1 -5.1 7.8 -13.1 1.2 -1.3 1.2 -0.2 1.9 1 1.2 1.6 7.2 15.1 1.2 1.9 7.3 4 1.2 0 3 -1.2 3.1 -0.1 3 -1.2 1.8 -0.2 1.8 0.6 3 2.2 1.2 -0.1 1.9 -1.1 1.2 -0.2 2.4 2.5 1.2 0.5 3.6 -3.7 1.2 -0.3 1.8 0.3 1.3 -0.2 4.8 -4.3 3 -0.1 4.3 -1 4.2 2.1 3 2.3 3 1.8 3.7 3.6 1.2 0.4 3 -0.6 3.6 1.1 4.9 -1.6 3.6 -0.8 4.8 -4.7 4.9 -0.7 1.8 0.8 3 4.1 1.8 1.6 4.3 1.8 3 1.9 5.4 0.8 5.5 5.3 1.8 0.8 1.2 0.1 3.6 -0.5 1.8 -0.7 1.9 -1.5 3.6 -4.2 3.6 -0.1 1.2 -0.6 4.3 -6.3 1.8 -1.5 9.7 -2.6 6 -1.1 4.2 -4.4 3.7 -2.1 3 -4.3 0.6 -0.3 2.4 0.4 1.2 -0.3 6.1 -4.2 3.6 -1.7 1.2 -0.2 5.5 2.8 3.6 4.7 4.2 3 2.4 3 3.1 5.4 1.8 2.1 4.2 2.6 4.2 4.8 4.9 1.4 4.2 3.7 3.6 -0.2 2.5 1 5.4 1.4 3.6 0.4 3.1 -0.2 3.6 1.3 3.6 -1.2 1.8 -0.1 4.9 2.2 1.8 0.3 7.8 -3.2 3.7 1.4 3 -0.5 4.2 0.6 3.7 -0.9 7.8 2.3 3.7 -0.8 4.2 1.7 4.2 3.1 1.8 -0.1 3.7 -1.7 1.2 0.2 3.6 4.1 2.4 0.9 1.8 -0.7 3.1 -2.7 1.2 -0.2 1.8 0.6 3.6 2.2 1.2 0 3.1 -1.3 1.8 -0.1 3.6 0.8 3.6 1.7 1.8 0.3 3.1 -0.9 4.2 -3.1" stroke="#d02080" stroke-width="2.1" fill="none" stroke-linejoin="round"/>
<rect x="66.0" y="12.8" width="846.8" height="573.8" fill="none" stroke="#1a1a1a" stroke-width="2.2"/>
<rect x="66.0" y="641.2" width="846.8" height="574.1" fill="none" stroke="#1a1a1a" stroke-width="2.2"/>
<text x="66.0" y="612.0" font-size="24.5" fill="#1a1a1a" text-anchor="middle">40</text>
<line x1="207.1" y1="12.8" x2="207.1" y2="19.8" stroke="#333" stroke-width="1.3"/>
<line x1="207.1" y1="586.6" x2="207.1" y2="579.6" stroke="#333" stroke-width="1.3"/>
<text x="207.1" y="612.0" font-size="24.5" fill="#1a1a1a" text-anchor="middle">60</text>
<line x1="348.3" y1="12.8" x2="348.3" y2="19.8" stroke="#333" stroke-width="1.3"/>
<line x1="348.3" y1="586.6" x2="348.3" y2="579.6" stroke="#333" stroke-width="1.3"/>
<text x="348.3" y="612.0" font-size="24.5" fill="#1a1a1a" text-anchor="middle">80</text>
<line x1="489.4" y1="12.8" x2="489.4" y2="19.8" stroke="#333" stroke-width="1.3"/>
<line x1="489.4" y1="586.6" x2="489.4" y2="579.6" stroke="#333" stroke-width="1.3"/>
<text x="489.4" y="612.0" font-size="24.5" fill="#1a1a1a" text-anchor="middle">100</text>
<line x1="630.5" y1="12.8" x2="630.5" y2="19.8" stroke="#333" stroke-width="1.3"/>
<line x1="630.5" y1="586.6" x2="630.5" y2="579.6" stroke="#333" stroke-width="1.3"/>
<text x="630.5" y="612.0" font-size="24.5" fill="#1a1a1a" text-anchor="middle">120</text>
<line x1="771.7" y1="12.8" x2="771.7" y2="19.8" stroke="#333" stroke-width="1.3"/>
<line x1="771.7" y1="586.6" x2="771.7" y2="579.6" stroke="#333" stroke-width="1.3"/>
<text x="771.7" y="612.0" font-size="24.5" fill="#1a1a1a" text-anchor="middle">140</text>
<text x="912.8" y="612.0" font-size="24.5" fill="#1a1a1a" text-anchor="middle">160</text>
<text x="57.0" y="594.1" font-size="24.5" fill="#1a1a1a" text-anchor="end">0</text>
<line x1="66.0" y1="471.8" x2="73.0" y2="471.8" stroke="#333" stroke-width="1.3"/>
<line x1="912.8" y1="471.8" x2="905.8" y2="471.8" stroke="#333" stroke-width="1.3"/>
<text x="57.0" y="479.3" font-size="24.5" fill="#1a1a1a" text-anchor="end">500</text>
<line x1="66.0" y1="357.1" x2="73.0" y2="357.1" stroke="#333" stroke-width="1.3"/>
<line x1="912.8" y1="357.1" x2="905.8" y2="357.1" stroke="#333" stroke-width="1.3"/>
<text x="57.0" y="364.6" font-size="24.5" fill="#1a1a1a" text-anchor="end" textLength="56" lengthAdjust="spacingAndGlyphs">1000</text>
<line x1="66.0" y1="242.3" x2="73.0" y2="242.3" stroke="#333" stroke-width="1.3"/>
<line x1="912.8" y1="242.3" x2="905.8" y2="242.3" stroke="#333" stroke-width="1.3"/>
<text x="57.0" y="249.8" font-size="24.5" fill="#1a1a1a" text-anchor="end" textLength="56" lengthAdjust="spacingAndGlyphs">1500</text>
<line x1="66.0" y1="127.6" x2="73.0" y2="127.6" stroke="#333" stroke-width="1.3"/>
<line x1="912.8" y1="127.6" x2="905.8" y2="127.6" stroke="#333" stroke-width="1.3"/>
<text x="57.0" y="135.1" font-size="24.5" fill="#1a1a1a" text-anchor="end" textLength="56" lengthAdjust="spacingAndGlyphs">2000</text>
<text x="57.0" y="20.3" font-size="24.5" fill="#1a1a1a" text-anchor="end" textLength="56" lengthAdjust="spacingAndGlyphs">2500</text>
<text x="66.0" y="1241.0" font-size="24.5" fill="#1a1a1a" text-anchor="middle">80</text>
<line x1="187.0" y1="641.2" x2="187.0" y2="648.2" stroke="#333" stroke-width="1.3"/>
<line x1="187.0" y1="1215.3" x2="187.0" y2="1208.3" stroke="#333" stroke-width="1.3"/>
<text x="187.0" y="1241.0" font-size="24.5" fill="#1a1a1a" text-anchor="middle">90</text>
<line x1="307.9" y1="641.2" x2="307.9" y2="648.2" stroke="#333" stroke-width="1.3"/>
<line x1="307.9" y1="1215.3" x2="307.9" y2="1208.3" stroke="#333" stroke-width="1.3"/>
<text x="307.9" y="1241.0" font-size="24.5" fill="#1a1a1a" text-anchor="middle">100</text>
<line x1="428.9" y1="641.2" x2="428.9" y2="648.2" stroke="#333" stroke-width="1.3"/>
<line x1="428.9" y1="1215.3" x2="428.9" y2="1208.3" stroke="#333" stroke-width="1.3"/>
<text x="428.9" y="1241.0" font-size="24.5" fill="#1a1a1a" text-anchor="middle">110</text>
<line x1="549.9" y1="641.2" x2="549.9" y2="648.2" stroke="#333" stroke-width="1.3"/>
<line x1="549.9" y1="1215.3" x2="549.9" y2="1208.3" stroke="#333" stroke-width="1.3"/>
<text x="549.9" y="1241.0" font-size="24.5" fill="#1a1a1a" text-anchor="middle">120</text>
<line x1="670.9" y1="641.2" x2="670.9" y2="648.2" stroke="#333" stroke-width="1.3"/>
<line x1="670.9" y1="1215.3" x2="670.9" y2="1208.3" stroke="#333" stroke-width="1.3"/>
<text x="670.9" y="1241.0" font-size="24.5" fill="#1a1a1a" text-anchor="middle">130</text>
<line x1="791.8" y1="641.2" x2="791.8" y2="648.2" stroke="#333" stroke-width="1.3"/>
<line x1="791.8" y1="1215.3" x2="791.8" y2="1208.3" stroke="#333" stroke-width="1.3"/>
<text x="791.8" y="1241.0" font-size="24.5" fill="#1a1a1a" text-anchor="middle">140</text>
<text x="912.8" y="1241.0" font-size="24.5" fill="#1a1a1a" text-anchor="middle">150</text>
<text x="57.0" y="1222.5" font-size="24.5" fill="#1a1a1a" text-anchor="end">0</text>
<line x1="66.0" y1="1110.9" x2="73.0" y2="1110.9" stroke="#333" stroke-width="1.3"/>
<line x1="912.8" y1="1110.9" x2="905.8" y2="1110.9" stroke="#333" stroke-width="1.3"/>
<text x="57.0" y="1118.1" font-size="24.5" fill="#1a1a1a" text-anchor="end">100</text>
<line x1="66.0" y1="1006.5" x2="73.0" y2="1006.5" stroke="#333" stroke-width="1.3"/>
<line x1="912.8" y1="1006.5" x2="905.8" y2="1006.5" stroke="#333" stroke-width="1.3"/>
<text x="57.0" y="1013.7" font-size="24.5" fill="#1a1a1a" text-anchor="end">200</text>
<line x1="66.0" y1="902.2" x2="73.0" y2="902.2" stroke="#333" stroke-width="1.3"/>
<line x1="912.8" y1="902.2" x2="905.8" y2="902.2" stroke="#333" stroke-width="1.3"/>
<text x="57.0" y="909.4" font-size="24.5" fill="#1a1a1a" text-anchor="end">300</text>
<line x1="66.0" y1="797.8" x2="73.0" y2="797.8" stroke="#333" stroke-width="1.3"/>
<line x1="912.8" y1="797.8" x2="905.8" y2="797.8" stroke="#333" stroke-width="1.3"/>
<text x="57.0" y="805.0" font-size="24.5" fill="#1a1a1a" text-anchor="end">400</text>
<line x1="66.0" y1="693.4" x2="73.0" y2="693.4" stroke="#333" stroke-width="1.3"/>
<line x1="912.8" y1="693.4" x2="905.8" y2="693.4" stroke="#333" stroke-width="1.3"/>
<text x="57.0" y="700.6" font-size="24.5" fill="#1a1a1a" text-anchor="end">500</text>
<text x="489.5" y="1271.0" font-size="24.5" fill="#1a1a1a" text-anchor="middle" textLength="144" lengthAdjust="spacingAndGlyphs">energy (keV)</text>
<text x="83.0" y="53.0" font-size="27.5" fill="#111" text-anchor="start" font-weight="bold" textLength="31" lengthAdjust="spacingAndGlyphs">(a)</text>
<text x="81.5" y="677.5" font-size="27" fill="#111" text-anchor="start" font-weight="bold" textLength="32" lengthAdjust="spacingAndGlyphs">(b)</text>
<text x="657.5" y="42.4" font-size="18.2" fill="#111" text-anchor="start" font-weight="bold" textLength="240" lengthAdjust="spacingAndGlyphs">Electron equivalents (x):</text>
<line x1="602.5" y1="61.0" x2="622.5" y2="61.0" stroke="#cc2a2a" stroke-width="2.0"/>
<text x="630.5" y="65.6" font-size="14.5" fill="#222" text-anchor="start">0</text>
<line x1="602.5" y1="80.6" x2="622.5" y2="80.6" stroke="#dd6428" stroke-width="2.0"/>
<text x="630.5" y="85.2" font-size="14.5" fill="#222" text-anchor="start">0.08</text>
<line x1="602.5" y1="100.2" x2="622.5" y2="100.2" stroke="#e0a030" stroke-width="2.0"/>
<text x="630.5" y="104.8" font-size="14.5" fill="#222" text-anchor="start">0.21</text>
<line x1="602.5" y1="119.8" x2="622.5" y2="119.8" stroke="#d8d02c" stroke-width="2.0"/>
<text x="630.5" y="124.4" font-size="14.5" fill="#222" text-anchor="start">0.34</text>
<line x1="682.5" y1="61.0" x2="702.5" y2="61.0" stroke="#b0d838" stroke-width="2.0"/>
<text x="710.5" y="65.6" font-size="14.5" fill="#222" text-anchor="start">0.51</text>
<line x1="682.5" y1="80.6" x2="702.5" y2="80.6" stroke="#80d040" stroke-width="2.0"/>
<text x="710.5" y="85.2" font-size="14.5" fill="#222" text-anchor="start">0.64</text>
<line x1="682.5" y1="100.2" x2="702.5" y2="100.2" stroke="#58cc58" stroke-width="2.0"/>
<text x="710.5" y="104.8" font-size="14.5" fill="#222" text-anchor="start">0.81</text>
<line x1="682.5" y1="119.8" x2="702.5" y2="119.8" stroke="#58d0a0" stroke-width="2.0"/>
<text x="710.5" y="124.4" font-size="14.5" fill="#222" text-anchor="start">0.93</text>
<line x1="762.5" y1="61.0" x2="782.5" y2="61.0" stroke="#68d0d8" stroke-width="2.0"/>
<text x="790.5" y="65.6" font-size="14.5" fill="#222" text-anchor="start">1.05</text>
<line x1="762.5" y1="80.6" x2="782.5" y2="80.6" stroke="#4898e0" stroke-width="2.0"/>
<text x="790.5" y="85.2" font-size="14.5" fill="#222" text-anchor="start">1.20</text>
<line x1="762.5" y1="100.2" x2="782.5" y2="100.2" stroke="#3060d8" stroke-width="2.0"/>
<text x="790.5" y="104.8" font-size="14.5" fill="#222" text-anchor="start">1.37</text>
<line x1="762.5" y1="119.8" x2="782.5" y2="119.8" stroke="#2828c0" stroke-width="2.0"/>
<text x="790.5" y="124.4" font-size="14.5" fill="#222" text-anchor="start">1.50</text>
<line x1="842.5" y1="61.0" x2="862.5" y2="61.0" stroke="#6a28d0" stroke-width="2.0"/>
<text x="870.5" y="65.6" font-size="14.5" fill="#222" text-anchor="start">1.63</text>
<line x1="842.5" y1="80.6" x2="862.5" y2="80.6" stroke="#a820d0" stroke-width="2.0"/>
<text x="870.5" y="85.2" font-size="14.5" fill="#222" text-anchor="start">1.80</text>
<line x1="842.5" y1="100.2" x2="862.5" y2="100.2" stroke="#d020b8" stroke-width="2.0"/>
<text x="870.5" y="104.8" font-size="14.5" fill="#222" text-anchor="start">1.88</text>
<line x1="842.5" y1="119.8" x2="862.5" y2="119.8" stroke="#d02070" stroke-width="2.0"/>
<text x="870.5" y="124.4" font-size="14.5" fill="#222" text-anchor="start">1.96</text>
<line x1="542.0" y1="262.4" x2="561.0" y2="262.4" stroke="#cc2a2a" stroke-width="2.0"/>
<text x="567.0" y="267.0" font-size="14.5" fill="#222" text-anchor="start">0</text>
<line x1="542.0" y1="281.6" x2="561.0" y2="281.6" stroke="#dd6428" stroke-width="2.0"/>
<text x="567.0" y="286.2" font-size="14.5" fill="#222" text-anchor="start">0.09</text>
<line x1="542.0" y1="300.8" x2="561.0" y2="300.8" stroke="#e0a030" stroke-width="2.0"/>
<text x="567.0" y="305.4" font-size="14.5" fill="#222" text-anchor="start">0.23</text>
<line x1="614.0" y1="262.4" x2="633.0" y2="262.4" stroke="#c8d83a" stroke-width="2.0"/>
<text x="639.0" y="267.0" font-size="14.5" fill="#222" text-anchor="start">0.37</text>
<line x1="614.0" y1="281.6" x2="633.0" y2="281.6" stroke="#a0d840" stroke-width="2.0"/>
<text x="639.0" y="286.2" font-size="14.5" fill="#222" text-anchor="start">0.52</text>
<line x1="614.0" y1="300.8" x2="633.0" y2="300.8" stroke="#78d040" stroke-width="2.0"/>
<text x="639.0" y="305.4" font-size="14.5" fill="#222" text-anchor="start">0.67</text>
<line x1="687.5" y1="262.4" x2="706.5" y2="262.4" stroke="#58cc70" stroke-width="2.0"/>
<text x="712.5" y="267.0" font-size="14.5" fill="#222" text-anchor="start">0.81</text>
<line x1="687.5" y1="281.6" x2="706.5" y2="281.6" stroke="#58d0b0" stroke-width="2.0"/>
<text x="712.5" y="286.2" font-size="14.5" fill="#222" text-anchor="start">0.95</text>
<line x1="687.5" y1="300.8" x2="706.5" y2="300.8" stroke="#60b8e0" stroke-width="2.0"/>
<text x="712.5" y="305.4" font-size="14.5" fill="#222" text-anchor="start">1.10</text>
<line x1="763.5" y1="262.4" x2="782.5" y2="262.4" stroke="#4080e0" stroke-width="2.0"/>
<text x="788.5" y="267.0" font-size="14.5" fill="#222" text-anchor="start">1.24</text>
<line x1="763.5" y1="281.6" x2="782.5" y2="281.6" stroke="#2840c8" stroke-width="2.0"/>
<text x="788.5" y="286.2" font-size="14.5" fill="#222" text-anchor="start">1.39</text>
<line x1="763.5" y1="300.8" x2="782.5" y2="300.8" stroke="#5a28d0" stroke-width="2.0"/>
<text x="788.5" y="305.4" font-size="14.5" fill="#222" text-anchor="start">1.52</text>
<line x1="845.5" y1="262.4" x2="864.5" y2="262.4" stroke="#9a20d0" stroke-width="2.0"/>
<text x="870.5" y="267.0" font-size="14.5" fill="#222" text-anchor="start">1.67</text>
<line x1="845.5" y1="281.6" x2="864.5" y2="281.6" stroke="#d020c0" stroke-width="2.0"/>
<text x="870.5" y="286.2" font-size="14.5" fill="#222" text-anchor="start">1.82</text>
<line x1="845.5" y1="300.8" x2="864.5" y2="300.8" stroke="#d02070" stroke-width="2.0"/>
<text x="870.5" y="305.4" font-size="14.5" fill="#222" text-anchor="start">1.87</text>
<line x1="542.0" y1="431.0" x2="561.0" y2="431.0" stroke="#cc2a2a" stroke-width="2.0"/>
<text x="567.0" y="435.6" font-size="14.5" fill="#222" text-anchor="start">0</text>
<line x1="542.0" y1="449.9" x2="561.0" y2="449.9" stroke="#dd6428" stroke-width="2.0"/>
<text x="567.0" y="454.5" font-size="14.5" fill="#222" text-anchor="start">0.01</text>
<line x1="542.0" y1="468.8" x2="561.0" y2="468.8" stroke="#e0a030" stroke-width="2.0"/>
<text x="567.0" y="473.4" font-size="14.5" fill="#222" text-anchor="start">0.15</text>
<line x1="614.0" y1="431.0" x2="633.0" y2="431.0" stroke="#c8d83a" stroke-width="2.0"/>
<text x="639.0" y="435.6" font-size="14.5" fill="#222" text-anchor="start">0.29</text>
<line x1="614.0" y1="449.9" x2="633.0" y2="449.9" stroke="#a0d840" stroke-width="2.0"/>
<text x="639.0" y="454.5" font-size="14.5" fill="#222" text-anchor="start">0.44</text>
<line x1="614.0" y1="468.8" x2="633.0" y2="468.8" stroke="#78d040" stroke-width="2.0"/>
<text x="639.0" y="473.4" font-size="14.5" fill="#222" text-anchor="start">0.58</text>
<line x1="687.5" y1="431.0" x2="706.5" y2="431.0" stroke="#58cc70" stroke-width="2.0"/>
<text x="712.5" y="435.6" font-size="14.5" fill="#222" text-anchor="start">0.73</text>
<line x1="687.5" y1="449.9" x2="706.5" y2="449.9" stroke="#58d0b0" stroke-width="2.0"/>
<text x="712.5" y="454.5" font-size="14.5" fill="#222" text-anchor="start">0.87</text>
<line x1="687.5" y1="468.8" x2="706.5" y2="468.8" stroke="#60b8e0" stroke-width="2.0"/>
<text x="712.5" y="473.4" font-size="14.5" fill="#222" text-anchor="start">1.01</text>
<line x1="763.5" y1="431.0" x2="782.5" y2="431.0" stroke="#4080e0" stroke-width="2.0"/>
<text x="788.5" y="435.6" font-size="14.5" fill="#222" text-anchor="start">1.16</text>
<line x1="763.5" y1="449.9" x2="782.5" y2="449.9" stroke="#2840c8" stroke-width="2.0"/>
<text x="788.5" y="454.5" font-size="14.5" fill="#222" text-anchor="start">1.30</text>
<line x1="763.5" y1="468.8" x2="782.5" y2="468.8" stroke="#5a28d0" stroke-width="2.0"/>
<text x="788.5" y="473.4" font-size="14.5" fill="#222" text-anchor="start">1.45</text>
<line x1="845.5" y1="431.0" x2="864.5" y2="431.0" stroke="#9a20d0" stroke-width="2.0"/>
<text x="870.5" y="435.6" font-size="14.5" fill="#222" text-anchor="start">1.59</text>
<line x1="845.5" y1="449.9" x2="864.5" y2="449.9" stroke="#d020c0" stroke-width="2.0"/>
<text x="870.5" y="454.5" font-size="14.5" fill="#222" text-anchor="start">1.73</text>
<line x1="845.5" y1="468.8" x2="864.5" y2="468.8" stroke="#d02070" stroke-width="2.0"/>
<text x="870.5" y="473.4" font-size="14.5" fill="#222" text-anchor="start">1.87</text>
<polyline points="323.4,80.0 323.4,38.6 492.8,38.6" stroke="#333" stroke-width="1.3" fill="none"/>
<line x1="362.3" y1="38.6" x2="362.3" y2="92.0" stroke="#333" stroke-width="1.3"/>
<line x1="386.9" y1="38.6" x2="386.9" y2="52.3" stroke="#333" stroke-width="1.3"/>
<line x1="452.7" y1="38.6" x2="452.7" y2="52.3" stroke="#333" stroke-width="1.3"/>
<text transform="translate(500.5 43.2) scale(1.12 1)" x="0" y="0" font-size="14" fill="#222" text-anchor="start">Mn<tspan font-size="9" baseline-shift="-3.5">3</tspan>O<tspan font-size="9" baseline-shift="-3.5">4</tspan> (s)</text>
<polyline points="367.4,116.4 415.3,70.9 516.0,70.9" stroke="#333" stroke-width="1.3" fill="none"/>
<line x1="497.7" y1="70.9" x2="466.2" y2="102.4" stroke="#333" stroke-width="1.3"/>
<text transform="translate(502.0 86.6) scale(1.12 1)" x="0" y="0" font-size="14" fill="#222" text-anchor="start">Mn(OH)<tspan font-size="9" baseline-shift="-3.5">2</tspan> (p)</text>
<text transform="translate(187.3 86.3) scale(1.12 1)" x="0" y="0" font-size="14" fill="#222" text-anchor="start">CNTs</text>
<polyline points="229.8,80.0 268.5,80.0 268.5,130.0" stroke="#333" stroke-width="1.3" fill="none"/>
<text transform="translate(163.5 121.0) scale(1.12 1)" x="0" y="0" font-size="14" fill="#222" text-anchor="start"><tspan font-style="italic" font-family="Liberation Serif, serif">γ</tspan>-MnO<tspan font-size="9" baseline-shift="-3.5">2</tspan></text>
<line x1="186.5" y1="125.5" x2="186.5" y2="158.8" stroke="#333" stroke-width="1.3"/>
<text transform="translate(133.5 140.5) scale(1.12 1)" x="0" y="0" font-size="14" fill="#222" text-anchor="start">p</text>
<text x="103.9" y="169.8" font-size="20.5" fill="#111" text-anchor="middle" font-weight="bold">(i)</text>
<text x="104.5" y="193.5" font-size="20" fill="#111" text-anchor="middle" font-weight="bold">MD</text>
<text transform="translate(490.4 132.0) scale(1.12 1)" x="0" y="0" font-size="14" fill="#222" text-anchor="middle">s</text>
<text transform="translate(603.0 152.0) scale(1.12 1)" x="0" y="0" font-size="14" fill="#222" text-anchor="middle">s</text>
<text transform="translate(696.2 158.5) scale(1.12 1)" x="0" y="0" font-size="14" fill="#222" text-anchor="middle">p</text>
<text transform="translate(713.8 159.5) scale(1.12 1)" x="0" y="0" font-size="14" fill="#222" text-anchor="middle">s</text>
<text transform="translate(790.7 161.0) scale(1.12 1)" x="0" y="0" font-size="14" fill="#222" text-anchor="middle">p</text>
<text transform="translate(844.4 161.0) scale(1.12 1)" x="0" y="0" font-size="14" fill="#222" text-anchor="middle">p/s</text>
<text transform="translate(864.8 162.0) scale(1.12 1)" x="0" y="0" font-size="14" fill="#222" text-anchor="middle">s</text>
<text transform="translate(207.6 233.4) scale(1.12 1)" x="0" y="0" font-size="14" fill="#222" text-anchor="start">Mn(OH)<tspan font-size="9" baseline-shift="-3.5">2</tspan> (p)</text>
<polyline points="293.5,227.0 461.5,227.0 461.5,235.0" stroke="#333" stroke-width="1.3" fill="none"/>
<line x1="363.0" y1="227.0" x2="363.0" y2="235.0" stroke="#333" stroke-width="1.3"/>
<text transform="translate(202.0 291.5) scale(1.12 1)" x="0" y="0" font-size="14" fill="#222" text-anchor="start">CNTs</text>
<polyline points="243.8,288.2 268.9,288.2 268.9,318.4" stroke="#333" stroke-width="1.3" fill="none"/>
<text transform="translate(151.9 316.0) scale(1.12 1)" x="0" y="0" font-size="14" fill="#222" text-anchor="start"><tspan font-style="italic" font-family="Liberation Serif, serif">δ</tspan>-MnO<tspan font-size="9" baseline-shift="-3.5">2</tspan></text>
<polyline points="205.3,310.0 263.3,310.0 263.3,321.6" stroke="#333" stroke-width="1.3" fill="none"/>
<text transform="translate(154.2 331.4) scale(1.12 1)" x="0" y="0" font-size="14" fill="#222" text-anchor="start">(002)</text>
<text x="104.3" y="349.4" font-size="20.5" fill="#111" text-anchor="middle" font-weight="bold">(ii)</text>
<text x="104.7" y="374.1" font-size="20" fill="#111" text-anchor="middle" font-weight="bold">MDB</text>
<line x1="698.6" y1="323.5" x2="721.0" y2="323.5" stroke="#333" stroke-width="1.3"/>
<text transform="translate(727.5 327.0) scale(1.12 1)" x="0" y="0" font-size="14" fill="#222" text-anchor="start">p</text>
<text transform="translate(787.0 333.5) scale(1.12 1)" x="0" y="0" font-size="14" fill="#222" text-anchor="middle">p</text>
<text transform="translate(847.8 335.5) scale(1.12 1)" x="0" y="0" font-size="14" fill="#222" text-anchor="middle">p</text>
<text transform="translate(226.0 425.5) scale(1.12 1)" x="0" y="0" font-size="14" fill="#222" text-anchor="start">Mn(OH)<tspan font-size="9" baseline-shift="-3.5">2</tspan> (p)</text>
<polyline points="312.0,416.2 333.0,407.0 461.5,407.0 461.5,414.0" stroke="#333" stroke-width="1.3" fill="none"/>
<line x1="363.0" y1="407.0" x2="363.0" y2="414.0" stroke="#333" stroke-width="1.3"/>
<text transform="translate(203.0 459.0) scale(1.12 1)" x="0" y="0" font-size="14" fill="#222" text-anchor="start">CNTs</text>
<polyline points="243.8,456.6 268.9,456.6 268.9,485.9" stroke="#333" stroke-width="1.3" fill="none"/>
<text transform="translate(151.9 483.6) scale(1.12 1)" x="0" y="0" font-size="14" fill="#222" text-anchor="start"><tspan font-style="italic" font-family="Liberation Serif, serif">δ</tspan>-MnO<tspan font-size="9" baseline-shift="-3.5">2</tspan></text>
<polyline points="205.3,479.0 263.3,479.0 263.3,488.0" stroke="#333" stroke-width="1.3" fill="none"/>
<text transform="translate(154.2 498.4) scale(1.12 1)" x="0" y="0" font-size="14" fill="#222" text-anchor="start">(002)</text>
<text x="102.0" y="523.4" font-size="20.5" fill="#111" text-anchor="middle" font-weight="bold">(iii)</text>
<text x="102.3" y="547.2" font-size="20" fill="#111" text-anchor="middle" font-weight="bold">MDBC</text>
<line x1="698.6" y1="495.5" x2="721.0" y2="495.5" stroke="#333" stroke-width="1.3"/>
<text transform="translate(727.5 498.5) scale(1.12 1)" x="0" y="0" font-size="14" fill="#222" text-anchor="start">p</text>
<text transform="translate(787.0 504.5) scale(1.12 1)" x="0" y="0" font-size="14" fill="#222" text-anchor="middle">p</text>
<text transform="translate(847.8 508.0) scale(1.12 1)" x="0" y="0" font-size="14" fill="#222" text-anchor="middle">p</text>
<text x="652.9" y="690.3" font-size="18.2" fill="#111" text-anchor="start" font-weight="bold" textLength="238.5" lengthAdjust="spacingAndGlyphs">Electron equivalents (x):</text>
<line x1="696.0" y1="713.3" x2="716.0" y2="713.3" stroke="#cc2a2a" stroke-width="2.0"/>
<text x="721.0" y="717.9" font-size="14.5" fill="#222" text-anchor="start">0</text>
<line x1="696.0" y1="732.6" x2="716.0" y2="732.6" stroke="#d88a30" stroke-width="2.0"/>
<text x="721.0" y="737.2" font-size="14.5" fill="#222" text-anchor="start">0.08</text>
<line x1="696.0" y1="752.0" x2="716.0" y2="752.0" stroke="#c8d040" stroke-width="2.0"/>
<text x="721.0" y="756.6" font-size="14.5" fill="#222" text-anchor="start">0.21</text>
<line x1="696.0" y1="771.3" x2="716.0" y2="771.3" stroke="#98d048" stroke-width="2.0"/>
<text x="721.0" y="775.9" font-size="14.5" fill="#222" text-anchor="start">0.34</text>
<line x1="768.0" y1="713.3" x2="788.0" y2="713.3" stroke="#70d070" stroke-width="2.0"/>
<text x="793.0" y="717.9" font-size="14.5" fill="#222" text-anchor="start">0.51</text>
<line x1="768.0" y1="732.6" x2="788.0" y2="732.6" stroke="#60d0d0" stroke-width="2.0"/>
<text x="793.0" y="737.2" font-size="14.5" fill="#222" text-anchor="start">0.64</text>
<line x1="768.0" y1="752.0" x2="788.0" y2="752.0" stroke="#3c6ee0" stroke-width="2.0"/>
<text x="793.0" y="756.6" font-size="14.5" fill="#222" text-anchor="start">0.81</text>
<line x1="840.0" y1="713.3" x2="860.0" y2="713.3" stroke="#3030c0" stroke-width="2.0"/>
<text x="865.0" y="717.9" font-size="14.5" fill="#222" text-anchor="start">0.93</text>
<line x1="840.0" y1="732.6" x2="860.0" y2="732.6" stroke="#a028d8" stroke-width="2.0"/>
<text x="865.0" y="737.2" font-size="14.5" fill="#222" text-anchor="start">1.06</text>
<line x1="840.0" y1="752.0" x2="860.0" y2="752.0" stroke="#d02080" stroke-width="2.0"/>
<text x="865.0" y="756.6" font-size="14.5" fill="#222" text-anchor="start">1.20</text>
<line x1="690.3" y1="909.0" x2="710.3" y2="909.0" stroke="#cc2a2a" stroke-width="2.0"/>
<text x="715.3" y="913.6" font-size="14.5" fill="#222" text-anchor="start">0</text>
<line x1="690.3" y1="928.1" x2="710.3" y2="928.1" stroke="#d88a30" stroke-width="2.0"/>
<text x="715.3" y="932.7" font-size="14.5" fill="#222" text-anchor="start">0.09</text>
<line x1="690.3" y1="947.2" x2="710.3" y2="947.2" stroke="#c8d040" stroke-width="2.0"/>
<text x="715.3" y="951.8" font-size="14.5" fill="#222" text-anchor="start">0.23</text>
<line x1="690.3" y1="966.3" x2="710.3" y2="966.3" stroke="#98d048" stroke-width="2.0"/>
<text x="715.3" y="970.9" font-size="14.5" fill="#222" text-anchor="start">0.37</text>
<line x1="763.1" y1="909.0" x2="783.1" y2="909.0" stroke="#70d070" stroke-width="2.0"/>
<text x="788.1" y="913.6" font-size="14.5" fill="#222" text-anchor="start">0.52</text>
<line x1="763.1" y1="928.1" x2="783.1" y2="928.1" stroke="#60d0d0" stroke-width="2.0"/>
<text x="788.1" y="932.7" font-size="14.5" fill="#222" text-anchor="start">0.67</text>
<line x1="763.1" y1="947.2" x2="783.1" y2="947.2" stroke="#3c6ee0" stroke-width="2.0"/>
<text x="788.1" y="951.8" font-size="14.5" fill="#222" text-anchor="start">0.81</text>
<line x1="835.0" y1="909.0" x2="855.0" y2="909.0" stroke="#3030c0" stroke-width="2.0"/>
<text x="860.0" y="913.6" font-size="14.5" fill="#222" text-anchor="start">0.95</text>
<line x1="835.0" y1="928.1" x2="855.0" y2="928.1" stroke="#a028d8" stroke-width="2.0"/>
<text x="860.0" y="932.7" font-size="14.5" fill="#222" text-anchor="start">1.10</text>
<line x1="835.0" y1="947.2" x2="855.0" y2="947.2" stroke="#d02080" stroke-width="2.0"/>
<text x="860.0" y="951.8" font-size="14.5" fill="#222" text-anchor="start">1.24</text>
<line x1="697.2" y1="1075.0" x2="717.7" y2="1075.0" stroke="#cc2a2a" stroke-width="2.0"/>
<text x="722.2" y="1079.6" font-size="14.5" fill="#222" text-anchor="start">0</text>
<line x1="697.2" y1="1094.4" x2="717.7" y2="1094.4" stroke="#d88a30" stroke-width="2.0"/>
<text x="722.2" y="1099.0" font-size="14.5" fill="#222" text-anchor="start">0.01</text>
<line x1="697.2" y1="1113.8" x2="717.7" y2="1113.8" stroke="#c8d040" stroke-width="2.0"/>
<text x="722.2" y="1118.4" font-size="14.5" fill="#222" text-anchor="start">0.15</text>
<line x1="697.2" y1="1133.2" x2="717.7" y2="1133.2" stroke="#98d048" stroke-width="2.0"/>
<text x="722.2" y="1137.8" font-size="14.5" fill="#222" text-anchor="start">0.29</text>
<line x1="769.0" y1="1075.0" x2="789.5" y2="1075.0" stroke="#70d070" stroke-width="2.0"/>
<text x="794.0" y="1079.6" font-size="14.5" fill="#222" text-anchor="start">0.44</text>
<line x1="769.0" y1="1094.4" x2="789.5" y2="1094.4" stroke="#60d0d0" stroke-width="2.0"/>
<text x="794.0" y="1099.0" font-size="14.5" fill="#222" text-anchor="start">0.58</text>
<line x1="769.0" y1="1113.8" x2="789.5" y2="1113.8" stroke="#3c6ee0" stroke-width="2.0"/>
<text x="794.0" y="1118.4" font-size="14.5" fill="#222" text-anchor="start">0.73</text>
<line x1="841.1" y1="1075.0" x2="861.6" y2="1075.0" stroke="#3030c0" stroke-width="2.0"/>
<text x="866.1" y="1079.6" font-size="14.5" fill="#222" text-anchor="start">0.87</text>
<line x1="841.1" y1="1094.4" x2="861.6" y2="1094.4" stroke="#a028d8" stroke-width="2.0"/>
<text x="866.1" y="1099.0" font-size="14.5" fill="#222" text-anchor="start">1.01</text>
<line x1="841.1" y1="1113.8" x2="861.6" y2="1113.8" stroke="#d02080" stroke-width="2.0"/>
<text x="866.1" y="1118.4" font-size="14.5" fill="#222" text-anchor="start">1.16</text>
<text x="565.0" y="809.1" font-size="20.5" fill="#111" text-anchor="middle" font-weight="bold">(i)</text>
<text x="565.6" y="833.8" font-size="20" fill="#111" text-anchor="middle" font-weight="bold">MD</text>
<text x="565.6" y="931.7" font-size="20.5" fill="#111" text-anchor="middle" font-weight="bold">(ii)</text>
<text x="566.0" y="955.5" font-size="20" fill="#111" text-anchor="middle" font-weight="bold">MDB</text>
<text x="565.2" y="1101.6" font-size="20.5" fill="#111" text-anchor="middle" font-weight="bold">(iii)</text>
<text x="565.9" y="1125.5" font-size="20" fill="#111" text-anchor="middle" font-weight="bold">MDBC</text>
<polyline points="272.6,674.2 272.6,646.4 431.8,697.8 454.4,697.8" stroke="#111" stroke-width="3.2" fill="none" stroke-linejoin="miter"/>
<line x1="431.8" y1="697.8" x2="431.8" y2="791.9" stroke="#111" stroke-width="3.2"/>
<text transform="translate(465.0 706.2) scale(1.12 1)" x="0" y="0" font-size="14" fill="#222" text-anchor="start"><tspan font-style="italic" font-family="Liberation Serif, serif">ε</tspan>-MnO<tspan font-size="9" baseline-shift="-3.5">2</tspan></text>
<text transform="translate(440.0 725.8) scale(1.12 1)" x="0" y="0" font-size="14" fill="#222" text-anchor="start">(101)</text>
<text transform="translate(276.9 681.5) scale(1.12 1)" x="0" y="0" font-size="14" fill="#222" text-anchor="start">(100)</text>
<polyline points="843.5,804.0 827.6,804.0 827.6,867.6" stroke="#111" stroke-width="3.2" fill="none" stroke-linejoin="miter"/>
<text transform="translate(851.4 810.5) scale(1.12 1)" x="0" y="0" font-size="14" fill="#222" text-anchor="start"><tspan font-style="italic" font-family="Liberation Serif, serif">ε</tspan>-MnO<tspan font-size="9" baseline-shift="-3.5">2</tspan></text>
<text transform="translate(840.9 828.0) scale(1.12 1)" x="0" y="0" font-size="14" fill="#222" text-anchor="start">(102)</text>
<line x1="272.6" y1="810.8" x2="272.6" y2="887.0" stroke="#111" stroke-width="3.2"/>
<line x1="431.8" y1="880.5" x2="431.8" y2="938.3" stroke="#111" stroke-width="3.2"/>
<line x1="827.6" y1="962.0" x2="827.6" y2="993.8" stroke="#111" stroke-width="3.2"/>
<line x1="272.6" y1="980.0" x2="272.6" y2="1039.8" stroke="#111" stroke-width="3.2"/>
<line x1="431.8" y1="1045.0" x2="431.8" y2="1101.9" stroke="#111" stroke-width="3.2"/>
<line x1="827.6" y1="1127.3" x2="827.6" y2="1172.3" stroke="#111" stroke-width="3.2"/>
<text transform="translate(136.6 655.5) scale(1.12 1)" x="0" y="0" font-size="14" fill="#222" text-anchor="middle">s</text>
<text transform="translate(249.0 659.0) scale(1.12 1)" x="0" y="0" font-size="14" fill="#222" text-anchor="middle">s</text>
<line x1="249.0" y1="663.5" x2="249.0" y2="697.8" stroke="#555" stroke-width="1.3"/>
<text transform="translate(312.5 764.5) scale(1.12 1)" x="0" y="0" font-size="14" fill="#222" text-anchor="middle">s</text>
<text transform="translate(498.3 850.7) scale(1.12 1)" x="0" y="0" font-size="14" fill="#222" text-anchor="middle">s</text>
<text transform="translate(262.7 846.3) scale(1.12 1)" x="0" y="0" font-size="14" fill="#222" text-anchor="middle">p</text>
<text transform="translate(662.5 985.9) scale(1.12 1)" x="0" y="0" font-size="14" fill="#222" text-anchor="middle">p</text>
<text x="155.8" y="666.5" font-size="14" fill="#5b7fe6" text-anchor="start" textLength="68.5" lengthAdjust="spacingAndGlyphs"><tspan font-style="italic" font-family="Liberation Serif, serif">α</tspan>-MnOOH</text>
<text x="0.0" y="0.0" font-size="14" fill="#5b7fe6" text-anchor="start" transform="translate(167.6 710.6) rotate(-90) scale(1.12 1)">(400)</text>
<text transform="translate(190.0 687.0) scale(1.12 1)" x="0" y="0" font-size="14" fill="#5b7fe6" text-anchor="start">(210)</text>
<polyline points="175.0,673.4 175.0,723.4" stroke="#5b7fe6" stroke-width="1.1" fill="none"/>
<polyline points="175.0,700.7 213.6,700.7 213.6,719.0" stroke="#5b7fe6" stroke-width="1.1" fill="none"/>
<text x="318.4" y="725.6" font-size="14" fill="#5b7fe6" text-anchor="start" textLength="69.3" lengthAdjust="spacingAndGlyphs"><tspan font-style="italic" font-family="Liberation Serif, serif">α</tspan>-MnOOH</text>
<text transform="translate(354.8 746.0) scale(1.12 1)" x="0" y="0" font-size="14" fill="#5b7fe6" text-anchor="start">(401)</text>
<line x1="344.0" y1="736.0" x2="344.0" y2="790.0" stroke="#5b7fe6" stroke-width="1.1"/>
<line x1="366.7" y1="764.7" x2="366.7" y2="937.5" stroke="#5b7fe6" stroke-width="1.1"/>
<line x1="375.8" y1="764.7" x2="375.8" y2="809.5" stroke="#5b7fe6" stroke-width="1.1"/>
<line x1="366.7" y1="764.7" x2="457.2" y2="764.7" stroke="#5b7fe6" stroke-width="1.1"/>
<text x="465.0" y="769.7" font-size="14" fill="#5b7fe6" text-anchor="start" textLength="70.4" lengthAdjust="spacingAndGlyphs"><tspan font-style="italic" font-family="Liberation Serif, serif">α</tspan>-MnOOH</text>
<text transform="translate(473.0 788.2) scale(1.12 1)" x="0" y="0" font-size="14" fill="#5b7fe6" text-anchor="start">(211)</text>
<text x="529.6" y="758.0" font-size="32" fill="#5b7fe6" text-anchor="middle" font-weight="bold">*</text>
<text x="645.0" y="799.0" font-size="32" fill="#5b7fe6" text-anchor="middle" font-weight="bold">*</text>
<text x="637.0" y="810.5" font-size="14" fill="#5b7fe6" text-anchor="start" textLength="68.9" lengthAdjust="spacingAndGlyphs"><tspan font-style="italic" font-family="Liberation Serif, serif">α</tspan>-MnOOH</text>
<text transform="translate(674.0 830.6) scale(1.12 1)" x="0" y="0" font-size="14" fill="#5b7fe6" text-anchor="start">(212)</text>
<polyline points="713.8,805.0 769.4,805.0 769.4,873.0" stroke="#5b7fe6" stroke-width="1.1" fill="none"/>
<line x1="756.8" y1="805.0" x2="756.8" y2="1002.5" stroke="#5b7fe6" stroke-width="1.1"/>
<line x1="756.8" y1="1071.8" x2="756.8" y2="1159.1" stroke="#5b7fe6" stroke-width="1.1"/>
<line x1="335.5" y1="777.0" x2="365.5" y2="777.0" stroke="#5b7fe6" stroke-width="1.3"/>
<polygon points="365.5,777.0 356.5,782.0 356.5,772.0" fill="#5b7fe6"/>
<line x1="408.0" y1="777.0" x2="376.0" y2="777.0" stroke="#5b7fe6" stroke-width="1.3"/>
<polygon points="376.0,777.0 385.0,772.0 385.0,782.0" fill="#5b7fe6"/>
<line x1="722.8" y1="852.7" x2="754.1" y2="852.7" stroke="#5b7fe6" stroke-width="1.3"/>
<polygon points="754.1,852.7 745.1,857.7 745.1,847.7" fill="#5b7fe6"/>
<line x1="803.1" y1="852.7" x2="771.7" y2="852.7" stroke="#5b7fe6" stroke-width="1.3"/>
<polygon points="771.7,852.7 780.7,847.7 780.7,857.7" fill="#5b7fe6"/>
<line x1="212.7" y1="810.0" x2="212.7" y2="880.5" stroke="#5b7fe6" stroke-width="1.1"/>
<line x1="345.0" y1="848.4" x2="345.0" y2="959.7" stroke="#5b7fe6" stroke-width="1.1"/>
<line x1="212.7" y1="1005.6" x2="212.7" y2="1074.0" stroke="#5b7fe6" stroke-width="1.1"/>
<line x1="344.0" y1="1016.3" x2="344.0" y2="1108.3" stroke="#5b7fe6" stroke-width="1.1"/>
<line x1="366.7" y1="1016.3" x2="366.7" y2="1114.7" stroke="#5b7fe6" stroke-width="1.1"/>
<text transform="translate(87.4 917.8) scale(1.12 1)" x="0" y="0" font-size="14" fill="#999999" text-anchor="start">BiMn<tspan font-size="9" baseline-shift="-3.5">2</tspan>O<tspan font-size="9" baseline-shift="-3.5">5</tspan></text>
<text transform="translate(99.4 939.1) scale(1.12 1)" x="0" y="0" font-size="14" fill="#999999" text-anchor="start">(112)</text>
<polyline points="151.6,913.9 180.0,913.9 180.0,890.0" stroke="#999999" stroke-width="1.3" fill="none"/>
<line x1="180.0" y1="895.0" x2="180.0" y2="881.8" stroke="#999999" stroke-width="1.3"/>
<polygon points="180.0,881.8 185.0,890.8 175.0,890.8" fill="#999999"/>
<text transform="translate(102.4 1083.5) scale(1.12 1)" x="0" y="0" font-size="14" fill="#999999" text-anchor="start">BiMn<tspan font-size="9" baseline-shift="-3.5">2</tspan>O<tspan font-size="9" baseline-shift="-3.5">5</tspan></text>
<text transform="translate(113.0 1104.9) scale(1.12 1)" x="0" y="0" font-size="14" fill="#999999" text-anchor="start">(112)</text>
<polyline points="155.8,1101.9 181.5,1101.9 181.5,1078.0" stroke="#999999" stroke-width="1.3" fill="none"/>
<line x1="181.5" y1="1083.0" x2="181.5" y2="1069.8" stroke="#999999" stroke-width="1.3"/>
<polygon points="181.5,1069.8 186.5,1078.8 176.5,1078.8" fill="#999999"/>
<line x1="213.6" y1="989.6" x2="213.6" y2="970.0" stroke="#5a9a3a" stroke-width="1.8"/>
<polygon points="213.6,970.0 219.6,980.0 207.6,980.0" fill="#5a9a3a"/>
<line x1="243.5" y1="989.6" x2="243.5" y2="970.0" stroke="#5a9a3a" stroke-width="1.8"/>
<polygon points="243.5,970.0 249.5,980.0 237.5,980.0" fill="#5a9a3a"/>
<line x1="291.9" y1="989.6" x2="291.9" y2="970.0" stroke="#5a9a3a" stroke-width="1.8"/>
<polygon points="291.9,970.0 297.9,980.0 285.9,980.0" fill="#5a9a3a"/>
<line x1="362.3" y1="1017.7" x2="362.3" y2="996.9" stroke="#5a9a3a" stroke-width="1.8"/>
<polygon points="362.3,996.9 368.3,1006.9 356.3,1006.9" fill="#5a9a3a"/>
<line x1="437.4" y1="1030.9" x2="437.4" y2="1009.4" stroke="#5a9a3a" stroke-width="1.8"/>
<polygon points="437.4,1009.4 443.4,1019.4 431.4,1019.4" fill="#5a9a3a"/>
<line x1="553.6" y1="1047.3" x2="553.6" y2="1025.5" stroke="#5a9a3a" stroke-width="1.8"/>
<polygon points="553.6,1025.5 559.6,1035.5 547.6,1035.5" fill="#5a9a3a"/>
<line x1="661.3" y1="1059.5" x2="661.3" y2="1039.0" stroke="#5a9a3a" stroke-width="1.8"/>
<polygon points="661.3,1039.0 667.3,1049.0 655.3,1049.0" fill="#5a9a3a"/>
<line x1="752.2" y1="1059.5" x2="752.2" y2="1039.0" stroke="#5a9a3a" stroke-width="1.8"/>
<polygon points="752.2,1039.0 758.2,1049.0 746.2,1049.0" fill="#5a9a3a"/>
<line x1="213.6" y1="1147.6" x2="213.6" y2="1125.4" stroke="#5a9a3a" stroke-width="1.8"/>
<polygon points="213.6,1125.4 219.6,1135.4 207.6,1135.4" fill="#5a9a3a"/>
<line x1="239.3" y1="1147.6" x2="239.3" y2="1125.4" stroke="#5a9a3a" stroke-width="1.8"/>
<polygon points="239.3,1125.4 245.3,1135.4 233.3,1135.4" fill="#5a9a3a"/>
<line x1="291.9" y1="1147.6" x2="291.9" y2="1114.7" stroke="#5a9a3a" stroke-width="1.8"/>
<polygon points="291.9,1114.7 297.9,1124.7 285.9,1124.7" fill="#5a9a3a"/>
<line x1="361.2" y1="1174.6" x2="361.2" y2="1151.0" stroke="#5a9a3a" stroke-width="1.8"/>
<polygon points="361.2,1151.0 367.2,1161.0 355.2,1161.0" fill="#5a9a3a"/>
<line x1="437.3" y1="1198.2" x2="437.3" y2="1177.3" stroke="#5a9a3a" stroke-width="1.8"/>
<polygon points="437.3,1177.3 443.3,1187.3 431.3,1187.3" fill="#5a9a3a"/>
<line x1="554.5" y1="1212.7" x2="554.5" y2="1190.0" stroke="#5a9a3a" stroke-width="1.8"/>
<polygon points="554.5,1190.0 560.5,1200.0 548.5,1200.0" fill="#5a9a3a"/>
<line x1="663.0" y1="1214.0" x2="663.0" y2="1197.8" stroke="#5a9a3a" stroke-width="1.8"/>
<polygon points="663.0,1197.8 669.0,1207.8 657.0,1207.8" fill="#5a9a3a"/>
<line x1="753.4" y1="1214.0" x2="753.4" y2="1197.8" stroke="#5a9a3a" stroke-width="1.8"/>
<polygon points="753.4,1197.8 759.4,1207.8 747.4,1207.8" fill="#5a9a3a"/>
<text transform="translate(104.5 1153.2) scale(1.12 1)" x="0" y="0" font-size="14" fill="#6a9a48" text-anchor="start"><tspan font-style="italic" font-family="Liberation Serif, serif">δ</tspan>-MnO<tspan font-size="9" baseline-shift="-3.5">2</tspan></text>
<polyline points="164.4,1147.6 291.9,1147.6 434.8,1198.1 438.2,1198.1" stroke="#7aab5a" stroke-width="1.2" fill="none"/>
<text transform="translate(190.0 1176.7) scale(1.12 1)" x="0" y="0" font-size="14" fill="#6a9a48" text-anchor="start">(201)</text>
<line x1="196.4" y1="1164.9" x2="202.7" y2="1164.9" stroke="#6a9a48" stroke-width="1.1"/>
<text transform="translate(190.0 1197.3) scale(1.12 1)" x="0" y="0" font-size="14" fill="#6a9a48" text-anchor="start">(200)</text>
<text transform="translate(230.7 1176.7) scale(1.12 1)" x="0" y="0" font-size="14" fill="#6a9a48" text-anchor="start">(110)</text>
<text transform="translate(275.6 1176.7) scale(1.12 1)" x="0" y="0" font-size="14" fill="#6a9a48" text-anchor="start">(111)</text>
<line x1="282.0" y1="1164.9" x2="288.3" y2="1164.9" stroke="#6a9a48" stroke-width="1.1"/>
<text transform="translate(344.0 1198.0) scale(1.12 1)" x="0" y="0" font-size="14" fill="#6a9a48" text-anchor="start">(201)</text>
<text transform="translate(442.5 1206.7) scale(1.12 1)" x="0" y="0" font-size="14" fill="#6a9a48" text-anchor="start">(112)</text>
<line x1="448.9" y1="1194.9" x2="455.2" y2="1194.9" stroke="#6a9a48" stroke-width="1.1"/>
<text transform="translate(565.6 1204.1) scale(1.12 1)" x="0" y="0" font-size="14" fill="#6a9a48" text-anchor="start">(202)</text>
<text transform="translate(648.7 1168.6) scale(1.12 1)" x="0" y="0" font-size="14" fill="#6a9a48" text-anchor="start">(113)</text>
<line x1="655.1" y1="1156.8" x2="661.4" y2="1156.8" stroke="#6a9a48" stroke-width="1.1"/>
<text transform="translate(700.6 1157.5) scale(1.12 1)" x="0" y="0" font-size="14" fill="#6a9a48" text-anchor="start">(004)</text>
</g>
</svg></body></html>
